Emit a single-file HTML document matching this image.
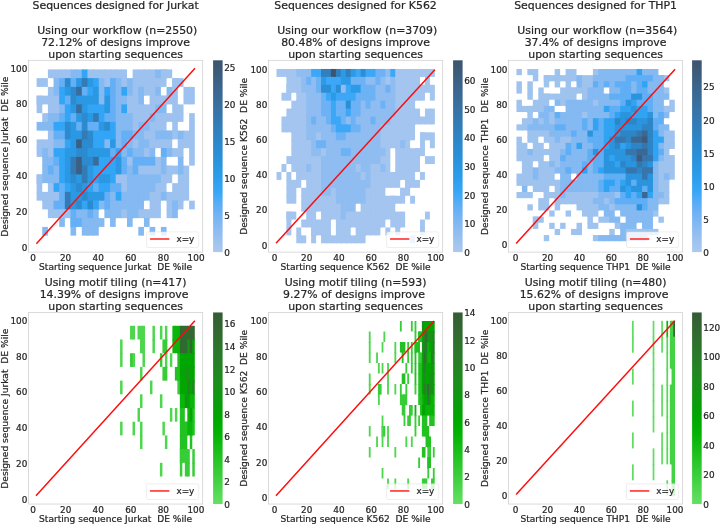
<!DOCTYPE html>
<html><head><meta charset="utf-8"><title>Designed vs starting sequence DE %ile</title>
<style>html,body{margin:0;padding:0;background:#fff}svg{display:block}text{font-family:"DejaVu Sans","Liberation Sans",sans-serif;fill:#262626;stroke:#262626;stroke-width:0.22px}.t{font-size:10.9px;text-anchor:middle}.l{font-size:9.1px;text-anchor:middle;white-space:pre}.k{font-size:8.9px}</style></head><body>
<svg width="720" height="524" viewBox="0 0 720 524">
<rect width="720" height="524" fill="#fff"/>
<defs><linearGradient id="gb" x1="0" y1="0" x2="0" y2="1"><stop offset="0.000" stop-color="#3d546e"/><stop offset="0.062" stop-color="#3d5b7b"/><stop offset="0.125" stop-color="#3c6389"/><stop offset="0.188" stop-color="#3a6a96"/><stop offset="0.250" stop-color="#3872a4"/><stop offset="0.312" stop-color="#3479b2"/><stop offset="0.375" stop-color="#3081bf"/><stop offset="0.438" stop-color="#2c89cc"/><stop offset="0.500" stop-color="#2a90d8"/><stop offset="0.562" stop-color="#2a98e3"/><stop offset="0.625" stop-color="#2e9fee"/><stop offset="0.688" stop-color="#39a7f7"/><stop offset="0.750" stop-color="#5badf6"/><stop offset="0.812" stop-color="#74b4f4"/><stop offset="0.875" stop-color="#89bbf2"/><stop offset="0.938" stop-color="#9cc2f0"/><stop offset="1.000" stop-color="#acc9ee"/></linearGradient><linearGradient id="gg" x1="0" y1="0" x2="0" y2="1"><stop offset="0.000" stop-color="#355b35"/><stop offset="0.062" stop-color="#336433"/><stop offset="0.125" stop-color="#306c30"/><stop offset="0.188" stop-color="#2c752c"/><stop offset="0.250" stop-color="#277e27"/><stop offset="0.312" stop-color="#218721"/><stop offset="0.375" stop-color="#199019"/><stop offset="0.438" stop-color="#109810"/><stop offset="0.500" stop-color="#06a006"/><stop offset="0.562" stop-color="#00a900"/><stop offset="0.625" stop-color="#03b103"/><stop offset="0.688" stop-color="#11ba11"/><stop offset="0.750" stop-color="#21c221"/><stop offset="0.812" stop-color="#31ca31"/><stop offset="0.875" stop-color="#41d141"/><stop offset="0.938" stop-color="#53d953"/><stop offset="1.000" stop-color="#65df65"/></linearGradient></defs>
<g>
<rect x="47.9" y="69.4" width="6.55" height="8.75" fill="#9dc2f0"/><rect x="53.55" y="69.4" width="6.55" height="9.65" fill="#9dc2f0"/><rect x="59.2" y="69.4" width="6.55" height="9.65" fill="#9dc2f0"/><rect x="64.85" y="69.4" width="6.55" height="9.65" fill="#9dc2f0"/><rect x="70.5" y="69.4" width="6.55" height="9.65" fill="#84b9f2"/><rect x="76.15" y="69.4" width="6.55" height="9.65" fill="#84b9f2"/><rect x="81.8" y="69.4" width="6.55" height="9.65" fill="#33a5f6"/><rect x="87.45" y="69.4" width="6.55" height="9.65" fill="#9dc2f0"/><rect x="93.1" y="69.4" width="6.55" height="9.65" fill="#9dc2f0"/><rect x="98.75" y="69.4" width="6.55" height="9.65" fill="#9dc2f0"/><rect x="104.4" y="69.4" width="6.55" height="9.65" fill="#9dc2f0"/><rect x="110.05" y="69.4" width="6.55" height="9.65" fill="#9dc2f0"/><rect x="115.7" y="69.4" width="6.55" height="9.65" fill="#9dc2f0"/><rect x="121.35" y="69.4" width="5.65" height="9.65" fill="#9dc2f0"/><rect x="132.65" y="69.4" width="6.55" height="9.65" fill="#9dc2f0"/><rect x="138.3" y="69.4" width="6.55" height="9.65" fill="#9dc2f0"/><rect x="143.95" y="69.4" width="6.55" height="9.65" fill="#9dc2f0"/><rect x="149.6" y="69.4" width="6.55" height="9.65" fill="#9dc2f0"/><rect x="155.25" y="69.4" width="6.55" height="9.65" fill="#84b9f2"/><rect x="160.9" y="69.4" width="6.55" height="8.75" fill="#9dc2f0"/><rect x="160.9" y="69.4" width="5.65" height="9.65" fill="#9dc2f0"/><rect x="166.55" y="69.4" width="5.65" height="8.75" fill="#9dc2f0"/><rect x="36.6" y="78.15" width="6.55" height="8.75" fill="#9dc2f0"/><rect x="42.25" y="78.15" width="5.65" height="8.75" fill="#9dc2f0"/><rect x="53.55" y="78.15" width="6.55" height="9.65" fill="#84b9f2"/><rect x="59.2" y="78.15" width="6.55" height="9.65" fill="#64aff5"/><rect x="64.85" y="78.15" width="6.55" height="9.65" fill="#2c8ace"/><rect x="70.5" y="78.15" width="6.55" height="9.65" fill="#64aff5"/><rect x="76.15" y="78.15" width="6.55" height="9.65" fill="#2a98e3"/><rect x="81.8" y="78.15" width="6.55" height="9.65" fill="#337bb5"/><rect x="87.45" y="78.15" width="6.55" height="9.65" fill="#2a98e3"/><rect x="93.1" y="78.15" width="6.55" height="9.65" fill="#33a5f6"/><rect x="98.75" y="78.15" width="6.55" height="9.65" fill="#84b9f2"/><rect x="104.4" y="78.15" width="6.55" height="9.65" fill="#9dc2f0"/><rect x="110.05" y="78.15" width="6.55" height="9.65" fill="#64aff5"/><rect x="115.7" y="78.15" width="6.55" height="9.65" fill="#84b9f2"/><rect x="121.35" y="78.15" width="6.55" height="9.65" fill="#9dc2f0"/><rect x="127" y="78.15" width="6.55" height="9.65" fill="#84b9f2"/><rect x="132.65" y="78.15" width="6.55" height="9.65" fill="#9dc2f0"/><rect x="138.3" y="78.15" width="6.55" height="9.65" fill="#9dc2f0"/><rect x="143.95" y="78.15" width="6.55" height="9.65" fill="#9dc2f0"/><rect x="149.6" y="78.15" width="6.55" height="9.65" fill="#9dc2f0"/><rect x="155.25" y="78.15" width="6.55" height="8.75" fill="#9dc2f0"/><rect x="155.25" y="78.15" width="5.65" height="9.65" fill="#9dc2f0"/><rect x="160.9" y="78.15" width="5.65" height="8.75" fill="#9dc2f0"/><rect x="172.2" y="78.15" width="6.55" height="8.75" fill="#9dc2f0"/><rect x="172.2" y="78.15" width="5.65" height="9.65" fill="#9dc2f0"/><rect x="177.85" y="78.15" width="5.65" height="8.75" fill="#9dc2f0"/><rect x="47.9" y="86.9" width="6.55" height="9.65" fill="#9dc2f0"/><rect x="53.55" y="86.9" width="6.55" height="9.65" fill="#84b9f2"/><rect x="59.2" y="86.9" width="6.55" height="9.65" fill="#33a5f6"/><rect x="64.85" y="86.9" width="6.55" height="9.65" fill="#2a98e3"/><rect x="70.5" y="86.9" width="6.55" height="9.65" fill="#2c8ace"/><rect x="76.15" y="86.9" width="6.55" height="9.65" fill="#3a6d9c"/><rect x="81.8" y="86.9" width="6.55" height="9.65" fill="#64aff5"/><rect x="87.45" y="86.9" width="6.55" height="9.65" fill="#33a5f6"/><rect x="93.1" y="86.9" width="6.55" height="9.65" fill="#2a98e3"/><rect x="98.75" y="86.9" width="6.55" height="9.65" fill="#84b9f2"/><rect x="104.4" y="86.9" width="6.55" height="9.65" fill="#33a5f6"/><rect x="110.05" y="86.9" width="6.55" height="9.65" fill="#64aff5"/><rect x="115.7" y="86.9" width="6.55" height="9.65" fill="#84b9f2"/><rect x="121.35" y="86.9" width="6.55" height="9.65" fill="#33a5f6"/><rect x="127" y="86.9" width="6.55" height="9.65" fill="#84b9f2"/><rect x="132.65" y="86.9" width="6.55" height="9.65" fill="#9dc2f0"/><rect x="138.3" y="86.9" width="6.55" height="8.75" fill="#84b9f2"/><rect x="138.3" y="86.9" width="5.65" height="9.65" fill="#84b9f2"/><rect x="143.95" y="86.9" width="6.55" height="8.75" fill="#9dc2f0"/><rect x="149.6" y="86.9" width="6.55" height="9.65" fill="#9dc2f0"/><rect x="155.25" y="86.9" width="5.65" height="9.65" fill="#84b9f2"/><rect x="166.55" y="86.9" width="6.55" height="9.65" fill="#84b9f2"/><rect x="172.2" y="86.9" width="5.65" height="9.65" fill="#9dc2f0"/><rect x="183.5" y="86.9" width="6.55" height="9.65" fill="#9dc2f0"/><rect x="189.15" y="86.9" width="5.65" height="9.65" fill="#9dc2f0"/><rect x="36.6" y="95.65" width="6.55" height="8.75" fill="#9dc2f0"/><rect x="36.6" y="95.65" width="5.65" height="9.65" fill="#9dc2f0"/><rect x="42.25" y="95.65" width="6.55" height="8.75" fill="#9dc2f0"/><rect x="47.9" y="95.65" width="6.55" height="9.65" fill="#9dc2f0"/><rect x="53.55" y="95.65" width="6.55" height="9.65" fill="#9dc2f0"/><rect x="59.2" y="95.65" width="6.55" height="9.65" fill="#33a5f6"/><rect x="64.85" y="95.65" width="6.55" height="9.65" fill="#64aff5"/><rect x="70.5" y="95.65" width="6.55" height="9.65" fill="#2c8ace"/><rect x="76.15" y="95.65" width="6.55" height="9.65" fill="#2a98e3"/><rect x="81.8" y="95.65" width="6.55" height="9.65" fill="#2a98e3"/><rect x="87.45" y="95.65" width="6.55" height="9.65" fill="#2a98e3"/><rect x="93.1" y="95.65" width="6.55" height="9.65" fill="#2a98e3"/><rect x="98.75" y="95.65" width="6.55" height="9.65" fill="#84b9f2"/><rect x="104.4" y="95.65" width="6.55" height="9.65" fill="#2a98e3"/><rect x="110.05" y="95.65" width="6.55" height="9.65" fill="#64aff5"/><rect x="115.7" y="95.65" width="6.55" height="9.65" fill="#84b9f2"/><rect x="121.35" y="95.65" width="6.55" height="9.65" fill="#84b9f2"/><rect x="127" y="95.65" width="6.55" height="9.65" fill="#9dc2f0"/><rect x="132.65" y="95.65" width="6.55" height="9.65" fill="#9dc2f0"/><rect x="138.3" y="95.65" width="5.65" height="9.65" fill="#84b9f2"/><rect x="149.6" y="95.65" width="6.55" height="9.65" fill="#9dc2f0"/><rect x="155.25" y="95.65" width="6.55" height="9.65" fill="#9dc2f0"/><rect x="160.9" y="95.65" width="6.55" height="8.75" fill="#9dc2f0"/><rect x="160.9" y="95.65" width="5.65" height="9.65" fill="#9dc2f0"/><rect x="166.55" y="95.65" width="6.55" height="8.75" fill="#9dc2f0"/><rect x="172.2" y="95.65" width="5.65" height="9.65" fill="#9dc2f0"/><rect x="183.5" y="95.65" width="6.55" height="8.75" fill="#9dc2f0"/><rect x="189.15" y="95.65" width="5.65" height="8.75" fill="#9dc2f0"/><rect x="36.6" y="104.4" width="5.65" height="8.75" fill="#9dc2f0"/><rect x="47.9" y="104.4" width="6.55" height="9.65" fill="#9dc2f0"/><rect x="53.55" y="104.4" width="6.55" height="9.65" fill="#9dc2f0"/><rect x="59.2" y="104.4" width="6.55" height="9.65" fill="#84b9f2"/><rect x="64.85" y="104.4" width="6.55" height="9.65" fill="#33a5f6"/><rect x="70.5" y="104.4" width="6.55" height="9.65" fill="#2a98e3"/><rect x="76.15" y="104.4" width="6.55" height="9.65" fill="#3a6d9c"/><rect x="81.8" y="104.4" width="6.55" height="9.65" fill="#2a98e3"/><rect x="87.45" y="104.4" width="6.55" height="9.65" fill="#33a5f6"/><rect x="93.1" y="104.4" width="6.55" height="9.65" fill="#33a5f6"/><rect x="98.75" y="104.4" width="6.55" height="9.65" fill="#33a5f6"/><rect x="104.4" y="104.4" width="6.55" height="9.65" fill="#2a98e3"/><rect x="110.05" y="104.4" width="6.55" height="9.65" fill="#64aff5"/><rect x="115.7" y="104.4" width="6.55" height="9.65" fill="#84b9f2"/><rect x="121.35" y="104.4" width="6.55" height="9.65" fill="#33a5f6"/><rect x="127" y="104.4" width="6.55" height="9.65" fill="#9dc2f0"/><rect x="132.65" y="104.4" width="6.55" height="9.65" fill="#9dc2f0"/><rect x="138.3" y="104.4" width="6.55" height="9.65" fill="#9dc2f0"/><rect x="143.95" y="104.4" width="6.55" height="9.65" fill="#9dc2f0"/><rect x="149.6" y="104.4" width="6.55" height="9.65" fill="#9dc2f0"/><rect x="155.25" y="104.4" width="6.55" height="9.65" fill="#84b9f2"/><rect x="160.9" y="104.4" width="5.65" height="9.65" fill="#84b9f2"/><rect x="172.2" y="104.4" width="6.55" height="9.65" fill="#9dc2f0"/><rect x="177.85" y="104.4" width="5.65" height="9.65" fill="#9dc2f0"/><rect x="42.25" y="113.15" width="6.55" height="9.65" fill="#9dc2f0"/><rect x="47.9" y="113.15" width="6.55" height="9.65" fill="#84b9f2"/><rect x="53.55" y="113.15" width="6.55" height="9.65" fill="#84b9f2"/><rect x="59.2" y="113.15" width="6.55" height="9.65" fill="#64aff5"/><rect x="64.85" y="113.15" width="6.55" height="9.65" fill="#33a5f6"/><rect x="70.5" y="113.15" width="6.55" height="9.65" fill="#64aff5"/><rect x="76.15" y="113.15" width="6.55" height="9.65" fill="#2a98e3"/><rect x="81.8" y="113.15" width="6.55" height="9.65" fill="#2c8ace"/><rect x="87.45" y="113.15" width="6.55" height="9.65" fill="#2a98e3"/><rect x="93.1" y="113.15" width="6.55" height="9.65" fill="#337bb5"/><rect x="98.75" y="113.15" width="6.55" height="9.65" fill="#33a5f6"/><rect x="104.4" y="113.15" width="6.55" height="9.65" fill="#64aff5"/><rect x="110.05" y="113.15" width="6.55" height="9.65" fill="#64aff5"/><rect x="115.7" y="113.15" width="6.55" height="9.65" fill="#84b9f2"/><rect x="121.35" y="113.15" width="6.55" height="9.65" fill="#84b9f2"/><rect x="127" y="113.15" width="6.55" height="9.65" fill="#84b9f2"/><rect x="132.65" y="113.15" width="6.55" height="9.65" fill="#9dc2f0"/><rect x="138.3" y="113.15" width="6.55" height="9.65" fill="#9dc2f0"/><rect x="143.95" y="113.15" width="6.55" height="9.65" fill="#9dc2f0"/><rect x="149.6" y="113.15" width="6.55" height="9.65" fill="#84b9f2"/><rect x="155.25" y="113.15" width="6.55" height="9.65" fill="#9dc2f0"/><rect x="160.9" y="113.15" width="6.55" height="8.75" fill="#9dc2f0"/><rect x="160.9" y="113.15" width="5.65" height="9.65" fill="#9dc2f0"/><rect x="166.55" y="113.15" width="6.55" height="8.75" fill="#9dc2f0"/><rect x="172.2" y="113.15" width="6.55" height="8.75" fill="#9dc2f0"/><rect x="172.2" y="113.15" width="5.65" height="9.65" fill="#9dc2f0"/><rect x="177.85" y="113.15" width="5.65" height="8.75" fill="#9dc2f0"/><rect x="189.15" y="113.15" width="5.65" height="9.65" fill="#9dc2f0"/><rect x="36.6" y="121.9" width="6.55" height="8.75" fill="#84b9f2"/><rect x="42.25" y="121.9" width="6.55" height="8.75" fill="#84b9f2"/><rect x="47.9" y="121.9" width="6.55" height="9.65" fill="#84b9f2"/><rect x="53.55" y="121.9" width="6.55" height="9.65" fill="#33a5f6"/><rect x="59.2" y="121.9" width="6.55" height="9.65" fill="#33a5f6"/><rect x="64.85" y="121.9" width="6.55" height="9.65" fill="#2c8ace"/><rect x="70.5" y="121.9" width="6.55" height="9.65" fill="#2a98e3"/><rect x="76.15" y="121.9" width="6.55" height="9.65" fill="#64aff5"/><rect x="81.8" y="121.9" width="6.55" height="9.65" fill="#2c8ace"/><rect x="87.45" y="121.9" width="6.55" height="9.65" fill="#64aff5"/><rect x="93.1" y="121.9" width="6.55" height="9.65" fill="#64aff5"/><rect x="98.75" y="121.9" width="6.55" height="9.65" fill="#2a98e3"/><rect x="104.4" y="121.9" width="6.55" height="9.65" fill="#2c8ace"/><rect x="110.05" y="121.9" width="6.55" height="9.65" fill="#33a5f6"/><rect x="115.7" y="121.9" width="6.55" height="9.65" fill="#84b9f2"/><rect x="121.35" y="121.9" width="6.55" height="9.65" fill="#84b9f2"/><rect x="127" y="121.9" width="6.55" height="9.65" fill="#84b9f2"/><rect x="132.65" y="121.9" width="6.55" height="9.65" fill="#9dc2f0"/><rect x="138.3" y="121.9" width="6.55" height="9.65" fill="#84b9f2"/><rect x="143.95" y="121.9" width="6.55" height="9.65" fill="#84b9f2"/><rect x="149.6" y="121.9" width="6.55" height="9.65" fill="#9dc2f0"/><rect x="155.25" y="121.9" width="6.55" height="9.65" fill="#9dc2f0"/><rect x="160.9" y="121.9" width="5.65" height="9.65" fill="#9dc2f0"/><rect x="172.2" y="121.9" width="5.65" height="9.65" fill="#9dc2f0"/><rect x="189.15" y="121.9" width="5.65" height="9.65" fill="#9dc2f0"/><rect x="47.9" y="130.65" width="6.55" height="9.65" fill="#9dc2f0"/><rect x="53.55" y="130.65" width="6.55" height="9.65" fill="#64aff5"/><rect x="59.2" y="130.65" width="6.55" height="9.65" fill="#64aff5"/><rect x="64.85" y="130.65" width="6.55" height="9.65" fill="#2c8ace"/><rect x="70.5" y="130.65" width="6.55" height="9.65" fill="#2a98e3"/><rect x="76.15" y="130.65" width="6.55" height="9.65" fill="#2a98e3"/><rect x="81.8" y="130.65" width="6.55" height="9.65" fill="#337bb5"/><rect x="87.45" y="130.65" width="6.55" height="9.65" fill="#2c8ace"/><rect x="93.1" y="130.65" width="6.55" height="9.65" fill="#33a5f6"/><rect x="98.75" y="130.65" width="6.55" height="9.65" fill="#33a5f6"/><rect x="104.4" y="130.65" width="6.55" height="9.65" fill="#33a5f6"/><rect x="110.05" y="130.65" width="6.55" height="9.65" fill="#33a5f6"/><rect x="115.7" y="130.65" width="6.55" height="9.65" fill="#84b9f2"/><rect x="121.35" y="130.65" width="6.55" height="9.65" fill="#64aff5"/><rect x="127" y="130.65" width="6.55" height="9.65" fill="#64aff5"/><rect x="132.65" y="130.65" width="6.55" height="9.65" fill="#84b9f2"/><rect x="138.3" y="130.65" width="6.55" height="9.65" fill="#84b9f2"/><rect x="143.95" y="130.65" width="6.55" height="9.65" fill="#9dc2f0"/><rect x="149.6" y="130.65" width="6.55" height="9.65" fill="#9dc2f0"/><rect x="155.25" y="130.65" width="6.55" height="9.65" fill="#84b9f2"/><rect x="160.9" y="130.65" width="6.55" height="9.65" fill="#84b9f2"/><rect x="166.55" y="130.65" width="6.55" height="8.75" fill="#84b9f2"/><rect x="166.55" y="130.65" width="5.65" height="9.65" fill="#84b9f2"/><rect x="172.2" y="130.65" width="6.55" height="8.75" fill="#9dc2f0"/><rect x="177.85" y="130.65" width="6.55" height="9.65" fill="#84b9f2"/><rect x="183.5" y="130.65" width="6.55" height="9.65" fill="#9dc2f0"/><rect x="189.15" y="130.65" width="5.65" height="9.65" fill="#9dc2f0"/><rect x="36.6" y="139.4" width="6.55" height="9.65" fill="#9dc2f0"/><rect x="42.25" y="139.4" width="6.55" height="9.65" fill="#9dc2f0"/><rect x="47.9" y="139.4" width="6.55" height="9.65" fill="#9dc2f0"/><rect x="53.55" y="139.4" width="6.55" height="9.65" fill="#84b9f2"/><rect x="59.2" y="139.4" width="6.55" height="9.65" fill="#84b9f2"/><rect x="64.85" y="139.4" width="6.55" height="9.65" fill="#33a5f6"/><rect x="70.5" y="139.4" width="6.55" height="9.65" fill="#2a98e3"/><rect x="76.15" y="139.4" width="6.55" height="9.65" fill="#3d5f81"/><rect x="81.8" y="139.4" width="6.55" height="9.65" fill="#2c8ace"/><rect x="87.45" y="139.4" width="6.55" height="9.65" fill="#2c8ace"/><rect x="93.1" y="139.4" width="6.55" height="9.65" fill="#33a5f6"/><rect x="98.75" y="139.4" width="6.55" height="9.65" fill="#33a5f6"/><rect x="104.4" y="139.4" width="6.55" height="9.65" fill="#84b9f2"/><rect x="110.05" y="139.4" width="6.55" height="9.65" fill="#2a98e3"/><rect x="115.7" y="139.4" width="6.55" height="9.65" fill="#84b9f2"/><rect x="121.35" y="139.4" width="6.55" height="9.65" fill="#64aff5"/><rect x="127" y="139.4" width="6.55" height="9.65" fill="#84b9f2"/><rect x="132.65" y="139.4" width="6.55" height="9.65" fill="#9dc2f0"/><rect x="138.3" y="139.4" width="6.55" height="9.65" fill="#84b9f2"/><rect x="143.95" y="139.4" width="6.55" height="9.65" fill="#84b9f2"/><rect x="149.6" y="139.4" width="6.55" height="8.75" fill="#9dc2f0"/><rect x="149.6" y="139.4" width="5.65" height="9.65" fill="#9dc2f0"/><rect x="155.25" y="139.4" width="6.55" height="8.75" fill="#9dc2f0"/><rect x="160.9" y="139.4" width="6.55" height="9.65" fill="#9dc2f0"/><rect x="166.55" y="139.4" width="5.65" height="9.65" fill="#9dc2f0"/><rect x="177.85" y="139.4" width="6.55" height="8.75" fill="#9dc2f0"/><rect x="177.85" y="139.4" width="5.65" height="9.65" fill="#9dc2f0"/><rect x="183.5" y="139.4" width="6.55" height="8.75" fill="#9dc2f0"/><rect x="189.15" y="139.4" width="5.65" height="9.65" fill="#9dc2f0"/><rect x="36.6" y="148.15" width="6.55" height="8.75" fill="#9dc2f0"/><rect x="42.25" y="148.15" width="6.55" height="9.65" fill="#84b9f2"/><rect x="47.9" y="148.15" width="6.55" height="9.65" fill="#9dc2f0"/><rect x="53.55" y="148.15" width="6.55" height="9.65" fill="#33a5f6"/><rect x="59.2" y="148.15" width="6.55" height="9.65" fill="#33a5f6"/><rect x="64.85" y="148.15" width="6.55" height="9.65" fill="#2a98e3"/><rect x="70.5" y="148.15" width="6.55" height="9.65" fill="#2a98e3"/><rect x="76.15" y="148.15" width="6.55" height="9.65" fill="#2c8ace"/><rect x="81.8" y="148.15" width="6.55" height="9.65" fill="#2c8ace"/><rect x="87.45" y="148.15" width="6.55" height="9.65" fill="#2a98e3"/><rect x="93.1" y="148.15" width="6.55" height="9.65" fill="#2a98e3"/><rect x="98.75" y="148.15" width="6.55" height="9.65" fill="#2a98e3"/><rect x="104.4" y="148.15" width="6.55" height="9.65" fill="#2a98e3"/><rect x="110.05" y="148.15" width="6.55" height="9.65" fill="#64aff5"/><rect x="115.7" y="148.15" width="6.55" height="9.65" fill="#33a5f6"/><rect x="121.35" y="148.15" width="6.55" height="9.65" fill="#84b9f2"/><rect x="127" y="148.15" width="6.55" height="9.65" fill="#64aff5"/><rect x="132.65" y="148.15" width="6.55" height="9.65" fill="#84b9f2"/><rect x="138.3" y="148.15" width="6.55" height="9.65" fill="#84b9f2"/><rect x="143.95" y="148.15" width="6.55" height="9.65" fill="#9dc2f0"/><rect x="149.6" y="148.15" width="5.65" height="9.65" fill="#84b9f2"/><rect x="160.9" y="148.15" width="6.55" height="8.75" fill="#64aff5"/><rect x="160.9" y="148.15" width="5.65" height="9.65" fill="#64aff5"/><rect x="166.55" y="148.15" width="6.55" height="8.75" fill="#84b9f2"/><rect x="172.2" y="148.15" width="6.55" height="8.75" fill="#9dc2f0"/><rect x="177.85" y="148.15" width="5.65" height="9.65" fill="#9dc2f0"/><rect x="189.15" y="148.15" width="5.65" height="9.65" fill="#9dc2f0"/><rect x="42.25" y="156.9" width="6.55" height="9.65" fill="#84b9f2"/><rect x="47.9" y="156.9" width="6.55" height="9.65" fill="#84b9f2"/><rect x="53.55" y="156.9" width="6.55" height="9.65" fill="#64aff5"/><rect x="59.2" y="156.9" width="6.55" height="9.65" fill="#33a5f6"/><rect x="64.85" y="156.9" width="6.55" height="9.65" fill="#2a98e3"/><rect x="70.5" y="156.9" width="6.55" height="9.65" fill="#337bb5"/><rect x="76.15" y="156.9" width="6.55" height="9.65" fill="#3d5f81"/><rect x="81.8" y="156.9" width="6.55" height="9.65" fill="#2c8ace"/><rect x="87.45" y="156.9" width="6.55" height="9.65" fill="#2c8ace"/><rect x="93.1" y="156.9" width="6.55" height="9.65" fill="#3a6d9c"/><rect x="98.75" y="156.9" width="6.55" height="9.65" fill="#33a5f6"/><rect x="104.4" y="156.9" width="6.55" height="9.65" fill="#33a5f6"/><rect x="110.05" y="156.9" width="6.55" height="9.65" fill="#33a5f6"/><rect x="115.7" y="156.9" width="6.55" height="9.65" fill="#2a98e3"/><rect x="121.35" y="156.9" width="6.55" height="9.65" fill="#64aff5"/><rect x="127" y="156.9" width="6.55" height="9.65" fill="#9dc2f0"/><rect x="132.65" y="156.9" width="6.55" height="9.65" fill="#64aff5"/><rect x="138.3" y="156.9" width="6.55" height="9.65" fill="#64aff5"/><rect x="143.95" y="156.9" width="6.55" height="9.65" fill="#64aff5"/><rect x="149.6" y="156.9" width="6.55" height="9.65" fill="#64aff5"/><rect x="155.25" y="156.9" width="6.55" height="9.65" fill="#9dc2f0"/><rect x="160.9" y="156.9" width="5.65" height="9.65" fill="#84b9f2"/><rect x="177.85" y="156.9" width="5.65" height="9.65" fill="#84b9f2"/><rect x="189.15" y="156.9" width="5.65" height="8.75" fill="#9dc2f0"/><rect x="42.25" y="165.65" width="6.55" height="9.65" fill="#84b9f2"/><rect x="47.9" y="165.65" width="6.55" height="9.65" fill="#64aff5"/><rect x="53.55" y="165.65" width="6.55" height="9.65" fill="#84b9f2"/><rect x="59.2" y="165.65" width="6.55" height="9.65" fill="#33a5f6"/><rect x="64.85" y="165.65" width="6.55" height="9.65" fill="#2a98e3"/><rect x="70.5" y="165.65" width="6.55" height="9.65" fill="#337bb5"/><rect x="76.15" y="165.65" width="6.55" height="9.65" fill="#3d5f81"/><rect x="81.8" y="165.65" width="6.55" height="9.65" fill="#337bb5"/><rect x="87.45" y="165.65" width="6.55" height="9.65" fill="#2a98e3"/><rect x="93.1" y="165.65" width="6.55" height="9.65" fill="#33a5f6"/><rect x="98.75" y="165.65" width="6.55" height="9.65" fill="#33a5f6"/><rect x="104.4" y="165.65" width="6.55" height="9.65" fill="#33a5f6"/><rect x="110.05" y="165.65" width="6.55" height="9.65" fill="#33a5f6"/><rect x="115.7" y="165.65" width="6.55" height="9.65" fill="#2a98e3"/><rect x="121.35" y="165.65" width="6.55" height="9.65" fill="#64aff5"/><rect x="127" y="165.65" width="6.55" height="9.65" fill="#84b9f2"/><rect x="132.65" y="165.65" width="6.55" height="9.65" fill="#64aff5"/><rect x="138.3" y="165.65" width="6.55" height="9.65" fill="#9dc2f0"/><rect x="143.95" y="165.65" width="6.55" height="9.65" fill="#9dc2f0"/><rect x="149.6" y="165.65" width="6.55" height="9.65" fill="#9dc2f0"/><rect x="155.25" y="165.65" width="6.55" height="9.65" fill="#9dc2f0"/><rect x="160.9" y="165.65" width="6.55" height="9.65" fill="#84b9f2"/><rect x="166.55" y="165.65" width="6.55" height="8.75" fill="#9dc2f0"/><rect x="166.55" y="165.65" width="5.65" height="9.65" fill="#9dc2f0"/><rect x="172.2" y="165.65" width="6.55" height="8.75" fill="#9dc2f0"/><rect x="177.85" y="165.65" width="6.55" height="9.65" fill="#84b9f2"/><rect x="183.5" y="165.65" width="5.65" height="9.65" fill="#9dc2f0"/><rect x="36.6" y="174.4" width="6.55" height="8.75" fill="#9dc2f0"/><rect x="36.6" y="174.4" width="5.65" height="9.65" fill="#9dc2f0"/><rect x="42.25" y="174.4" width="6.55" height="8.75" fill="#84b9f2"/><rect x="47.9" y="174.4" width="6.55" height="9.65" fill="#84b9f2"/><rect x="53.55" y="174.4" width="6.55" height="9.65" fill="#84b9f2"/><rect x="59.2" y="174.4" width="6.55" height="9.65" fill="#33a5f6"/><rect x="64.85" y="174.4" width="6.55" height="9.65" fill="#2a98e3"/><rect x="70.5" y="174.4" width="6.55" height="9.65" fill="#2c8ace"/><rect x="76.15" y="174.4" width="6.55" height="9.65" fill="#2a98e3"/><rect x="81.8" y="174.4" width="6.55" height="9.65" fill="#337bb5"/><rect x="87.45" y="174.4" width="6.55" height="9.65" fill="#2a98e3"/><rect x="93.1" y="174.4" width="6.55" height="9.65" fill="#33a5f6"/><rect x="98.75" y="174.4" width="6.55" height="9.65" fill="#2a98e3"/><rect x="104.4" y="174.4" width="6.55" height="9.65" fill="#2a98e3"/><rect x="110.05" y="174.4" width="6.55" height="9.65" fill="#33a5f6"/><rect x="115.7" y="174.4" width="6.55" height="9.65" fill="#9dc2f0"/><rect x="121.35" y="174.4" width="6.55" height="9.65" fill="#9dc2f0"/><rect x="127" y="174.4" width="6.55" height="9.65" fill="#84b9f2"/><rect x="132.65" y="174.4" width="6.55" height="9.65" fill="#84b9f2"/><rect x="138.3" y="174.4" width="6.55" height="9.65" fill="#84b9f2"/><rect x="143.95" y="174.4" width="6.55" height="9.65" fill="#84b9f2"/><rect x="149.6" y="174.4" width="6.55" height="9.65" fill="#84b9f2"/><rect x="155.25" y="174.4" width="6.55" height="9.65" fill="#84b9f2"/><rect x="160.9" y="174.4" width="6.55" height="8.75" fill="#9dc2f0"/><rect x="160.9" y="174.4" width="5.65" height="9.65" fill="#9dc2f0"/><rect x="166.55" y="174.4" width="5.65" height="8.75" fill="#9dc2f0"/><rect x="177.85" y="174.4" width="6.55" height="9.65" fill="#9dc2f0"/><rect x="183.5" y="174.4" width="5.65" height="9.65" fill="#9dc2f0"/><rect x="36.6" y="183.15" width="5.65" height="9.65" fill="#9dc2f0"/><rect x="47.9" y="183.15" width="6.55" height="9.65" fill="#9dc2f0"/><rect x="53.55" y="183.15" width="6.55" height="9.65" fill="#33a5f6"/><rect x="59.2" y="183.15" width="6.55" height="9.65" fill="#64aff5"/><rect x="64.85" y="183.15" width="6.55" height="9.65" fill="#33a5f6"/><rect x="70.5" y="183.15" width="6.55" height="9.65" fill="#2a98e3"/><rect x="76.15" y="183.15" width="6.55" height="9.65" fill="#2c8ace"/><rect x="81.8" y="183.15" width="6.55" height="9.65" fill="#2a98e3"/><rect x="87.45" y="183.15" width="6.55" height="9.65" fill="#33a5f6"/><rect x="93.1" y="183.15" width="6.55" height="9.65" fill="#64aff5"/><rect x="98.75" y="183.15" width="6.55" height="9.65" fill="#33a5f6"/><rect x="104.4" y="183.15" width="6.55" height="9.65" fill="#33a5f6"/><rect x="110.05" y="183.15" width="6.55" height="9.65" fill="#64aff5"/><rect x="115.7" y="183.15" width="6.55" height="9.65" fill="#64aff5"/><rect x="121.35" y="183.15" width="6.55" height="9.65" fill="#9dc2f0"/><rect x="127" y="183.15" width="6.55" height="9.65" fill="#84b9f2"/><rect x="132.65" y="183.15" width="6.55" height="9.65" fill="#84b9f2"/><rect x="138.3" y="183.15" width="6.55" height="9.65" fill="#84b9f2"/><rect x="143.95" y="183.15" width="6.55" height="9.65" fill="#84b9f2"/><rect x="149.6" y="183.15" width="6.55" height="9.65" fill="#84b9f2"/><rect x="155.25" y="183.15" width="6.55" height="9.65" fill="#9dc2f0"/><rect x="160.9" y="183.15" width="5.65" height="9.65" fill="#9dc2f0"/><rect x="172.2" y="183.15" width="6.55" height="9.65" fill="#9dc2f0"/><rect x="177.85" y="183.15" width="6.55" height="9.65" fill="#9dc2f0"/><rect x="183.5" y="183.15" width="5.65" height="9.65" fill="#9dc2f0"/><rect x="36.6" y="191.9" width="6.55" height="8.75" fill="#9dc2f0"/><rect x="42.25" y="191.9" width="6.55" height="9.65" fill="#9dc2f0"/><rect x="47.9" y="191.9" width="6.55" height="9.65" fill="#9dc2f0"/><rect x="53.55" y="191.9" width="6.55" height="9.65" fill="#9dc2f0"/><rect x="59.2" y="191.9" width="6.55" height="9.65" fill="#64aff5"/><rect x="64.85" y="191.9" width="6.55" height="9.65" fill="#337bb5"/><rect x="70.5" y="191.9" width="6.55" height="9.65" fill="#2a98e3"/><rect x="76.15" y="191.9" width="6.55" height="9.65" fill="#2a98e3"/><rect x="81.8" y="191.9" width="6.55" height="9.65" fill="#2c8ace"/><rect x="87.45" y="191.9" width="6.55" height="9.65" fill="#2a98e3"/><rect x="93.1" y="191.9" width="6.55" height="9.65" fill="#2a98e3"/><rect x="98.75" y="191.9" width="6.55" height="9.65" fill="#2a98e3"/><rect x="104.4" y="191.9" width="6.55" height="9.65" fill="#64aff5"/><rect x="110.05" y="191.9" width="6.55" height="9.65" fill="#84b9f2"/><rect x="115.7" y="191.9" width="6.55" height="9.65" fill="#33a5f6"/><rect x="121.35" y="191.9" width="6.55" height="9.65" fill="#84b9f2"/><rect x="127" y="191.9" width="6.55" height="9.65" fill="#84b9f2"/><rect x="132.65" y="191.9" width="6.55" height="9.65" fill="#84b9f2"/><rect x="138.3" y="191.9" width="6.55" height="8.75" fill="#84b9f2"/><rect x="138.3" y="191.9" width="5.65" height="9.65" fill="#84b9f2"/><rect x="143.95" y="191.9" width="6.55" height="8.75" fill="#84b9f2"/><rect x="149.6" y="191.9" width="6.55" height="9.65" fill="#9dc2f0"/><rect x="155.25" y="191.9" width="6.55" height="8.75" fill="#9dc2f0"/><rect x="155.25" y="191.9" width="5.65" height="9.65" fill="#9dc2f0"/><rect x="160.9" y="191.9" width="6.55" height="8.75" fill="#84b9f2"/><rect x="166.55" y="191.9" width="6.55" height="9.65" fill="#9dc2f0"/><rect x="172.2" y="191.9" width="6.55" height="9.65" fill="#9dc2f0"/><rect x="177.85" y="191.9" width="6.55" height="8.75" fill="#9dc2f0"/><rect x="177.85" y="191.9" width="5.65" height="9.65" fill="#9dc2f0"/><rect x="183.5" y="191.9" width="5.65" height="8.75" fill="#9dc2f0"/><rect x="42.25" y="200.65" width="6.55" height="8.75" fill="#9dc2f0"/><rect x="47.9" y="200.65" width="6.55" height="9.65" fill="#9dc2f0"/><rect x="53.55" y="200.65" width="6.55" height="9.65" fill="#64aff5"/><rect x="59.2" y="200.65" width="6.55" height="9.65" fill="#64aff5"/><rect x="64.85" y="200.65" width="6.55" height="9.65" fill="#337bb5"/><rect x="70.5" y="200.65" width="6.55" height="9.65" fill="#2a98e3"/><rect x="76.15" y="200.65" width="6.55" height="9.65" fill="#2c8ace"/><rect x="81.8" y="200.65" width="6.55" height="9.65" fill="#33a5f6"/><rect x="87.45" y="200.65" width="6.55" height="9.65" fill="#2c8ace"/><rect x="93.1" y="200.65" width="6.55" height="8.75" fill="#33a5f6"/><rect x="93.1" y="200.65" width="5.65" height="9.65" fill="#33a5f6"/><rect x="98.75" y="200.65" width="6.55" height="8.75" fill="#84b9f2"/><rect x="104.4" y="200.65" width="6.55" height="9.65" fill="#64aff5"/><rect x="110.05" y="200.65" width="6.55" height="9.65" fill="#84b9f2"/><rect x="115.7" y="200.65" width="6.55" height="9.65" fill="#84b9f2"/><rect x="121.35" y="200.65" width="6.55" height="9.65" fill="#84b9f2"/><rect x="127" y="200.65" width="6.55" height="9.65" fill="#84b9f2"/><rect x="132.65" y="200.65" width="6.55" height="9.65" fill="#84b9f2"/><rect x="138.3" y="200.65" width="5.65" height="9.65" fill="#84b9f2"/><rect x="149.6" y="200.65" width="6.55" height="9.65" fill="#9dc2f0"/><rect x="155.25" y="200.65" width="5.65" height="9.65" fill="#9dc2f0"/><rect x="166.55" y="200.65" width="6.55" height="9.65" fill="#9dc2f0"/><rect x="172.2" y="200.65" width="6.55" height="8.75" fill="#84b9f2"/><rect x="172.2" y="200.65" width="5.65" height="9.65" fill="#84b9f2"/><rect x="177.85" y="200.65" width="5.65" height="8.75" fill="#9dc2f0"/><rect x="189.15" y="200.65" width="5.65" height="8.75" fill="#9dc2f0"/><rect x="47.9" y="209.4" width="6.55" height="8.75" fill="#9dc2f0"/><rect x="53.55" y="209.4" width="6.55" height="8.75" fill="#9dc2f0"/><rect x="59.2" y="209.4" width="6.55" height="8.75" fill="#9dc2f0"/><rect x="59.2" y="209.4" width="5.65" height="9.65" fill="#9dc2f0"/><rect x="64.85" y="209.4" width="6.55" height="8.75" fill="#9dc2f0"/><rect x="70.5" y="209.4" width="6.55" height="9.65" fill="#64aff5"/><rect x="76.15" y="209.4" width="6.55" height="9.65" fill="#84b9f2"/><rect x="81.8" y="209.4" width="6.55" height="9.65" fill="#84b9f2"/><rect x="87.45" y="209.4" width="6.55" height="9.65" fill="#64aff5"/><rect x="93.1" y="209.4" width="5.65" height="9.65" fill="#84b9f2"/><rect x="104.4" y="209.4" width="6.55" height="8.75" fill="#84b9f2"/><rect x="110.05" y="209.4" width="6.55" height="8.75" fill="#84b9f2"/><rect x="110.05" y="209.4" width="5.65" height="9.65" fill="#84b9f2"/><rect x="115.7" y="209.4" width="6.55" height="8.75" fill="#84b9f2"/><rect x="121.35" y="209.4" width="6.55" height="8.75" fill="#9dc2f0"/><rect x="127" y="209.4" width="6.55" height="8.75" fill="#84b9f2"/><rect x="127" y="209.4" width="5.65" height="9.65" fill="#84b9f2"/><rect x="132.65" y="209.4" width="6.55" height="8.75" fill="#84b9f2"/><rect x="138.3" y="209.4" width="6.55" height="8.75" fill="#9dc2f0"/><rect x="143.95" y="209.4" width="6.55" height="8.75" fill="#9dc2f0"/><rect x="143.95" y="209.4" width="5.65" height="9.65" fill="#9dc2f0"/><rect x="149.6" y="209.4" width="6.55" height="8.75" fill="#9dc2f0"/><rect x="155.25" y="209.4" width="5.65" height="8.75" fill="#9dc2f0"/><rect x="166.55" y="209.4" width="6.55" height="8.75" fill="#9dc2f0"/><rect x="172.2" y="209.4" width="5.65" height="8.75" fill="#84b9f2"/><rect x="59.2" y="218.15" width="5.65" height="8.75" fill="#84b9f2"/><rect x="70.5" y="218.15" width="6.55" height="8.75" fill="#64aff5"/><rect x="70.5" y="218.15" width="5.65" height="9.65" fill="#64aff5"/><rect x="76.15" y="218.15" width="6.55" height="8.75" fill="#64aff5"/><rect x="81.8" y="218.15" width="6.55" height="9.65" fill="#84b9f2"/><rect x="87.45" y="218.15" width="6.55" height="9.65" fill="#84b9f2"/><rect x="93.1" y="218.15" width="6.55" height="8.75" fill="#84b9f2"/><rect x="93.1" y="218.15" width="5.65" height="9.65" fill="#84b9f2"/><rect x="98.75" y="218.15" width="5.65" height="8.75" fill="#84b9f2"/><rect x="110.05" y="218.15" width="5.65" height="8.75" fill="#84b9f2"/><rect x="127" y="218.15" width="5.65" height="8.75" fill="#84b9f2"/><rect x="143.95" y="218.15" width="5.65" height="8.75" fill="#84b9f2"/><rect x="42.25" y="226.9" width="5.65" height="8.75" fill="#84b9f2"/><rect x="70.5" y="226.9" width="5.65" height="8.75" fill="#84b9f2"/><rect x="81.8" y="226.9" width="6.55" height="8.75" fill="#84b9f2"/><rect x="87.45" y="226.9" width="6.55" height="8.75" fill="#84b9f2"/><rect x="93.1" y="226.9" width="5.65" height="8.75" fill="#84b9f2"/><rect x="138.3" y="226.9" width="5.65" height="8.75" fill="#84b9f2"/><rect x="149.6" y="226.9" width="5.65" height="8.75" fill="#84b9f2"/><rect x="160.9" y="226.9" width="5.65" height="8.75" fill="#84b9f2"/>
<line x1="36.4" y1="243.75" x2="195" y2="68.3" stroke="#ff0a0a" stroke-width="1.45" stroke-linecap="butt"/>
<rect x="28.5" y="60.3" width="174.2" height="191.8" fill="none" stroke="#d2d2d2" stroke-width="0.8"/>
<rect x="146.6" y="231.9" width="52.1" height="15.6" rx="1.5" fill="#fff" fill-opacity="0.8" stroke="#dcdcdc" stroke-opacity="0.8" stroke-width="0.6"/>
<line x1="150.05" y1="239" x2="169.4" y2="239" stroke="#ff1a1a" stroke-width="1.45"/>
<text class="k" x="176.4" y="242">x=y</text>
<text class="k" text-anchor="middle" x="33" y="260.7">0</text>
<text class="k" text-anchor="end" x="27.4" y="250.85">0</text>
<text class="k" text-anchor="middle" x="65.62" y="260.7">20</text>
<text class="k" text-anchor="end" x="27.4" y="215.01">20</text>
<text class="k" text-anchor="middle" x="98.24" y="260.7">40</text>
<text class="k" text-anchor="end" x="27.4" y="179.17">40</text>
<text class="k" text-anchor="middle" x="130.86" y="260.7">60</text>
<text class="k" text-anchor="end" x="27.4" y="143.33">60</text>
<text class="k" text-anchor="middle" x="163.48" y="260.7">80</text>
<text class="k" text-anchor="end" x="27.4" y="107.49">80</text>
<text class="k" text-anchor="middle" x="196.1" y="260.7">100</text>
<text class="k" text-anchor="end" x="27.4" y="71.65">100</text>
<text class="l" x="115.6" y="269.6" xml:space="preserve">Starting sequence Jurkat  DE %ile</text>
<text class="l" style="font-size:9.15px" transform="translate(7.5 156.65) rotate(-90)" xml:space="preserve">Designed sequence Jurkat  DE %ile</text>
<text class="t" x="115.6" y="8.9">Sequences designed for Jurkat</text>
<text class="t" x="117.3" y="33.7">Using our workflow (n=2550)</text>
<text class="t" x="115.6" y="45.7">72.12% of designs improve</text>
<text class="t" x="115.6" y="57.7">upon starting sequences</text>
<rect x="213.1" y="60.3" width="9.5" height="191.8" fill="url(#gb)"/>
<text class="k" x="224.2" y="255.8">0</text>
<text class="k" x="224.2" y="218.92">5</text>
<text class="k" x="224.2" y="182.03">10</text>
<text class="k" x="224.2" y="145.15">15</text>
<text class="k" x="224.2" y="108.26">20</text>
<text class="k" x="224.2" y="71.38">25</text>
</g>
<g>
<rect x="276.5" y="68.96" width="5.85" height="7.92" fill="#a3c5ef"/><rect x="281.45" y="68.96" width="5.85" height="7.92" fill="#a3c5ef"/><rect x="286.4" y="68.96" width="5.85" height="8.82" fill="#a3c5ef"/><rect x="291.34" y="68.96" width="5.85" height="8.82" fill="#a3c5ef"/><rect x="296.29" y="68.96" width="5.85" height="8.82" fill="#8fbdf1"/><rect x="301.24" y="68.96" width="5.85" height="8.82" fill="#8fbdf1"/><rect x="306.19" y="68.96" width="5.85" height="8.82" fill="#8fbdf1"/><rect x="311.14" y="68.96" width="5.85" height="8.82" fill="#3ca7f7"/><rect x="316.08" y="68.96" width="5.85" height="8.82" fill="#3ca7f7"/><rect x="321.03" y="68.96" width="5.85" height="8.82" fill="#3180bd"/><rect x="325.98" y="68.96" width="5.85" height="8.82" fill="#3180bd"/><rect x="330.93" y="68.96" width="5.85" height="8.82" fill="#3d546e"/><rect x="335.88" y="68.96" width="5.85" height="8.82" fill="#3180bd"/><rect x="340.82" y="68.96" width="5.85" height="8.82" fill="#2b9be8"/><rect x="345.77" y="68.96" width="5.85" height="8.82" fill="#3180bd"/><rect x="350.72" y="68.96" width="5.85" height="8.82" fill="#2b9be8"/><rect x="355.67" y="68.96" width="5.85" height="8.82" fill="#3ca7f7"/><rect x="360.62" y="68.96" width="5.85" height="8.82" fill="#2a8fd6"/><rect x="365.56" y="68.96" width="5.85" height="8.82" fill="#3ca7f7"/><rect x="370.51" y="68.96" width="5.85" height="8.82" fill="#3ca7f7"/><rect x="375.46" y="68.96" width="5.85" height="8.82" fill="#6cb2f5"/><rect x="380.41" y="68.96" width="5.85" height="8.82" fill="#6cb2f5"/><rect x="385.36" y="68.96" width="5.85" height="8.82" fill="#8fbdf1"/><rect x="390.3" y="68.96" width="5.85" height="8.82" fill="#3ca7f7"/><rect x="395.25" y="68.96" width="5.85" height="8.82" fill="#a3c5ef"/><rect x="400.2" y="68.96" width="5.85" height="8.82" fill="#a3c5ef"/><rect x="405.15" y="68.96" width="5.85" height="8.82" fill="#a3c5ef"/><rect x="410.1" y="68.96" width="5.85" height="8.82" fill="#a3c5ef"/><rect x="415.04" y="68.96" width="5.85" height="7.92" fill="#a3c5ef"/><rect x="415.04" y="68.96" width="4.95" height="8.82" fill="#a3c5ef"/><rect x="419.99" y="68.96" width="5.85" height="7.92" fill="#a3c5ef"/><rect x="424.94" y="68.96" width="5.85" height="7.92" fill="#a3c5ef"/><rect x="424.94" y="68.96" width="4.95" height="8.82" fill="#a3c5ef"/><rect x="429.89" y="68.96" width="4.95" height="7.92" fill="#a3c5ef"/><rect x="286.4" y="76.88" width="5.85" height="8.82" fill="#a3c5ef"/><rect x="291.34" y="76.88" width="5.85" height="8.82" fill="#a3c5ef"/><rect x="296.29" y="76.88" width="5.85" height="8.82" fill="#a3c5ef"/><rect x="301.24" y="76.88" width="5.85" height="8.82" fill="#8fbdf1"/><rect x="306.19" y="76.88" width="5.85" height="8.82" fill="#6cb2f5"/><rect x="311.14" y="76.88" width="5.85" height="8.82" fill="#8fbdf1"/><rect x="316.08" y="76.88" width="5.85" height="8.82" fill="#6cb2f5"/><rect x="321.03" y="76.88" width="5.85" height="8.82" fill="#2b9be8"/><rect x="325.98" y="76.88" width="5.85" height="8.82" fill="#3ca7f7"/><rect x="330.93" y="76.88" width="5.85" height="8.82" fill="#3ca7f7"/><rect x="335.88" y="76.88" width="5.85" height="8.82" fill="#3ca7f7"/><rect x="340.82" y="76.88" width="5.85" height="8.82" fill="#2b9be8"/><rect x="345.77" y="76.88" width="5.85" height="8.82" fill="#2b9be8"/><rect x="350.72" y="76.88" width="5.85" height="8.82" fill="#6cb2f5"/><rect x="355.67" y="76.88" width="5.85" height="8.82" fill="#6cb2f5"/><rect x="360.62" y="76.88" width="5.85" height="8.82" fill="#6cb2f5"/><rect x="365.56" y="76.88" width="5.85" height="8.82" fill="#8fbdf1"/><rect x="370.51" y="76.88" width="5.85" height="8.82" fill="#8fbdf1"/><rect x="375.46" y="76.88" width="5.85" height="8.82" fill="#6cb2f5"/><rect x="380.41" y="76.88" width="5.85" height="8.82" fill="#8fbdf1"/><rect x="385.36" y="76.88" width="5.85" height="8.82" fill="#a3c5ef"/><rect x="390.3" y="76.88" width="5.85" height="8.82" fill="#8fbdf1"/><rect x="395.25" y="76.88" width="5.85" height="8.82" fill="#a3c5ef"/><rect x="400.2" y="76.88" width="5.85" height="8.82" fill="#a3c5ef"/><rect x="405.15" y="76.88" width="5.85" height="8.82" fill="#a3c5ef"/><rect x="410.1" y="76.88" width="5.85" height="8.82" fill="#a3c5ef"/><rect x="415.04" y="76.88" width="4.95" height="8.82" fill="#a3c5ef"/><rect x="424.94" y="76.88" width="4.95" height="8.82" fill="#a3c5ef"/><rect x="286.4" y="84.81" width="5.85" height="7.92" fill="#a3c5ef"/><rect x="286.4" y="84.81" width="4.95" height="8.82" fill="#a3c5ef"/><rect x="291.34" y="84.81" width="5.85" height="7.92" fill="#a3c5ef"/><rect x="296.29" y="84.81" width="5.85" height="8.82" fill="#a3c5ef"/><rect x="301.24" y="84.81" width="5.85" height="8.82" fill="#8fbdf1"/><rect x="306.19" y="84.81" width="5.85" height="8.82" fill="#8fbdf1"/><rect x="311.14" y="84.81" width="5.85" height="8.82" fill="#8fbdf1"/><rect x="316.08" y="84.81" width="5.85" height="8.82" fill="#6cb2f5"/><rect x="321.03" y="84.81" width="5.85" height="8.82" fill="#2a8fd6"/><rect x="325.98" y="84.81" width="5.85" height="8.82" fill="#2a8fd6"/><rect x="330.93" y="84.81" width="5.85" height="8.82" fill="#3ca7f7"/><rect x="335.88" y="84.81" width="5.85" height="8.82" fill="#2a8fd6"/><rect x="340.82" y="84.81" width="5.85" height="8.82" fill="#8fbdf1"/><rect x="345.77" y="84.81" width="5.85" height="8.82" fill="#3ca7f7"/><rect x="350.72" y="84.81" width="5.85" height="8.82" fill="#2b9be8"/><rect x="355.67" y="84.81" width="5.85" height="8.82" fill="#2b9be8"/><rect x="360.62" y="84.81" width="5.85" height="8.82" fill="#6cb2f5"/><rect x="365.56" y="84.81" width="5.85" height="8.82" fill="#6cb2f5"/><rect x="370.51" y="84.81" width="5.85" height="8.82" fill="#6cb2f5"/><rect x="375.46" y="84.81" width="5.85" height="8.82" fill="#8fbdf1"/><rect x="380.41" y="84.81" width="5.85" height="8.82" fill="#8fbdf1"/><rect x="385.36" y="84.81" width="5.85" height="8.82" fill="#6cb2f5"/><rect x="390.3" y="84.81" width="5.85" height="8.82" fill="#8fbdf1"/><rect x="395.25" y="84.81" width="5.85" height="8.82" fill="#a3c5ef"/><rect x="400.2" y="84.81" width="5.85" height="8.82" fill="#a3c5ef"/><rect x="405.15" y="84.81" width="5.85" height="8.82" fill="#a3c5ef"/><rect x="410.1" y="84.81" width="5.85" height="8.82" fill="#a3c5ef"/><rect x="415.04" y="84.81" width="5.85" height="8.82" fill="#a3c5ef"/><rect x="419.99" y="84.81" width="5.85" height="7.92" fill="#a3c5ef"/><rect x="419.99" y="84.81" width="4.95" height="8.82" fill="#a3c5ef"/><rect x="424.94" y="84.81" width="5.85" height="7.92" fill="#a3c5ef"/><rect x="429.89" y="84.81" width="4.95" height="8.82" fill="#a3c5ef"/><rect x="281.45" y="92.73" width="5.85" height="7.92" fill="#a3c5ef"/><rect x="286.4" y="92.73" width="4.95" height="7.92" fill="#a3c5ef"/><rect x="296.29" y="92.73" width="5.85" height="8.82" fill="#a3c5ef"/><rect x="301.24" y="92.73" width="5.85" height="8.82" fill="#a3c5ef"/><rect x="306.19" y="92.73" width="5.85" height="8.82" fill="#8fbdf1"/><rect x="311.14" y="92.73" width="5.85" height="8.82" fill="#8fbdf1"/><rect x="316.08" y="92.73" width="5.85" height="8.82" fill="#8fbdf1"/><rect x="321.03" y="92.73" width="5.85" height="8.82" fill="#6cb2f5"/><rect x="325.98" y="92.73" width="5.85" height="8.82" fill="#3ca7f7"/><rect x="330.93" y="92.73" width="5.85" height="8.82" fill="#2b9be8"/><rect x="335.88" y="92.73" width="5.85" height="8.82" fill="#3ca7f7"/><rect x="340.82" y="92.73" width="5.85" height="8.82" fill="#3ca7f7"/><rect x="345.77" y="92.73" width="5.85" height="8.82" fill="#3ca7f7"/><rect x="350.72" y="92.73" width="5.85" height="8.82" fill="#3ca7f7"/><rect x="355.67" y="92.73" width="5.85" height="8.82" fill="#6cb2f5"/><rect x="360.62" y="92.73" width="5.85" height="8.82" fill="#6cb2f5"/><rect x="365.56" y="92.73" width="5.85" height="8.82" fill="#6cb2f5"/><rect x="370.51" y="92.73" width="5.85" height="8.82" fill="#6cb2f5"/><rect x="375.46" y="92.73" width="5.85" height="8.82" fill="#8fbdf1"/><rect x="380.41" y="92.73" width="5.85" height="8.82" fill="#8fbdf1"/><rect x="385.36" y="92.73" width="5.85" height="8.82" fill="#8fbdf1"/><rect x="390.3" y="92.73" width="5.85" height="8.82" fill="#8fbdf1"/><rect x="395.25" y="92.73" width="5.85" height="8.82" fill="#a3c5ef"/><rect x="400.2" y="92.73" width="5.85" height="8.82" fill="#a3c5ef"/><rect x="405.15" y="92.73" width="5.85" height="8.82" fill="#a3c5ef"/><rect x="410.1" y="92.73" width="5.85" height="7.92" fill="#a3c5ef"/><rect x="410.1" y="92.73" width="4.95" height="8.82" fill="#a3c5ef"/><rect x="415.04" y="92.73" width="5.85" height="7.92" fill="#a3c5ef"/><rect x="419.99" y="92.73" width="4.95" height="7.92" fill="#a3c5ef"/><rect x="429.89" y="92.73" width="4.95" height="7.92" fill="#a3c5ef"/><rect x="291.34" y="100.66" width="5.85" height="8.82" fill="#a3c5ef"/><rect x="296.29" y="100.66" width="5.85" height="8.82" fill="#a3c5ef"/><rect x="301.24" y="100.66" width="5.85" height="8.82" fill="#a3c5ef"/><rect x="306.19" y="100.66" width="5.85" height="8.82" fill="#8fbdf1"/><rect x="311.14" y="100.66" width="5.85" height="8.82" fill="#8fbdf1"/><rect x="316.08" y="100.66" width="5.85" height="8.82" fill="#8fbdf1"/><rect x="321.03" y="100.66" width="5.85" height="8.82" fill="#6cb2f5"/><rect x="325.98" y="100.66" width="5.85" height="8.82" fill="#6cb2f5"/><rect x="330.93" y="100.66" width="5.85" height="8.82" fill="#3ca7f7"/><rect x="335.88" y="100.66" width="5.85" height="8.82" fill="#6cb2f5"/><rect x="340.82" y="100.66" width="5.85" height="8.82" fill="#6cb2f5"/><rect x="345.77" y="100.66" width="5.85" height="8.82" fill="#2a8fd6"/><rect x="350.72" y="100.66" width="5.85" height="8.82" fill="#6cb2f5"/><rect x="355.67" y="100.66" width="5.85" height="8.82" fill="#6cb2f5"/><rect x="360.62" y="100.66" width="5.85" height="8.82" fill="#8fbdf1"/><rect x="365.56" y="100.66" width="5.85" height="8.82" fill="#6cb2f5"/><rect x="370.51" y="100.66" width="5.85" height="8.82" fill="#8fbdf1"/><rect x="375.46" y="100.66" width="5.85" height="8.82" fill="#8fbdf1"/><rect x="380.41" y="100.66" width="5.85" height="8.82" fill="#6cb2f5"/><rect x="385.36" y="100.66" width="5.85" height="8.82" fill="#8fbdf1"/><rect x="390.3" y="100.66" width="5.85" height="8.82" fill="#8fbdf1"/><rect x="395.25" y="100.66" width="5.85" height="8.82" fill="#a3c5ef"/><rect x="400.2" y="100.66" width="5.85" height="8.82" fill="#a3c5ef"/><rect x="405.15" y="100.66" width="5.85" height="8.82" fill="#a3c5ef"/><rect x="410.1" y="100.66" width="4.95" height="8.82" fill="#a3c5ef"/><rect x="286.4" y="108.58" width="5.85" height="8.82" fill="#a3c5ef"/><rect x="291.34" y="108.58" width="5.85" height="8.82" fill="#a3c5ef"/><rect x="296.29" y="108.58" width="5.85" height="8.82" fill="#a3c5ef"/><rect x="301.24" y="108.58" width="5.85" height="8.82" fill="#a3c5ef"/><rect x="306.19" y="108.58" width="5.85" height="8.82" fill="#8fbdf1"/><rect x="311.14" y="108.58" width="5.85" height="8.82" fill="#8fbdf1"/><rect x="316.08" y="108.58" width="5.85" height="8.82" fill="#8fbdf1"/><rect x="321.03" y="108.58" width="5.85" height="8.82" fill="#6cb2f5"/><rect x="325.98" y="108.58" width="5.85" height="8.82" fill="#6cb2f5"/><rect x="330.93" y="108.58" width="5.85" height="8.82" fill="#3ca7f7"/><rect x="335.88" y="108.58" width="5.85" height="8.82" fill="#6cb2f5"/><rect x="340.82" y="108.58" width="5.85" height="8.82" fill="#6cb2f5"/><rect x="345.77" y="108.58" width="5.85" height="8.82" fill="#3ca7f7"/><rect x="350.72" y="108.58" width="5.85" height="8.82" fill="#6cb2f5"/><rect x="355.67" y="108.58" width="5.85" height="8.82" fill="#6cb2f5"/><rect x="360.62" y="108.58" width="5.85" height="8.82" fill="#8fbdf1"/><rect x="365.56" y="108.58" width="5.85" height="8.82" fill="#8fbdf1"/><rect x="370.51" y="108.58" width="5.85" height="8.82" fill="#8fbdf1"/><rect x="375.46" y="108.58" width="5.85" height="8.82" fill="#8fbdf1"/><rect x="380.41" y="108.58" width="5.85" height="8.82" fill="#8fbdf1"/><rect x="385.36" y="108.58" width="5.85" height="8.82" fill="#8fbdf1"/><rect x="390.3" y="108.58" width="5.85" height="8.82" fill="#8fbdf1"/><rect x="395.25" y="108.58" width="5.85" height="8.82" fill="#a3c5ef"/><rect x="400.2" y="108.58" width="5.85" height="8.82" fill="#a3c5ef"/><rect x="405.15" y="108.58" width="5.85" height="8.82" fill="#a3c5ef"/><rect x="410.1" y="108.58" width="5.85" height="8.82" fill="#a3c5ef"/><rect x="415.04" y="108.58" width="4.95" height="8.82" fill="#a3c5ef"/><rect x="424.94" y="108.58" width="5.85" height="8.82" fill="#a3c5ef"/><rect x="429.89" y="108.58" width="4.95" height="8.82" fill="#a3c5ef"/><rect x="281.45" y="116.51" width="5.85" height="8.82" fill="#a3c5ef"/><rect x="286.4" y="116.51" width="5.85" height="8.82" fill="#a3c5ef"/><rect x="291.34" y="116.51" width="5.85" height="8.82" fill="#a3c5ef"/><rect x="296.29" y="116.51" width="5.85" height="8.82" fill="#a3c5ef"/><rect x="301.24" y="116.51" width="5.85" height="8.82" fill="#a3c5ef"/><rect x="306.19" y="116.51" width="5.85" height="8.82" fill="#8fbdf1"/><rect x="311.14" y="116.51" width="5.85" height="8.82" fill="#6cb2f5"/><rect x="316.08" y="116.51" width="5.85" height="8.82" fill="#8fbdf1"/><rect x="321.03" y="116.51" width="5.85" height="8.82" fill="#8fbdf1"/><rect x="325.98" y="116.51" width="5.85" height="8.82" fill="#6cb2f5"/><rect x="330.93" y="116.51" width="5.85" height="8.82" fill="#3ca7f7"/><rect x="335.88" y="116.51" width="5.85" height="8.82" fill="#3ca7f7"/><rect x="340.82" y="116.51" width="5.85" height="8.82" fill="#6cb2f5"/><rect x="345.77" y="116.51" width="5.85" height="8.82" fill="#8fbdf1"/><rect x="350.72" y="116.51" width="5.85" height="8.82" fill="#6cb2f5"/><rect x="355.67" y="116.51" width="5.85" height="8.82" fill="#8fbdf1"/><rect x="360.62" y="116.51" width="5.85" height="8.82" fill="#8fbdf1"/><rect x="365.56" y="116.51" width="5.85" height="8.82" fill="#8fbdf1"/><rect x="370.51" y="116.51" width="5.85" height="8.82" fill="#6cb2f5"/><rect x="375.46" y="116.51" width="5.85" height="8.82" fill="#8fbdf1"/><rect x="380.41" y="116.51" width="5.85" height="8.82" fill="#8fbdf1"/><rect x="385.36" y="116.51" width="5.85" height="8.82" fill="#8fbdf1"/><rect x="390.3" y="116.51" width="5.85" height="8.82" fill="#a3c5ef"/><rect x="395.25" y="116.51" width="5.85" height="8.82" fill="#a3c5ef"/><rect x="400.2" y="116.51" width="5.85" height="8.82" fill="#a3c5ef"/><rect x="405.15" y="116.51" width="5.85" height="8.82" fill="#a3c5ef"/><rect x="410.1" y="116.51" width="5.85" height="7.92" fill="#a3c5ef"/><rect x="410.1" y="116.51" width="4.95" height="8.82" fill="#a3c5ef"/><rect x="415.04" y="116.51" width="5.85" height="7.92" fill="#a3c5ef"/><rect x="419.99" y="116.51" width="5.85" height="7.92" fill="#a3c5ef"/><rect x="424.94" y="116.51" width="5.85" height="7.92" fill="#a3c5ef"/><rect x="429.89" y="116.51" width="4.95" height="7.92" fill="#a3c5ef"/><rect x="281.45" y="124.44" width="5.85" height="7.92" fill="#a3c5ef"/><rect x="286.4" y="124.44" width="5.85" height="7.92" fill="#a3c5ef"/><rect x="291.34" y="124.44" width="5.85" height="8.82" fill="#a3c5ef"/><rect x="296.29" y="124.44" width="5.85" height="8.82" fill="#a3c5ef"/><rect x="301.24" y="124.44" width="5.85" height="8.82" fill="#a3c5ef"/><rect x="306.19" y="124.44" width="5.85" height="8.82" fill="#8fbdf1"/><rect x="311.14" y="124.44" width="5.85" height="8.82" fill="#8fbdf1"/><rect x="316.08" y="124.44" width="5.85" height="8.82" fill="#8fbdf1"/><rect x="321.03" y="124.44" width="5.85" height="8.82" fill="#8fbdf1"/><rect x="325.98" y="124.44" width="5.85" height="8.82" fill="#8fbdf1"/><rect x="330.93" y="124.44" width="5.85" height="8.82" fill="#6cb2f5"/><rect x="335.88" y="124.44" width="5.85" height="8.82" fill="#3ca7f7"/><rect x="340.82" y="124.44" width="5.85" height="8.82" fill="#3ca7f7"/><rect x="345.77" y="124.44" width="5.85" height="8.82" fill="#3ca7f7"/><rect x="350.72" y="124.44" width="5.85" height="8.82" fill="#6cb2f5"/><rect x="355.67" y="124.44" width="5.85" height="8.82" fill="#6cb2f5"/><rect x="360.62" y="124.44" width="5.85" height="8.82" fill="#8fbdf1"/><rect x="365.56" y="124.44" width="5.85" height="8.82" fill="#8fbdf1"/><rect x="370.51" y="124.44" width="5.85" height="8.82" fill="#8fbdf1"/><rect x="375.46" y="124.44" width="5.85" height="8.82" fill="#8fbdf1"/><rect x="380.41" y="124.44" width="5.85" height="8.82" fill="#a3c5ef"/><rect x="385.36" y="124.44" width="5.85" height="8.82" fill="#a3c5ef"/><rect x="390.3" y="124.44" width="5.85" height="8.82" fill="#a3c5ef"/><rect x="395.25" y="124.44" width="5.85" height="8.82" fill="#a3c5ef"/><rect x="400.2" y="124.44" width="5.85" height="8.82" fill="#a3c5ef"/><rect x="405.15" y="124.44" width="5.85" height="8.82" fill="#a3c5ef"/><rect x="410.1" y="124.44" width="4.95" height="8.82" fill="#a3c5ef"/><rect x="291.34" y="132.36" width="5.85" height="8.82" fill="#a3c5ef"/><rect x="296.29" y="132.36" width="5.85" height="8.82" fill="#a3c5ef"/><rect x="301.24" y="132.36" width="5.85" height="8.82" fill="#a3c5ef"/><rect x="306.19" y="132.36" width="5.85" height="8.82" fill="#8fbdf1"/><rect x="311.14" y="132.36" width="5.85" height="8.82" fill="#8fbdf1"/><rect x="316.08" y="132.36" width="5.85" height="8.82" fill="#a3c5ef"/><rect x="321.03" y="132.36" width="5.85" height="8.82" fill="#8fbdf1"/><rect x="325.98" y="132.36" width="5.85" height="8.82" fill="#8fbdf1"/><rect x="330.93" y="132.36" width="5.85" height="8.82" fill="#8fbdf1"/><rect x="335.88" y="132.36" width="5.85" height="8.82" fill="#6cb2f5"/><rect x="340.82" y="132.36" width="5.85" height="8.82" fill="#6cb2f5"/><rect x="345.77" y="132.36" width="5.85" height="8.82" fill="#8fbdf1"/><rect x="350.72" y="132.36" width="5.85" height="8.82" fill="#8fbdf1"/><rect x="355.67" y="132.36" width="5.85" height="8.82" fill="#8fbdf1"/><rect x="360.62" y="132.36" width="5.85" height="8.82" fill="#8fbdf1"/><rect x="365.56" y="132.36" width="5.85" height="8.82" fill="#8fbdf1"/><rect x="370.51" y="132.36" width="5.85" height="8.82" fill="#8fbdf1"/><rect x="375.46" y="132.36" width="5.85" height="8.82" fill="#8fbdf1"/><rect x="380.41" y="132.36" width="5.85" height="8.82" fill="#a3c5ef"/><rect x="385.36" y="132.36" width="5.85" height="8.82" fill="#a3c5ef"/><rect x="390.3" y="132.36" width="5.85" height="8.82" fill="#a3c5ef"/><rect x="395.25" y="132.36" width="5.85" height="8.82" fill="#a3c5ef"/><rect x="400.2" y="132.36" width="5.85" height="8.82" fill="#a3c5ef"/><rect x="405.15" y="132.36" width="5.85" height="7.92" fill="#a3c5ef"/><rect x="405.15" y="132.36" width="4.95" height="8.82" fill="#a3c5ef"/><rect x="410.1" y="132.36" width="4.95" height="7.92" fill="#a3c5ef"/><rect x="419.99" y="132.36" width="5.85" height="7.92" fill="#a3c5ef"/><rect x="419.99" y="132.36" width="4.95" height="8.82" fill="#a3c5ef"/><rect x="424.94" y="132.36" width="5.85" height="7.92" fill="#a3c5ef"/><rect x="429.89" y="132.36" width="4.95" height="8.82" fill="#a3c5ef"/><rect x="291.34" y="140.28" width="5.85" height="8.82" fill="#a3c5ef"/><rect x="296.29" y="140.28" width="5.85" height="8.82" fill="#a3c5ef"/><rect x="301.24" y="140.28" width="5.85" height="8.82" fill="#a3c5ef"/><rect x="306.19" y="140.28" width="5.85" height="8.82" fill="#a3c5ef"/><rect x="311.14" y="140.28" width="5.85" height="8.82" fill="#8fbdf1"/><rect x="316.08" y="140.28" width="5.85" height="8.82" fill="#6cb2f5"/><rect x="321.03" y="140.28" width="5.85" height="8.82" fill="#6cb2f5"/><rect x="325.98" y="140.28" width="5.85" height="8.82" fill="#8fbdf1"/><rect x="330.93" y="140.28" width="5.85" height="8.82" fill="#8fbdf1"/><rect x="335.88" y="140.28" width="5.85" height="8.82" fill="#8fbdf1"/><rect x="340.82" y="140.28" width="5.85" height="8.82" fill="#8fbdf1"/><rect x="345.77" y="140.28" width="5.85" height="8.82" fill="#8fbdf1"/><rect x="350.72" y="140.28" width="5.85" height="8.82" fill="#8fbdf1"/><rect x="355.67" y="140.28" width="5.85" height="8.82" fill="#8fbdf1"/><rect x="360.62" y="140.28" width="5.85" height="8.82" fill="#8fbdf1"/><rect x="365.56" y="140.28" width="5.85" height="8.82" fill="#8fbdf1"/><rect x="370.51" y="140.28" width="5.85" height="8.82" fill="#8fbdf1"/><rect x="375.46" y="140.28" width="5.85" height="8.82" fill="#8fbdf1"/><rect x="380.41" y="140.28" width="5.85" height="8.82" fill="#a3c5ef"/><rect x="385.36" y="140.28" width="5.85" height="7.92" fill="#a3c5ef"/><rect x="385.36" y="140.28" width="4.95" height="8.82" fill="#a3c5ef"/><rect x="390.3" y="140.28" width="5.85" height="7.92" fill="#a3c5ef"/><rect x="395.25" y="140.28" width="5.85" height="8.82" fill="#a3c5ef"/><rect x="400.2" y="140.28" width="5.85" height="8.82" fill="#8fbdf1"/><rect x="405.15" y="140.28" width="4.95" height="8.82" fill="#a3c5ef"/><rect x="419.99" y="140.28" width="4.95" height="8.82" fill="#a3c5ef"/><rect x="429.89" y="140.28" width="4.95" height="7.92" fill="#a3c5ef"/><rect x="291.34" y="148.21" width="5.85" height="8.82" fill="#a3c5ef"/><rect x="296.29" y="148.21" width="5.85" height="8.82" fill="#a3c5ef"/><rect x="301.24" y="148.21" width="5.85" height="8.82" fill="#a3c5ef"/><rect x="306.19" y="148.21" width="5.85" height="8.82" fill="#a3c5ef"/><rect x="311.14" y="148.21" width="5.85" height="8.82" fill="#8fbdf1"/><rect x="316.08" y="148.21" width="5.85" height="8.82" fill="#8fbdf1"/><rect x="321.03" y="148.21" width="5.85" height="8.82" fill="#a3c5ef"/><rect x="325.98" y="148.21" width="5.85" height="8.82" fill="#8fbdf1"/><rect x="330.93" y="148.21" width="5.85" height="8.82" fill="#8fbdf1"/><rect x="335.88" y="148.21" width="5.85" height="8.82" fill="#8fbdf1"/><rect x="340.82" y="148.21" width="5.85" height="8.82" fill="#6cb2f5"/><rect x="345.77" y="148.21" width="5.85" height="8.82" fill="#6cb2f5"/><rect x="350.72" y="148.21" width="5.85" height="8.82" fill="#8fbdf1"/><rect x="355.67" y="148.21" width="5.85" height="8.82" fill="#8fbdf1"/><rect x="360.62" y="148.21" width="5.85" height="8.82" fill="#8fbdf1"/><rect x="365.56" y="148.21" width="5.85" height="8.82" fill="#8fbdf1"/><rect x="370.51" y="148.21" width="5.85" height="8.82" fill="#8fbdf1"/><rect x="375.46" y="148.21" width="5.85" height="8.82" fill="#8fbdf1"/><rect x="380.41" y="148.21" width="5.85" height="8.82" fill="#8fbdf1"/><rect x="385.36" y="148.21" width="4.95" height="8.82" fill="#a3c5ef"/><rect x="395.25" y="148.21" width="5.85" height="8.82" fill="#a3c5ef"/><rect x="400.2" y="148.21" width="5.85" height="8.82" fill="#a3c5ef"/><rect x="405.15" y="148.21" width="5.85" height="8.82" fill="#a3c5ef"/><rect x="410.1" y="148.21" width="5.85" height="8.82" fill="#a3c5ef"/><rect x="415.04" y="148.21" width="5.85" height="7.92" fill="#a3c5ef"/><rect x="415.04" y="148.21" width="4.95" height="8.82" fill="#a3c5ef"/><rect x="419.99" y="148.21" width="4.95" height="7.92" fill="#a3c5ef"/><rect x="286.4" y="156.13" width="5.85" height="7.92" fill="#a3c5ef"/><rect x="291.34" y="156.13" width="5.85" height="8.82" fill="#a3c5ef"/><rect x="296.29" y="156.13" width="5.85" height="8.82" fill="#a3c5ef"/><rect x="301.24" y="156.13" width="5.85" height="8.82" fill="#a3c5ef"/><rect x="306.19" y="156.13" width="5.85" height="8.82" fill="#a3c5ef"/><rect x="311.14" y="156.13" width="5.85" height="8.82" fill="#a3c5ef"/><rect x="316.08" y="156.13" width="5.85" height="8.82" fill="#a3c5ef"/><rect x="321.03" y="156.13" width="5.85" height="8.82" fill="#8fbdf1"/><rect x="325.98" y="156.13" width="5.85" height="8.82" fill="#8fbdf1"/><rect x="330.93" y="156.13" width="5.85" height="8.82" fill="#8fbdf1"/><rect x="335.88" y="156.13" width="5.85" height="8.82" fill="#8fbdf1"/><rect x="340.82" y="156.13" width="5.85" height="8.82" fill="#8fbdf1"/><rect x="345.77" y="156.13" width="5.85" height="8.82" fill="#8fbdf1"/><rect x="350.72" y="156.13" width="5.85" height="8.82" fill="#8fbdf1"/><rect x="355.67" y="156.13" width="5.85" height="8.82" fill="#8fbdf1"/><rect x="360.62" y="156.13" width="5.85" height="8.82" fill="#8fbdf1"/><rect x="365.56" y="156.13" width="5.85" height="8.82" fill="#8fbdf1"/><rect x="370.51" y="156.13" width="5.85" height="8.82" fill="#8fbdf1"/><rect x="375.46" y="156.13" width="5.85" height="8.82" fill="#8fbdf1"/><rect x="380.41" y="156.13" width="5.85" height="8.82" fill="#a3c5ef"/><rect x="385.36" y="156.13" width="4.95" height="8.82" fill="#a3c5ef"/><rect x="395.25" y="156.13" width="5.85" height="8.82" fill="#a3c5ef"/><rect x="400.2" y="156.13" width="5.85" height="8.82" fill="#a3c5ef"/><rect x="405.15" y="156.13" width="5.85" height="8.82" fill="#a3c5ef"/><rect x="410.1" y="156.13" width="5.85" height="8.82" fill="#a3c5ef"/><rect x="415.04" y="156.13" width="4.95" height="8.82" fill="#a3c5ef"/><rect x="424.94" y="156.13" width="5.85" height="7.92" fill="#a3c5ef"/><rect x="429.89" y="156.13" width="4.95" height="7.92" fill="#a3c5ef"/><rect x="281.45" y="164.06" width="4.95" height="7.92" fill="#a3c5ef"/><rect x="291.34" y="164.06" width="5.85" height="7.92" fill="#a3c5ef"/><rect x="296.29" y="164.06" width="5.85" height="8.82" fill="#a3c5ef"/><rect x="301.24" y="164.06" width="5.85" height="8.82" fill="#a3c5ef"/><rect x="306.19" y="164.06" width="5.85" height="8.82" fill="#8fbdf1"/><rect x="311.14" y="164.06" width="5.85" height="8.82" fill="#a3c5ef"/><rect x="316.08" y="164.06" width="5.85" height="8.82" fill="#a3c5ef"/><rect x="321.03" y="164.06" width="5.85" height="8.82" fill="#8fbdf1"/><rect x="325.98" y="164.06" width="5.85" height="8.82" fill="#8fbdf1"/><rect x="330.93" y="164.06" width="5.85" height="8.82" fill="#8fbdf1"/><rect x="335.88" y="164.06" width="5.85" height="8.82" fill="#8fbdf1"/><rect x="340.82" y="164.06" width="5.85" height="8.82" fill="#8fbdf1"/><rect x="345.77" y="164.06" width="5.85" height="8.82" fill="#8fbdf1"/><rect x="350.72" y="164.06" width="5.85" height="8.82" fill="#8fbdf1"/><rect x="355.67" y="164.06" width="5.85" height="8.82" fill="#a3c5ef"/><rect x="360.62" y="164.06" width="5.85" height="8.82" fill="#8fbdf1"/><rect x="365.56" y="164.06" width="5.85" height="8.82" fill="#8fbdf1"/><rect x="370.51" y="164.06" width="5.85" height="8.82" fill="#a3c5ef"/><rect x="375.46" y="164.06" width="5.85" height="8.82" fill="#a3c5ef"/><rect x="380.41" y="164.06" width="5.85" height="8.82" fill="#8fbdf1"/><rect x="385.36" y="164.06" width="4.95" height="8.82" fill="#a3c5ef"/><rect x="395.25" y="164.06" width="5.85" height="8.82" fill="#a3c5ef"/><rect x="400.2" y="164.06" width="5.85" height="8.82" fill="#a3c5ef"/><rect x="405.15" y="164.06" width="5.85" height="8.82" fill="#a3c5ef"/><rect x="410.1" y="164.06" width="5.85" height="7.92" fill="#a3c5ef"/><rect x="410.1" y="164.06" width="4.95" height="8.82" fill="#a3c5ef"/><rect x="415.04" y="164.06" width="4.95" height="7.92" fill="#a3c5ef"/><rect x="276.5" y="171.98" width="4.95" height="7.92" fill="#a3c5ef"/><rect x="286.4" y="171.98" width="4.95" height="8.82" fill="#a3c5ef"/><rect x="296.29" y="171.98" width="5.85" height="7.92" fill="#a3c5ef"/><rect x="296.29" y="171.98" width="4.95" height="8.82" fill="#a3c5ef"/><rect x="301.24" y="171.98" width="5.85" height="7.92" fill="#a3c5ef"/><rect x="306.19" y="171.98" width="5.85" height="8.82" fill="#a3c5ef"/><rect x="311.14" y="171.98" width="5.85" height="8.82" fill="#a3c5ef"/><rect x="316.08" y="171.98" width="5.85" height="8.82" fill="#a3c5ef"/><rect x="321.03" y="171.98" width="5.85" height="8.82" fill="#8fbdf1"/><rect x="325.98" y="171.98" width="5.85" height="8.82" fill="#8fbdf1"/><rect x="330.93" y="171.98" width="5.85" height="8.82" fill="#8fbdf1"/><rect x="335.88" y="171.98" width="5.85" height="8.82" fill="#8fbdf1"/><rect x="340.82" y="171.98" width="5.85" height="8.82" fill="#8fbdf1"/><rect x="345.77" y="171.98" width="5.85" height="8.82" fill="#8fbdf1"/><rect x="350.72" y="171.98" width="5.85" height="8.82" fill="#8fbdf1"/><rect x="355.67" y="171.98" width="5.85" height="8.82" fill="#8fbdf1"/><rect x="360.62" y="171.98" width="5.85" height="8.82" fill="#a3c5ef"/><rect x="365.56" y="171.98" width="5.85" height="8.82" fill="#8fbdf1"/><rect x="370.51" y="171.98" width="5.85" height="8.82" fill="#a3c5ef"/><rect x="375.46" y="171.98" width="5.85" height="8.82" fill="#a3c5ef"/><rect x="380.41" y="171.98" width="5.85" height="8.82" fill="#a3c5ef"/><rect x="385.36" y="171.98" width="5.85" height="8.82" fill="#a3c5ef"/><rect x="390.3" y="171.98" width="5.85" height="8.82" fill="#a3c5ef"/><rect x="395.25" y="171.98" width="5.85" height="7.92" fill="#a3c5ef"/><rect x="395.25" y="171.98" width="4.95" height="8.82" fill="#a3c5ef"/><rect x="400.2" y="171.98" width="5.85" height="7.92" fill="#a3c5ef"/><rect x="405.15" y="171.98" width="5.85" height="8.82" fill="#a3c5ef"/><rect x="410.1" y="171.98" width="4.95" height="8.82" fill="#a3c5ef"/><rect x="419.99" y="171.98" width="4.95" height="7.92" fill="#a3c5ef"/><rect x="286.4" y="179.91" width="5.85" height="8.82" fill="#a3c5ef"/><rect x="291.34" y="179.91" width="5.85" height="7.92" fill="#a3c5ef"/><rect x="291.34" y="179.91" width="4.95" height="8.82" fill="#a3c5ef"/><rect x="296.29" y="179.91" width="4.95" height="7.92" fill="#a3c5ef"/><rect x="306.19" y="179.91" width="5.85" height="8.82" fill="#a3c5ef"/><rect x="311.14" y="179.91" width="5.85" height="8.82" fill="#a3c5ef"/><rect x="316.08" y="179.91" width="5.85" height="8.82" fill="#a3c5ef"/><rect x="321.03" y="179.91" width="5.85" height="8.82" fill="#8fbdf1"/><rect x="325.98" y="179.91" width="5.85" height="8.82" fill="#8fbdf1"/><rect x="330.93" y="179.91" width="5.85" height="8.82" fill="#8fbdf1"/><rect x="335.88" y="179.91" width="5.85" height="8.82" fill="#8fbdf1"/><rect x="340.82" y="179.91" width="5.85" height="8.82" fill="#8fbdf1"/><rect x="345.77" y="179.91" width="5.85" height="8.82" fill="#8fbdf1"/><rect x="350.72" y="179.91" width="5.85" height="8.82" fill="#8fbdf1"/><rect x="355.67" y="179.91" width="5.85" height="8.82" fill="#8fbdf1"/><rect x="360.62" y="179.91" width="5.85" height="8.82" fill="#8fbdf1"/><rect x="365.56" y="179.91" width="5.85" height="8.82" fill="#8fbdf1"/><rect x="370.51" y="179.91" width="5.85" height="8.82" fill="#a3c5ef"/><rect x="375.46" y="179.91" width="5.85" height="8.82" fill="#a3c5ef"/><rect x="380.41" y="179.91" width="5.85" height="7.92" fill="#a3c5ef"/><rect x="380.41" y="179.91" width="4.95" height="8.82" fill="#a3c5ef"/><rect x="385.36" y="179.91" width="5.85" height="7.92" fill="#a3c5ef"/><rect x="390.3" y="179.91" width="5.85" height="7.92" fill="#a3c5ef"/><rect x="395.25" y="179.91" width="4.95" height="7.92" fill="#a3c5ef"/><rect x="405.15" y="179.91" width="5.85" height="7.92" fill="#a3c5ef"/><rect x="405.15" y="179.91" width="4.95" height="8.82" fill="#a3c5ef"/><rect x="410.1" y="179.91" width="5.85" height="7.92" fill="#a3c5ef"/><rect x="415.04" y="179.91" width="4.95" height="7.92" fill="#a3c5ef"/><rect x="286.4" y="187.83" width="5.85" height="8.82" fill="#a3c5ef"/><rect x="291.34" y="187.83" width="4.95" height="8.82" fill="#a3c5ef"/><rect x="301.24" y="187.83" width="5.85" height="8.82" fill="#a3c5ef"/><rect x="306.19" y="187.83" width="5.85" height="8.82" fill="#a3c5ef"/><rect x="311.14" y="187.83" width="5.85" height="8.82" fill="#a3c5ef"/><rect x="316.08" y="187.83" width="5.85" height="8.82" fill="#a3c5ef"/><rect x="321.03" y="187.83" width="5.85" height="8.82" fill="#8fbdf1"/><rect x="325.98" y="187.83" width="5.85" height="8.82" fill="#8fbdf1"/><rect x="330.93" y="187.83" width="5.85" height="8.82" fill="#a3c5ef"/><rect x="335.88" y="187.83" width="5.85" height="8.82" fill="#8fbdf1"/><rect x="340.82" y="187.83" width="5.85" height="8.82" fill="#8fbdf1"/><rect x="345.77" y="187.83" width="5.85" height="8.82" fill="#8fbdf1"/><rect x="350.72" y="187.83" width="5.85" height="8.82" fill="#8fbdf1"/><rect x="355.67" y="187.83" width="5.85" height="8.82" fill="#8fbdf1"/><rect x="360.62" y="187.83" width="5.85" height="8.82" fill="#8fbdf1"/><rect x="365.56" y="187.83" width="5.85" height="8.82" fill="#a3c5ef"/><rect x="370.51" y="187.83" width="5.85" height="8.82" fill="#a3c5ef"/><rect x="375.46" y="187.83" width="5.85" height="8.82" fill="#a3c5ef"/><rect x="380.41" y="187.83" width="4.95" height="8.82" fill="#a3c5ef"/><rect x="400.2" y="187.83" width="5.85" height="7.92" fill="#a3c5ef"/><rect x="400.2" y="187.83" width="4.95" height="8.82" fill="#a3c5ef"/><rect x="405.15" y="187.83" width="4.95" height="7.92" fill="#a3c5ef"/><rect x="286.4" y="195.76" width="5.85" height="7.92" fill="#a3c5ef"/><rect x="291.34" y="195.76" width="4.95" height="7.92" fill="#a3c5ef"/><rect x="301.24" y="195.76" width="5.85" height="8.82" fill="#a3c5ef"/><rect x="306.19" y="195.76" width="5.85" height="8.82" fill="#a3c5ef"/><rect x="311.14" y="195.76" width="5.85" height="8.82" fill="#a3c5ef"/><rect x="316.08" y="195.76" width="5.85" height="8.82" fill="#a3c5ef"/><rect x="321.03" y="195.76" width="5.85" height="8.82" fill="#a3c5ef"/><rect x="325.98" y="195.76" width="5.85" height="8.82" fill="#a3c5ef"/><rect x="330.93" y="195.76" width="5.85" height="8.82" fill="#a3c5ef"/><rect x="335.88" y="195.76" width="5.85" height="8.82" fill="#8fbdf1"/><rect x="340.82" y="195.76" width="5.85" height="8.82" fill="#8fbdf1"/><rect x="345.77" y="195.76" width="5.85" height="8.82" fill="#8fbdf1"/><rect x="350.72" y="195.76" width="5.85" height="7.92" fill="#8fbdf1"/><rect x="350.72" y="195.76" width="4.95" height="8.82" fill="#8fbdf1"/><rect x="355.67" y="195.76" width="5.85" height="7.92" fill="#8fbdf1"/><rect x="360.62" y="195.76" width="5.85" height="8.82" fill="#8fbdf1"/><rect x="365.56" y="195.76" width="5.85" height="8.82" fill="#a3c5ef"/><rect x="370.51" y="195.76" width="5.85" height="8.82" fill="#a3c5ef"/><rect x="375.46" y="195.76" width="5.85" height="8.82" fill="#a3c5ef"/><rect x="380.41" y="195.76" width="5.85" height="8.82" fill="#a3c5ef"/><rect x="385.36" y="195.76" width="5.85" height="8.82" fill="#a3c5ef"/><rect x="390.3" y="195.76" width="5.85" height="7.92" fill="#a3c5ef"/><rect x="390.3" y="195.76" width="4.95" height="8.82" fill="#a3c5ef"/><rect x="395.25" y="195.76" width="5.85" height="7.92" fill="#a3c5ef"/><rect x="400.2" y="195.76" width="4.95" height="7.92" fill="#a3c5ef"/><rect x="410.1" y="195.76" width="4.95" height="7.92" fill="#a3c5ef"/><rect x="301.24" y="203.69" width="5.85" height="7.92" fill="#a3c5ef"/><rect x="306.19" y="203.69" width="5.85" height="8.82" fill="#a3c5ef"/><rect x="311.14" y="203.69" width="5.85" height="7.92" fill="#a3c5ef"/><rect x="311.14" y="203.69" width="4.95" height="8.82" fill="#a3c5ef"/><rect x="316.08" y="203.69" width="5.85" height="7.92" fill="#a3c5ef"/><rect x="321.03" y="203.69" width="5.85" height="8.82" fill="#a3c5ef"/><rect x="325.98" y="203.69" width="5.85" height="8.82" fill="#a3c5ef"/><rect x="330.93" y="203.69" width="5.85" height="8.82" fill="#a3c5ef"/><rect x="335.88" y="203.69" width="5.85" height="8.82" fill="#a3c5ef"/><rect x="340.82" y="203.69" width="5.85" height="8.82" fill="#8fbdf1"/><rect x="345.77" y="203.69" width="5.85" height="8.82" fill="#8fbdf1"/><rect x="350.72" y="203.69" width="4.95" height="8.82" fill="#8fbdf1"/><rect x="360.62" y="203.69" width="5.85" height="8.82" fill="#a3c5ef"/><rect x="365.56" y="203.69" width="5.85" height="8.82" fill="#a3c5ef"/><rect x="370.51" y="203.69" width="5.85" height="8.82" fill="#a3c5ef"/><rect x="375.46" y="203.69" width="5.85" height="8.82" fill="#a3c5ef"/><rect x="380.41" y="203.69" width="5.85" height="8.82" fill="#a3c5ef"/><rect x="385.36" y="203.69" width="5.85" height="8.82" fill="#a3c5ef"/><rect x="390.3" y="203.69" width="4.95" height="8.82" fill="#a3c5ef"/><rect x="286.4" y="211.61" width="5.85" height="7.92" fill="#a3c5ef"/><rect x="286.4" y="211.61" width="4.95" height="8.82" fill="#a3c5ef"/><rect x="291.34" y="211.61" width="4.95" height="7.92" fill="#a3c5ef"/><rect x="306.19" y="211.61" width="5.85" height="8.82" fill="#a3c5ef"/><rect x="311.14" y="211.61" width="4.95" height="8.82" fill="#a3c5ef"/><rect x="321.03" y="211.61" width="5.85" height="8.82" fill="#a3c5ef"/><rect x="325.98" y="211.61" width="5.85" height="7.92" fill="#a3c5ef"/><rect x="325.98" y="211.61" width="4.95" height="8.82" fill="#a3c5ef"/><rect x="330.93" y="211.61" width="5.85" height="7.92" fill="#a3c5ef"/><rect x="335.88" y="211.61" width="5.85" height="8.82" fill="#a3c5ef"/><rect x="340.82" y="211.61" width="5.85" height="8.82" fill="#8fbdf1"/><rect x="345.77" y="211.61" width="5.85" height="8.82" fill="#a3c5ef"/><rect x="350.72" y="211.61" width="5.85" height="8.82" fill="#a3c5ef"/><rect x="355.67" y="211.61" width="5.85" height="8.82" fill="#a3c5ef"/><rect x="360.62" y="211.61" width="5.85" height="8.82" fill="#a3c5ef"/><rect x="365.56" y="211.61" width="5.85" height="8.82" fill="#a3c5ef"/><rect x="370.51" y="211.61" width="5.85" height="8.82" fill="#a3c5ef"/><rect x="375.46" y="211.61" width="5.85" height="8.82" fill="#a3c5ef"/><rect x="380.41" y="211.61" width="5.85" height="7.92" fill="#a3c5ef"/><rect x="380.41" y="211.61" width="4.95" height="8.82" fill="#a3c5ef"/><rect x="385.36" y="211.61" width="5.85" height="7.92" fill="#a3c5ef"/><rect x="390.3" y="211.61" width="5.85" height="8.82" fill="#a3c5ef"/><rect x="395.25" y="211.61" width="5.85" height="8.82" fill="#a3c5ef"/><rect x="400.2" y="211.61" width="4.95" height="8.82" fill="#a3c5ef"/><rect x="424.94" y="211.61" width="4.95" height="7.92" fill="#a3c5ef"/><rect x="286.4" y="219.53" width="4.95" height="8.82" fill="#a3c5ef"/><rect x="301.24" y="219.53" width="5.85" height="7.92" fill="#a3c5ef"/><rect x="306.19" y="219.53" width="5.85" height="7.92" fill="#a3c5ef"/><rect x="311.14" y="219.53" width="5.85" height="8.82" fill="#a3c5ef"/><rect x="316.08" y="219.53" width="5.85" height="8.82" fill="#a3c5ef"/><rect x="321.03" y="219.53" width="5.85" height="8.82" fill="#a3c5ef"/><rect x="325.98" y="219.53" width="4.95" height="8.82" fill="#a3c5ef"/><rect x="335.88" y="219.53" width="5.85" height="8.82" fill="#a3c5ef"/><rect x="340.82" y="219.53" width="5.85" height="8.82" fill="#a3c5ef"/><rect x="345.77" y="219.53" width="5.85" height="7.92" fill="#a3c5ef"/><rect x="345.77" y="219.53" width="4.95" height="8.82" fill="#a3c5ef"/><rect x="350.72" y="219.53" width="5.85" height="7.92" fill="#a3c5ef"/><rect x="355.67" y="219.53" width="5.85" height="8.82" fill="#a3c5ef"/><rect x="360.62" y="219.53" width="5.85" height="8.82" fill="#a3c5ef"/><rect x="365.56" y="219.53" width="5.85" height="8.82" fill="#a3c5ef"/><rect x="370.51" y="219.53" width="5.85" height="8.82" fill="#a3c5ef"/><rect x="375.46" y="219.53" width="5.85" height="7.92" fill="#a3c5ef"/><rect x="375.46" y="219.53" width="4.95" height="8.82" fill="#a3c5ef"/><rect x="380.41" y="219.53" width="4.95" height="7.92" fill="#a3c5ef"/><rect x="390.3" y="219.53" width="5.85" height="7.92" fill="#a3c5ef"/><rect x="395.25" y="219.53" width="5.85" height="7.92" fill="#a3c5ef"/><rect x="395.25" y="219.53" width="4.95" height="8.82" fill="#a3c5ef"/><rect x="400.2" y="219.53" width="4.95" height="7.92" fill="#a3c5ef"/><rect x="419.99" y="219.53" width="4.95" height="8.82" fill="#a3c5ef"/><rect x="286.4" y="227.46" width="4.95" height="7.92" fill="#a3c5ef"/><rect x="296.29" y="227.46" width="4.95" height="8.82" fill="#a3c5ef"/><rect x="311.14" y="227.46" width="5.85" height="7.92" fill="#a3c5ef"/><rect x="311.14" y="227.46" width="4.95" height="8.82" fill="#a3c5ef"/><rect x="316.08" y="227.46" width="5.85" height="7.92" fill="#a3c5ef"/><rect x="321.03" y="227.46" width="5.85" height="8.82" fill="#a3c5ef"/><rect x="325.98" y="227.46" width="4.95" height="8.82" fill="#a3c5ef"/><rect x="335.88" y="227.46" width="5.85" height="8.82" fill="#a3c5ef"/><rect x="340.82" y="227.46" width="5.85" height="8.82" fill="#a3c5ef"/><rect x="345.77" y="227.46" width="4.95" height="8.82" fill="#a3c5ef"/><rect x="355.67" y="227.46" width="5.85" height="8.82" fill="#a3c5ef"/><rect x="360.62" y="227.46" width="5.85" height="7.92" fill="#a3c5ef"/><rect x="360.62" y="227.46" width="4.95" height="8.82" fill="#a3c5ef"/><rect x="365.56" y="227.46" width="5.85" height="7.92" fill="#a3c5ef"/><rect x="370.51" y="227.46" width="5.85" height="7.92" fill="#a3c5ef"/><rect x="375.46" y="227.46" width="4.95" height="7.92" fill="#a3c5ef"/><rect x="385.36" y="227.46" width="4.95" height="7.92" fill="#a3c5ef"/><rect x="395.25" y="227.46" width="4.95" height="7.92" fill="#a3c5ef"/><rect x="419.99" y="227.46" width="4.95" height="7.92" fill="#a3c5ef"/><rect x="296.29" y="235.38" width="5.85" height="7.92" fill="#a3c5ef"/><rect x="301.24" y="235.38" width="4.95" height="7.92" fill="#a3c5ef"/><rect x="311.14" y="235.38" width="4.95" height="7.92" fill="#a3c5ef"/><rect x="321.03" y="235.38" width="5.85" height="7.92" fill="#a3c5ef"/><rect x="325.98" y="235.38" width="5.85" height="7.92" fill="#a3c5ef"/><rect x="330.93" y="235.38" width="5.85" height="7.92" fill="#a3c5ef"/><rect x="335.88" y="235.38" width="5.85" height="7.92" fill="#a3c5ef"/><rect x="340.82" y="235.38" width="5.85" height="7.92" fill="#a3c5ef"/><rect x="345.77" y="235.38" width="5.85" height="7.92" fill="#a3c5ef"/><rect x="350.72" y="235.38" width="5.85" height="7.92" fill="#a3c5ef"/><rect x="355.67" y="235.38" width="5.85" height="7.92" fill="#a3c5ef"/><rect x="360.62" y="235.38" width="4.95" height="7.92" fill="#a3c5ef"/><rect x="410.1" y="235.38" width="4.95" height="7.92" fill="#a3c5ef"/>
<line x1="276" y1="243.3" x2="434.85" y2="69.8" stroke="#ff0a0a" stroke-width="1.45" stroke-linecap="butt"/>
<rect x="268.45" y="60.3" width="174.25" height="191.8" fill="none" stroke="#d2d2d2" stroke-width="0.8"/>
<rect x="386.6" y="231.9" width="52.1" height="15.6" rx="1.5" fill="#fff" fill-opacity="0.8" stroke="#dcdcdc" stroke-opacity="0.8" stroke-width="0.6"/>
<line x1="390.05" y1="239" x2="409.4" y2="239" stroke="#ff1a1a" stroke-width="1.45"/>
<text class="k" x="416.4" y="242">x=y</text>
<text class="k" text-anchor="middle" x="274.5" y="260.7">0</text>
<text class="k" text-anchor="end" x="267.35" y="248.7">0</text>
<text class="k" text-anchor="middle" x="306.75" y="260.7">20</text>
<text class="k" text-anchor="end" x="267.35" y="213.48">20</text>
<text class="k" text-anchor="middle" x="339" y="260.7">40</text>
<text class="k" text-anchor="end" x="267.35" y="178.26">40</text>
<text class="k" text-anchor="middle" x="371.25" y="260.7">60</text>
<text class="k" text-anchor="end" x="267.35" y="143.04">60</text>
<text class="k" text-anchor="middle" x="403.5" y="260.7">80</text>
<text class="k" text-anchor="end" x="267.35" y="107.82">80</text>
<text class="k" text-anchor="middle" x="435.75" y="260.7">100</text>
<text class="k" text-anchor="end" x="267.35" y="72.6">100</text>
<text class="l" x="355.57" y="269.6" xml:space="preserve">Starting sequence K562  DE %ile</text>
<text class="l" style="font-size:9.15px" transform="translate(247.45 156.3) rotate(-90)" xml:space="preserve">Designed sequence K562  DE %ile</text>
<text class="t" x="355.57" y="8.9">Sequences designed for K562</text>
<text class="t" x="357.27" y="33.7">Using our workflow (n=3709)</text>
<text class="t" x="355.57" y="45.7">80.48% of designs improve</text>
<text class="t" x="355.57" y="57.7">upon starting sequences</text>
<rect x="453.1" y="60.3" width="9.5" height="191.8" fill="url(#gb)"/>
<text class="k" x="464.2" y="255.8">0</text>
<text class="k" x="464.2" y="227.17">10</text>
<text class="k" x="464.2" y="198.55">20</text>
<text class="k" x="464.2" y="169.92">30</text>
<text class="k" x="464.2" y="141.29">40</text>
<text class="k" x="464.2" y="112.67">50</text>
<text class="k" x="464.2" y="84.04">60</text>
</g>
<g>
<rect x="516.45" y="69" width="5.46" height="6.15" fill="#9fc3ef"/><rect x="527.37" y="69" width="6.36" height="6.15" fill="#9fc3ef"/><rect x="532.83" y="69" width="5.46" height="7.05" fill="#9fc3ef"/><rect x="554.67" y="69" width="5.46" height="7.05" fill="#9fc3ef"/><rect x="565.59" y="69" width="6.36" height="7.05" fill="#9fc3ef"/><rect x="571.05" y="69" width="5.46" height="7.05" fill="#9fc3ef"/><rect x="592.89" y="69" width="6.36" height="7.05" fill="#9fc3ef"/><rect x="598.35" y="69" width="6.36" height="7.05" fill="#84b9f2"/><rect x="603.81" y="69" width="6.36" height="7.05" fill="#84b9f2"/><rect x="609.27" y="69" width="6.36" height="7.05" fill="#84b9f2"/><rect x="614.73" y="69" width="6.36" height="7.05" fill="#84b9f2"/><rect x="620.19" y="69" width="6.36" height="7.05" fill="#84b9f2"/><rect x="625.65" y="69" width="6.36" height="7.05" fill="#84b9f2"/><rect x="631.11" y="69" width="6.36" height="7.05" fill="#84b9f2"/><rect x="636.57" y="69" width="6.36" height="7.05" fill="#31a3f3"/><rect x="642.03" y="69" width="6.36" height="7.05" fill="#84b9f2"/><rect x="647.49" y="69" width="6.36" height="7.05" fill="#84b9f2"/><rect x="652.95" y="69" width="5.46" height="7.05" fill="#84b9f2"/><rect x="532.83" y="75.15" width="5.46" height="6.15" fill="#9fc3ef"/><rect x="543.75" y="75.15" width="6.36" height="6.15" fill="#9fc3ef"/><rect x="543.75" y="75.15" width="5.46" height="7.05" fill="#9fc3ef"/><rect x="549.21" y="75.15" width="6.36" height="6.15" fill="#9fc3ef"/><rect x="554.67" y="75.15" width="6.36" height="6.15" fill="#9fc3ef"/><rect x="554.67" y="75.15" width="5.46" height="7.05" fill="#9fc3ef"/><rect x="560.13" y="75.15" width="6.36" height="6.15" fill="#9fc3ef"/><rect x="565.59" y="75.15" width="6.36" height="6.15" fill="#9fc3ef"/><rect x="565.59" y="75.15" width="5.46" height="7.05" fill="#9fc3ef"/><rect x="571.05" y="75.15" width="6.36" height="6.15" fill="#9fc3ef"/><rect x="576.51" y="75.15" width="6.36" height="7.05" fill="#84b9f2"/><rect x="581.97" y="75.15" width="6.36" height="7.05" fill="#9fc3ef"/><rect x="587.43" y="75.15" width="6.36" height="7.05" fill="#9fc3ef"/><rect x="592.89" y="75.15" width="6.36" height="7.05" fill="#84b9f2"/><rect x="598.35" y="75.15" width="6.36" height="7.05" fill="#84b9f2"/><rect x="603.81" y="75.15" width="6.36" height="7.05" fill="#84b9f2"/><rect x="609.27" y="75.15" width="6.36" height="7.05" fill="#84b9f2"/><rect x="614.73" y="75.15" width="6.36" height="7.05" fill="#84b9f2"/><rect x="620.19" y="75.15" width="6.36" height="7.05" fill="#84b9f2"/><rect x="625.65" y="75.15" width="6.36" height="7.05" fill="#5faef6"/><rect x="631.11" y="75.15" width="6.36" height="7.05" fill="#5faef6"/><rect x="636.57" y="75.15" width="6.36" height="7.05" fill="#5faef6"/><rect x="642.03" y="75.15" width="6.36" height="7.05" fill="#5faef6"/><rect x="647.49" y="75.15" width="6.36" height="7.05" fill="#5faef6"/><rect x="652.95" y="75.15" width="6.36" height="7.05" fill="#84b9f2"/><rect x="658.41" y="75.15" width="6.36" height="6.15" fill="#84b9f2"/><rect x="658.41" y="75.15" width="5.46" height="7.05" fill="#84b9f2"/><rect x="663.87" y="75.15" width="5.46" height="6.15" fill="#9fc3ef"/><rect x="516.45" y="81.3" width="5.46" height="7.05" fill="#9fc3ef"/><rect x="527.37" y="81.3" width="5.46" height="7.05" fill="#9fc3ef"/><rect x="543.75" y="81.3" width="5.46" height="6.15" fill="#9fc3ef"/><rect x="554.67" y="81.3" width="5.46" height="6.15" fill="#9fc3ef"/><rect x="565.59" y="81.3" width="5.46" height="7.05" fill="#9fc3ef"/><rect x="576.51" y="81.3" width="6.36" height="7.05" fill="#84b9f2"/><rect x="581.97" y="81.3" width="6.36" height="7.05" fill="#9fc3ef"/><rect x="587.43" y="81.3" width="6.36" height="7.05" fill="#9fc3ef"/><rect x="592.89" y="81.3" width="6.36" height="7.05" fill="#5faef6"/><rect x="598.35" y="81.3" width="6.36" height="6.15" fill="#84b9f2"/><rect x="598.35" y="81.3" width="5.46" height="7.05" fill="#84b9f2"/><rect x="603.81" y="81.3" width="6.36" height="6.15" fill="#5faef6"/><rect x="609.27" y="81.3" width="6.36" height="7.05" fill="#84b9f2"/><rect x="614.73" y="81.3" width="6.36" height="7.05" fill="#5faef6"/><rect x="620.19" y="81.3" width="6.36" height="7.05" fill="#5faef6"/><rect x="625.65" y="81.3" width="6.36" height="7.05" fill="#5faef6"/><rect x="631.11" y="81.3" width="6.36" height="7.05" fill="#84b9f2"/><rect x="636.57" y="81.3" width="6.36" height="7.05" fill="#5faef6"/><rect x="642.03" y="81.3" width="6.36" height="7.05" fill="#31a3f3"/><rect x="647.49" y="81.3" width="6.36" height="7.05" fill="#84b9f2"/><rect x="652.95" y="81.3" width="6.36" height="7.05" fill="#84b9f2"/><rect x="658.41" y="81.3" width="5.46" height="7.05" fill="#84b9f2"/><rect x="516.45" y="87.45" width="5.46" height="6.15" fill="#9fc3ef"/><rect x="527.37" y="87.45" width="5.46" height="7.05" fill="#9fc3ef"/><rect x="538.29" y="87.45" width="5.46" height="7.05" fill="#9fc3ef"/><rect x="560.13" y="87.45" width="6.36" height="7.05" fill="#9fc3ef"/><rect x="565.59" y="87.45" width="6.36" height="7.05" fill="#9fc3ef"/><rect x="571.05" y="87.45" width="6.36" height="6.15" fill="#9fc3ef"/><rect x="571.05" y="87.45" width="5.46" height="7.05" fill="#9fc3ef"/><rect x="576.51" y="87.45" width="6.36" height="6.15" fill="#9fc3ef"/><rect x="581.97" y="87.45" width="6.36" height="7.05" fill="#9fc3ef"/><rect x="587.43" y="87.45" width="6.36" height="7.05" fill="#84b9f2"/><rect x="592.89" y="87.45" width="6.36" height="7.05" fill="#84b9f2"/><rect x="598.35" y="87.45" width="5.46" height="7.05" fill="#84b9f2"/><rect x="609.27" y="87.45" width="6.36" height="7.05" fill="#84b9f2"/><rect x="614.73" y="87.45" width="6.36" height="7.05" fill="#84b9f2"/><rect x="620.19" y="87.45" width="6.36" height="7.05" fill="#5faef6"/><rect x="625.65" y="87.45" width="6.36" height="7.05" fill="#5faef6"/><rect x="631.11" y="87.45" width="6.36" height="7.05" fill="#84b9f2"/><rect x="636.57" y="87.45" width="6.36" height="7.05" fill="#5faef6"/><rect x="642.03" y="87.45" width="6.36" height="7.05" fill="#5faef6"/><rect x="647.49" y="87.45" width="6.36" height="7.05" fill="#84b9f2"/><rect x="652.95" y="87.45" width="6.36" height="7.05" fill="#84b9f2"/><rect x="658.41" y="87.45" width="6.36" height="7.05" fill="#84b9f2"/><rect x="663.87" y="87.45" width="5.46" height="7.05" fill="#9fc3ef"/><rect x="527.37" y="93.6" width="5.46" height="6.15" fill="#9fc3ef"/><rect x="538.29" y="93.6" width="6.36" height="7.05" fill="#9fc3ef"/><rect x="543.75" y="93.6" width="6.36" height="6.15" fill="#9fc3ef"/><rect x="543.75" y="93.6" width="5.46" height="7.05" fill="#9fc3ef"/><rect x="549.21" y="93.6" width="6.36" height="6.15" fill="#9fc3ef"/><rect x="554.67" y="93.6" width="6.36" height="7.05" fill="#9fc3ef"/><rect x="560.13" y="93.6" width="6.36" height="7.05" fill="#9fc3ef"/><rect x="565.59" y="93.6" width="6.36" height="7.05" fill="#9fc3ef"/><rect x="571.05" y="93.6" width="5.46" height="7.05" fill="#9fc3ef"/><rect x="581.97" y="93.6" width="6.36" height="7.05" fill="#9fc3ef"/><rect x="587.43" y="93.6" width="6.36" height="7.05" fill="#84b9f2"/><rect x="592.89" y="93.6" width="6.36" height="7.05" fill="#84b9f2"/><rect x="598.35" y="93.6" width="6.36" height="7.05" fill="#84b9f2"/><rect x="603.81" y="93.6" width="6.36" height="7.05" fill="#84b9f2"/><rect x="609.27" y="93.6" width="6.36" height="7.05" fill="#5faef6"/><rect x="614.73" y="93.6" width="6.36" height="7.05" fill="#5faef6"/><rect x="620.19" y="93.6" width="6.36" height="7.05" fill="#5faef6"/><rect x="625.65" y="93.6" width="6.36" height="7.05" fill="#5faef6"/><rect x="631.11" y="93.6" width="6.36" height="7.05" fill="#2a94de"/><rect x="636.57" y="93.6" width="6.36" height="7.05" fill="#2a94de"/><rect x="642.03" y="93.6" width="6.36" height="7.05" fill="#5faef6"/><rect x="647.49" y="93.6" width="6.36" height="7.05" fill="#5faef6"/><rect x="652.95" y="93.6" width="6.36" height="7.05" fill="#84b9f2"/><rect x="658.41" y="93.6" width="6.36" height="6.15" fill="#84b9f2"/><rect x="658.41" y="93.6" width="5.46" height="7.05" fill="#84b9f2"/><rect x="663.87" y="93.6" width="5.46" height="6.15" fill="#84b9f2"/><rect x="516.45" y="99.75" width="5.46" height="7.05" fill="#9fc3ef"/><rect x="532.83" y="99.75" width="6.36" height="7.05" fill="#9fc3ef"/><rect x="538.29" y="99.75" width="6.36" height="7.05" fill="#9fc3ef"/><rect x="543.75" y="99.75" width="5.46" height="7.05" fill="#9fc3ef"/><rect x="554.67" y="99.75" width="6.36" height="6.15" fill="#84b9f2"/><rect x="560.13" y="99.75" width="6.36" height="6.15" fill="#9fc3ef"/><rect x="565.59" y="99.75" width="6.36" height="7.05" fill="#84b9f2"/><rect x="571.05" y="99.75" width="6.36" height="7.05" fill="#84b9f2"/><rect x="576.51" y="99.75" width="6.36" height="7.05" fill="#84b9f2"/><rect x="581.97" y="99.75" width="6.36" height="7.05" fill="#84b9f2"/><rect x="587.43" y="99.75" width="6.36" height="7.05" fill="#84b9f2"/><rect x="592.89" y="99.75" width="6.36" height="7.05" fill="#9fc3ef"/><rect x="598.35" y="99.75" width="6.36" height="7.05" fill="#84b9f2"/><rect x="603.81" y="99.75" width="6.36" height="7.05" fill="#84b9f2"/><rect x="609.27" y="99.75" width="6.36" height="7.05" fill="#84b9f2"/><rect x="614.73" y="99.75" width="6.36" height="7.05" fill="#84b9f2"/><rect x="620.19" y="99.75" width="6.36" height="7.05" fill="#5faef6"/><rect x="625.65" y="99.75" width="6.36" height="7.05" fill="#2a94de"/><rect x="631.11" y="99.75" width="6.36" height="7.05" fill="#31a3f3"/><rect x="636.57" y="99.75" width="6.36" height="7.05" fill="#5faef6"/><rect x="642.03" y="99.75" width="6.36" height="7.05" fill="#5faef6"/><rect x="647.49" y="99.75" width="6.36" height="7.05" fill="#5faef6"/><rect x="652.95" y="99.75" width="6.36" height="7.05" fill="#84b9f2"/><rect x="658.41" y="99.75" width="5.46" height="7.05" fill="#84b9f2"/><rect x="669.33" y="99.75" width="5.46" height="7.05" fill="#9fc3ef"/><rect x="516.45" y="105.9" width="6.36" height="6.15" fill="#9fc3ef"/><rect x="521.91" y="105.9" width="6.36" height="6.15" fill="#9fc3ef"/><rect x="527.37" y="105.9" width="6.36" height="6.15" fill="#9fc3ef"/><rect x="527.37" y="105.9" width="5.46" height="7.05" fill="#9fc3ef"/><rect x="532.83" y="105.9" width="6.36" height="6.15" fill="#9fc3ef"/><rect x="538.29" y="105.9" width="6.36" height="7.05" fill="#9fc3ef"/><rect x="543.75" y="105.9" width="6.36" height="7.05" fill="#84b9f2"/><rect x="549.21" y="105.9" width="5.46" height="7.05" fill="#84b9f2"/><rect x="565.59" y="105.9" width="6.36" height="7.05" fill="#84b9f2"/><rect x="571.05" y="105.9" width="6.36" height="7.05" fill="#84b9f2"/><rect x="576.51" y="105.9" width="6.36" height="7.05" fill="#84b9f2"/><rect x="581.97" y="105.9" width="6.36" height="7.05" fill="#84b9f2"/><rect x="587.43" y="105.9" width="6.36" height="7.05" fill="#84b9f2"/><rect x="592.89" y="105.9" width="6.36" height="7.05" fill="#84b9f2"/><rect x="598.35" y="105.9" width="6.36" height="7.05" fill="#84b9f2"/><rect x="603.81" y="105.9" width="6.36" height="7.05" fill="#31a3f3"/><rect x="609.27" y="105.9" width="6.36" height="7.05" fill="#5faef6"/><rect x="614.73" y="105.9" width="6.36" height="7.05" fill="#5faef6"/><rect x="620.19" y="105.9" width="6.36" height="7.05" fill="#31a3f3"/><rect x="625.65" y="105.9" width="6.36" height="7.05" fill="#31a3f3"/><rect x="631.11" y="105.9" width="6.36" height="7.05" fill="#2a94de"/><rect x="636.57" y="105.9" width="6.36" height="7.05" fill="#31a3f3"/><rect x="642.03" y="105.9" width="6.36" height="7.05" fill="#31a3f3"/><rect x="647.49" y="105.9" width="6.36" height="7.05" fill="#5faef6"/><rect x="652.95" y="105.9" width="6.36" height="7.05" fill="#84b9f2"/><rect x="658.41" y="105.9" width="6.36" height="7.05" fill="#84b9f2"/><rect x="663.87" y="105.9" width="6.36" height="6.15" fill="#9fc3ef"/><rect x="663.87" y="105.9" width="5.46" height="7.05" fill="#9fc3ef"/><rect x="669.33" y="105.9" width="5.46" height="6.15" fill="#9fc3ef"/><rect x="527.37" y="112.05" width="5.46" height="7.05" fill="#9fc3ef"/><rect x="538.29" y="112.05" width="6.36" height="7.05" fill="#84b9f2"/><rect x="543.75" y="112.05" width="6.36" height="7.05" fill="#84b9f2"/><rect x="549.21" y="112.05" width="6.36" height="7.05" fill="#9fc3ef"/><rect x="554.67" y="112.05" width="6.36" height="7.05" fill="#5faef6"/><rect x="560.13" y="112.05" width="6.36" height="7.05" fill="#84b9f2"/><rect x="565.59" y="112.05" width="6.36" height="7.05" fill="#84b9f2"/><rect x="571.05" y="112.05" width="6.36" height="7.05" fill="#84b9f2"/><rect x="576.51" y="112.05" width="6.36" height="7.05" fill="#84b9f2"/><rect x="581.97" y="112.05" width="6.36" height="7.05" fill="#9fc3ef"/><rect x="587.43" y="112.05" width="6.36" height="7.05" fill="#84b9f2"/><rect x="592.89" y="112.05" width="6.36" height="7.05" fill="#84b9f2"/><rect x="598.35" y="112.05" width="6.36" height="7.05" fill="#84b9f2"/><rect x="603.81" y="112.05" width="6.36" height="7.05" fill="#84b9f2"/><rect x="609.27" y="112.05" width="6.36" height="7.05" fill="#5faef6"/><rect x="614.73" y="112.05" width="6.36" height="7.05" fill="#31a3f3"/><rect x="620.19" y="112.05" width="6.36" height="7.05" fill="#2a94de"/><rect x="625.65" y="112.05" width="6.36" height="7.05" fill="#2a94de"/><rect x="631.11" y="112.05" width="6.36" height="7.05" fill="#31a3f3"/><rect x="636.57" y="112.05" width="6.36" height="7.05" fill="#31a3f3"/><rect x="642.03" y="112.05" width="6.36" height="7.05" fill="#31a3f3"/><rect x="647.49" y="112.05" width="6.36" height="7.05" fill="#2a94de"/><rect x="652.95" y="112.05" width="6.36" height="7.05" fill="#84b9f2"/><rect x="658.41" y="112.05" width="6.36" height="6.15" fill="#5faef6"/><rect x="658.41" y="112.05" width="5.46" height="7.05" fill="#5faef6"/><rect x="663.87" y="112.05" width="5.46" height="6.15" fill="#84b9f2"/><rect x="521.91" y="118.2" width="6.36" height="7.05" fill="#9fc3ef"/><rect x="527.37" y="118.2" width="6.36" height="7.05" fill="#9fc3ef"/><rect x="532.83" y="118.2" width="6.36" height="7.05" fill="#84b9f2"/><rect x="538.29" y="118.2" width="6.36" height="7.05" fill="#9fc3ef"/><rect x="543.75" y="118.2" width="6.36" height="7.05" fill="#84b9f2"/><rect x="549.21" y="118.2" width="6.36" height="7.05" fill="#9fc3ef"/><rect x="554.67" y="118.2" width="6.36" height="7.05" fill="#84b9f2"/><rect x="560.13" y="118.2" width="6.36" height="7.05" fill="#84b9f2"/><rect x="565.59" y="118.2" width="6.36" height="7.05" fill="#84b9f2"/><rect x="571.05" y="118.2" width="6.36" height="7.05" fill="#84b9f2"/><rect x="576.51" y="118.2" width="6.36" height="7.05" fill="#84b9f2"/><rect x="581.97" y="118.2" width="6.36" height="7.05" fill="#5faef6"/><rect x="587.43" y="118.2" width="6.36" height="7.05" fill="#84b9f2"/><rect x="592.89" y="118.2" width="6.36" height="7.05" fill="#31a3f3"/><rect x="598.35" y="118.2" width="6.36" height="7.05" fill="#5faef6"/><rect x="603.81" y="118.2" width="6.36" height="7.05" fill="#31a3f3"/><rect x="609.27" y="118.2" width="6.36" height="7.05" fill="#31a3f3"/><rect x="614.73" y="118.2" width="6.36" height="7.05" fill="#2e85c6"/><rect x="620.19" y="118.2" width="6.36" height="7.05" fill="#2a94de"/><rect x="625.65" y="118.2" width="6.36" height="7.05" fill="#2e85c6"/><rect x="631.11" y="118.2" width="6.36" height="7.05" fill="#2e85c6"/><rect x="636.57" y="118.2" width="6.36" height="7.05" fill="#2a94de"/><rect x="642.03" y="118.2" width="6.36" height="7.05" fill="#2a94de"/><rect x="647.49" y="118.2" width="6.36" height="7.05" fill="#2e85c6"/><rect x="652.95" y="118.2" width="6.36" height="7.05" fill="#5faef6"/><rect x="658.41" y="118.2" width="5.46" height="7.05" fill="#5faef6"/><rect x="516.45" y="124.35" width="6.36" height="6.15" fill="#9fc3ef"/><rect x="521.91" y="124.35" width="6.36" height="6.15" fill="#9fc3ef"/><rect x="527.37" y="124.35" width="6.36" height="7.05" fill="#84b9f2"/><rect x="532.83" y="124.35" width="6.36" height="7.05" fill="#84b9f2"/><rect x="538.29" y="124.35" width="6.36" height="7.05" fill="#84b9f2"/><rect x="543.75" y="124.35" width="6.36" height="7.05" fill="#84b9f2"/><rect x="549.21" y="124.35" width="6.36" height="7.05" fill="#84b9f2"/><rect x="554.67" y="124.35" width="6.36" height="7.05" fill="#5faef6"/><rect x="560.13" y="124.35" width="6.36" height="7.05" fill="#5faef6"/><rect x="565.59" y="124.35" width="6.36" height="7.05" fill="#84b9f2"/><rect x="571.05" y="124.35" width="6.36" height="7.05" fill="#84b9f2"/><rect x="576.51" y="124.35" width="6.36" height="7.05" fill="#84b9f2"/><rect x="581.97" y="124.35" width="6.36" height="7.05" fill="#5faef6"/><rect x="587.43" y="124.35" width="6.36" height="7.05" fill="#84b9f2"/><rect x="592.89" y="124.35" width="6.36" height="7.05" fill="#31a3f3"/><rect x="598.35" y="124.35" width="6.36" height="7.05" fill="#5faef6"/><rect x="603.81" y="124.35" width="6.36" height="7.05" fill="#31a3f3"/><rect x="609.27" y="124.35" width="6.36" height="7.05" fill="#31a3f3"/><rect x="614.73" y="124.35" width="6.36" height="7.05" fill="#2a94de"/><rect x="620.19" y="124.35" width="6.36" height="7.05" fill="#2a94de"/><rect x="625.65" y="124.35" width="6.36" height="7.05" fill="#2a94de"/><rect x="631.11" y="124.35" width="6.36" height="7.05" fill="#2a94de"/><rect x="636.57" y="124.35" width="6.36" height="7.05" fill="#2a94de"/><rect x="642.03" y="124.35" width="6.36" height="7.05" fill="#2e85c6"/><rect x="647.49" y="124.35" width="6.36" height="7.05" fill="#2e85c6"/><rect x="652.95" y="124.35" width="6.36" height="7.05" fill="#5faef6"/><rect x="658.41" y="124.35" width="6.36" height="7.05" fill="#84b9f2"/><rect x="663.87" y="124.35" width="5.46" height="7.05" fill="#84b9f2"/><rect x="527.37" y="130.5" width="6.36" height="7.05" fill="#9fc3ef"/><rect x="532.83" y="130.5" width="6.36" height="6.15" fill="#9fc3ef"/><rect x="532.83" y="130.5" width="5.46" height="7.05" fill="#9fc3ef"/><rect x="538.29" y="130.5" width="6.36" height="6.15" fill="#9fc3ef"/><rect x="543.75" y="130.5" width="6.36" height="7.05" fill="#9fc3ef"/><rect x="549.21" y="130.5" width="6.36" height="7.05" fill="#84b9f2"/><rect x="554.67" y="130.5" width="6.36" height="7.05" fill="#84b9f2"/><rect x="560.13" y="130.5" width="6.36" height="7.05" fill="#84b9f2"/><rect x="565.59" y="130.5" width="6.36" height="7.05" fill="#84b9f2"/><rect x="571.05" y="130.5" width="6.36" height="7.05" fill="#5faef6"/><rect x="576.51" y="130.5" width="6.36" height="7.05" fill="#84b9f2"/><rect x="581.97" y="130.5" width="6.36" height="7.05" fill="#84b9f2"/><rect x="587.43" y="130.5" width="6.36" height="7.05" fill="#2a94de"/><rect x="592.89" y="130.5" width="6.36" height="7.05" fill="#5faef6"/><rect x="598.35" y="130.5" width="6.36" height="7.05" fill="#5faef6"/><rect x="603.81" y="130.5" width="6.36" height="7.05" fill="#31a3f3"/><rect x="609.27" y="130.5" width="6.36" height="7.05" fill="#31a3f3"/><rect x="614.73" y="130.5" width="6.36" height="7.05" fill="#2a94de"/><rect x="620.19" y="130.5" width="6.36" height="7.05" fill="#2e85c6"/><rect x="625.65" y="130.5" width="6.36" height="7.05" fill="#2e85c6"/><rect x="631.11" y="130.5" width="6.36" height="7.05" fill="#2e85c6"/><rect x="636.57" y="130.5" width="6.36" height="7.05" fill="#3676ad"/><rect x="642.03" y="130.5" width="6.36" height="7.05" fill="#3b6892"/><rect x="647.49" y="130.5" width="6.36" height="7.05" fill="#2e85c6"/><rect x="652.95" y="130.5" width="6.36" height="7.05" fill="#31a3f3"/><rect x="658.41" y="130.5" width="6.36" height="7.05" fill="#84b9f2"/><rect x="663.87" y="130.5" width="6.36" height="7.05" fill="#9fc3ef"/><rect x="669.33" y="130.5" width="5.46" height="7.05" fill="#9fc3ef"/><rect x="516.45" y="136.65" width="5.46" height="7.05" fill="#9fc3ef"/><rect x="527.37" y="136.65" width="6.36" height="6.15" fill="#9fc3ef"/><rect x="532.83" y="136.65" width="5.46" height="7.05" fill="#9fc3ef"/><rect x="543.75" y="136.65" width="6.36" height="6.15" fill="#9fc3ef"/><rect x="549.21" y="136.65" width="6.36" height="7.05" fill="#9fc3ef"/><rect x="554.67" y="136.65" width="6.36" height="7.05" fill="#84b9f2"/><rect x="560.13" y="136.65" width="6.36" height="7.05" fill="#9fc3ef"/><rect x="565.59" y="136.65" width="6.36" height="7.05" fill="#9fc3ef"/><rect x="571.05" y="136.65" width="6.36" height="7.05" fill="#84b9f2"/><rect x="576.51" y="136.65" width="6.36" height="7.05" fill="#84b9f2"/><rect x="581.97" y="136.65" width="6.36" height="7.05" fill="#84b9f2"/><rect x="587.43" y="136.65" width="6.36" height="7.05" fill="#5faef6"/><rect x="592.89" y="136.65" width="6.36" height="7.05" fill="#5faef6"/><rect x="598.35" y="136.65" width="6.36" height="7.05" fill="#5faef6"/><rect x="603.81" y="136.65" width="6.36" height="7.05" fill="#31a3f3"/><rect x="609.27" y="136.65" width="6.36" height="7.05" fill="#2a94de"/><rect x="614.73" y="136.65" width="6.36" height="7.05" fill="#3676ad"/><rect x="620.19" y="136.65" width="6.36" height="7.05" fill="#3676ad"/><rect x="625.65" y="136.65" width="6.36" height="7.05" fill="#2e85c6"/><rect x="631.11" y="136.65" width="6.36" height="7.05" fill="#3b6892"/><rect x="636.57" y="136.65" width="6.36" height="7.05" fill="#3b6892"/><rect x="642.03" y="136.65" width="6.36" height="7.05" fill="#3d5c7d"/><rect x="647.49" y="136.65" width="6.36" height="7.05" fill="#2e85c6"/><rect x="652.95" y="136.65" width="6.36" height="7.05" fill="#31a3f3"/><rect x="658.41" y="136.65" width="6.36" height="7.05" fill="#31a3f3"/><rect x="663.87" y="136.65" width="6.36" height="7.05" fill="#9fc3ef"/><rect x="669.33" y="136.65" width="5.46" height="7.05" fill="#9fc3ef"/><rect x="516.45" y="142.8" width="6.36" height="7.05" fill="#9fc3ef"/><rect x="521.91" y="142.8" width="5.46" height="7.05" fill="#9fc3ef"/><rect x="532.83" y="142.8" width="6.36" height="7.05" fill="#9fc3ef"/><rect x="538.29" y="142.8" width="5.46" height="7.05" fill="#9fc3ef"/><rect x="549.21" y="142.8" width="6.36" height="7.05" fill="#9fc3ef"/><rect x="554.67" y="142.8" width="6.36" height="7.05" fill="#9fc3ef"/><rect x="560.13" y="142.8" width="6.36" height="7.05" fill="#9fc3ef"/><rect x="565.59" y="142.8" width="6.36" height="7.05" fill="#5faef6"/><rect x="571.05" y="142.8" width="6.36" height="7.05" fill="#84b9f2"/><rect x="576.51" y="142.8" width="6.36" height="7.05" fill="#31a3f3"/><rect x="581.97" y="142.8" width="6.36" height="7.05" fill="#84b9f2"/><rect x="587.43" y="142.8" width="6.36" height="7.05" fill="#84b9f2"/><rect x="592.89" y="142.8" width="6.36" height="7.05" fill="#5faef6"/><rect x="598.35" y="142.8" width="6.36" height="7.05" fill="#5faef6"/><rect x="603.81" y="142.8" width="6.36" height="7.05" fill="#31a3f3"/><rect x="609.27" y="142.8" width="6.36" height="7.05" fill="#2a94de"/><rect x="614.73" y="142.8" width="6.36" height="7.05" fill="#2e85c6"/><rect x="620.19" y="142.8" width="6.36" height="7.05" fill="#31a3f3"/><rect x="625.65" y="142.8" width="6.36" height="7.05" fill="#2a94de"/><rect x="631.11" y="142.8" width="6.36" height="7.05" fill="#2e85c6"/><rect x="636.57" y="142.8" width="6.36" height="7.05" fill="#2e85c6"/><rect x="642.03" y="142.8" width="6.36" height="7.05" fill="#3676ad"/><rect x="647.49" y="142.8" width="6.36" height="7.05" fill="#2e85c6"/><rect x="652.95" y="142.8" width="6.36" height="7.05" fill="#31a3f3"/><rect x="658.41" y="142.8" width="6.36" height="7.05" fill="#84b9f2"/><rect x="663.87" y="142.8" width="6.36" height="6.15" fill="#9fc3ef"/><rect x="663.87" y="142.8" width="5.46" height="7.05" fill="#9fc3ef"/><rect x="669.33" y="142.8" width="5.46" height="6.15" fill="#9fc3ef"/><rect x="516.45" y="148.95" width="6.36" height="7.05" fill="#9fc3ef"/><rect x="521.91" y="148.95" width="6.36" height="7.05" fill="#9fc3ef"/><rect x="527.37" y="148.95" width="6.36" height="7.05" fill="#84b9f2"/><rect x="532.83" y="148.95" width="6.36" height="7.05" fill="#9fc3ef"/><rect x="538.29" y="148.95" width="6.36" height="6.15" fill="#9fc3ef"/><rect x="538.29" y="148.95" width="5.46" height="7.05" fill="#9fc3ef"/><rect x="543.75" y="148.95" width="6.36" height="6.15" fill="#9fc3ef"/><rect x="549.21" y="148.95" width="6.36" height="7.05" fill="#9fc3ef"/><rect x="554.67" y="148.95" width="6.36" height="7.05" fill="#9fc3ef"/><rect x="560.13" y="148.95" width="6.36" height="7.05" fill="#84b9f2"/><rect x="565.59" y="148.95" width="6.36" height="7.05" fill="#5faef6"/><rect x="571.05" y="148.95" width="6.36" height="7.05" fill="#84b9f2"/><rect x="576.51" y="148.95" width="6.36" height="7.05" fill="#84b9f2"/><rect x="581.97" y="148.95" width="6.36" height="7.05" fill="#84b9f2"/><rect x="587.43" y="148.95" width="6.36" height="7.05" fill="#5faef6"/><rect x="592.89" y="148.95" width="6.36" height="7.05" fill="#2a94de"/><rect x="598.35" y="148.95" width="6.36" height="7.05" fill="#5faef6"/><rect x="603.81" y="148.95" width="6.36" height="7.05" fill="#2a94de"/><rect x="609.27" y="148.95" width="6.36" height="7.05" fill="#2a94de"/><rect x="614.73" y="148.95" width="6.36" height="7.05" fill="#2a94de"/><rect x="620.19" y="148.95" width="6.36" height="7.05" fill="#2a94de"/><rect x="625.65" y="148.95" width="6.36" height="7.05" fill="#3676ad"/><rect x="631.11" y="148.95" width="6.36" height="7.05" fill="#3676ad"/><rect x="636.57" y="148.95" width="6.36" height="7.05" fill="#3b6892"/><rect x="642.03" y="148.95" width="6.36" height="7.05" fill="#3b6892"/><rect x="647.49" y="148.95" width="6.36" height="7.05" fill="#2e85c6"/><rect x="652.95" y="148.95" width="6.36" height="7.05" fill="#31a3f3"/><rect x="658.41" y="148.95" width="6.36" height="7.05" fill="#5faef6"/><rect x="663.87" y="148.95" width="5.46" height="7.05" fill="#9fc3ef"/><rect x="516.45" y="155.1" width="6.36" height="6.15" fill="#9fc3ef"/><rect x="521.91" y="155.1" width="6.36" height="7.05" fill="#9fc3ef"/><rect x="527.37" y="155.1" width="6.36" height="6.15" fill="#9fc3ef"/><rect x="527.37" y="155.1" width="5.46" height="7.05" fill="#9fc3ef"/><rect x="532.83" y="155.1" width="6.36" height="6.15" fill="#9fc3ef"/><rect x="538.29" y="155.1" width="5.46" height="7.05" fill="#9fc3ef"/><rect x="549.21" y="155.1" width="6.36" height="7.05" fill="#9fc3ef"/><rect x="554.67" y="155.1" width="6.36" height="7.05" fill="#9fc3ef"/><rect x="560.13" y="155.1" width="6.36" height="7.05" fill="#5faef6"/><rect x="565.59" y="155.1" width="6.36" height="7.05" fill="#84b9f2"/><rect x="571.05" y="155.1" width="6.36" height="7.05" fill="#84b9f2"/><rect x="576.51" y="155.1" width="6.36" height="7.05" fill="#84b9f2"/><rect x="581.97" y="155.1" width="6.36" height="7.05" fill="#84b9f2"/><rect x="587.43" y="155.1" width="6.36" height="7.05" fill="#5faef6"/><rect x="592.89" y="155.1" width="6.36" height="7.05" fill="#5faef6"/><rect x="598.35" y="155.1" width="6.36" height="7.05" fill="#5faef6"/><rect x="603.81" y="155.1" width="6.36" height="7.05" fill="#2a94de"/><rect x="609.27" y="155.1" width="6.36" height="7.05" fill="#31a3f3"/><rect x="614.73" y="155.1" width="6.36" height="7.05" fill="#2a94de"/><rect x="620.19" y="155.1" width="6.36" height="7.05" fill="#2a94de"/><rect x="625.65" y="155.1" width="6.36" height="7.05" fill="#2a94de"/><rect x="631.11" y="155.1" width="6.36" height="7.05" fill="#2e85c6"/><rect x="636.57" y="155.1" width="6.36" height="7.05" fill="#3d5c7d"/><rect x="642.03" y="155.1" width="6.36" height="7.05" fill="#3676ad"/><rect x="647.49" y="155.1" width="6.36" height="7.05" fill="#3676ad"/><rect x="652.95" y="155.1" width="6.36" height="7.05" fill="#31a3f3"/><rect x="658.41" y="155.1" width="6.36" height="7.05" fill="#84b9f2"/><rect x="663.87" y="155.1" width="6.36" height="7.05" fill="#9fc3ef"/><rect x="669.33" y="155.1" width="5.46" height="7.05" fill="#9fc3ef"/><rect x="521.91" y="161.25" width="6.36" height="7.05" fill="#9fc3ef"/><rect x="527.37" y="161.25" width="5.46" height="7.05" fill="#9fc3ef"/><rect x="538.29" y="161.25" width="6.36" height="7.05" fill="#9fc3ef"/><rect x="543.75" y="161.25" width="6.36" height="7.05" fill="#9fc3ef"/><rect x="549.21" y="161.25" width="6.36" height="7.05" fill="#84b9f2"/><rect x="554.67" y="161.25" width="6.36" height="7.05" fill="#9fc3ef"/><rect x="560.13" y="161.25" width="6.36" height="7.05" fill="#84b9f2"/><rect x="565.59" y="161.25" width="6.36" height="7.05" fill="#84b9f2"/><rect x="571.05" y="161.25" width="6.36" height="7.05" fill="#84b9f2"/><rect x="576.51" y="161.25" width="6.36" height="7.05" fill="#84b9f2"/><rect x="581.97" y="161.25" width="6.36" height="7.05" fill="#5faef6"/><rect x="587.43" y="161.25" width="6.36" height="7.05" fill="#84b9f2"/><rect x="592.89" y="161.25" width="6.36" height="7.05" fill="#5faef6"/><rect x="598.35" y="161.25" width="6.36" height="7.05" fill="#5faef6"/><rect x="603.81" y="161.25" width="6.36" height="7.05" fill="#2a94de"/><rect x="609.27" y="161.25" width="6.36" height="7.05" fill="#2a94de"/><rect x="614.73" y="161.25" width="6.36" height="7.05" fill="#31a3f3"/><rect x="620.19" y="161.25" width="6.36" height="7.05" fill="#2e85c6"/><rect x="625.65" y="161.25" width="6.36" height="7.05" fill="#2a94de"/><rect x="631.11" y="161.25" width="6.36" height="7.05" fill="#2a94de"/><rect x="636.57" y="161.25" width="6.36" height="7.05" fill="#3676ad"/><rect x="642.03" y="161.25" width="6.36" height="7.05" fill="#2e85c6"/><rect x="647.49" y="161.25" width="6.36" height="7.05" fill="#2a94de"/><rect x="652.95" y="161.25" width="6.36" height="7.05" fill="#84b9f2"/><rect x="658.41" y="161.25" width="6.36" height="7.05" fill="#9fc3ef"/><rect x="663.87" y="161.25" width="6.36" height="7.05" fill="#9fc3ef"/><rect x="669.33" y="161.25" width="5.46" height="7.05" fill="#9fc3ef"/><rect x="521.91" y="167.4" width="6.36" height="7.05" fill="#9fc3ef"/><rect x="527.37" y="167.4" width="6.36" height="7.05" fill="#9fc3ef"/><rect x="532.83" y="167.4" width="6.36" height="7.05" fill="#84b9f2"/><rect x="538.29" y="167.4" width="6.36" height="7.05" fill="#9fc3ef"/><rect x="543.75" y="167.4" width="6.36" height="7.05" fill="#9fc3ef"/><rect x="549.21" y="167.4" width="6.36" height="6.15" fill="#9fc3ef"/><rect x="549.21" y="167.4" width="5.46" height="7.05" fill="#9fc3ef"/><rect x="554.67" y="167.4" width="6.36" height="6.15" fill="#84b9f2"/><rect x="560.13" y="167.4" width="6.36" height="7.05" fill="#84b9f2"/><rect x="565.59" y="167.4" width="6.36" height="6.15" fill="#5faef6"/><rect x="565.59" y="167.4" width="5.46" height="7.05" fill="#5faef6"/><rect x="571.05" y="167.4" width="6.36" height="6.15" fill="#84b9f2"/><rect x="576.51" y="167.4" width="6.36" height="7.05" fill="#84b9f2"/><rect x="581.97" y="167.4" width="6.36" height="7.05" fill="#31a3f3"/><rect x="587.43" y="167.4" width="6.36" height="7.05" fill="#84b9f2"/><rect x="592.89" y="167.4" width="6.36" height="7.05" fill="#5faef6"/><rect x="598.35" y="167.4" width="6.36" height="7.05" fill="#31a3f3"/><rect x="603.81" y="167.4" width="6.36" height="7.05" fill="#2a94de"/><rect x="609.27" y="167.4" width="6.36" height="7.05" fill="#2a94de"/><rect x="614.73" y="167.4" width="6.36" height="7.05" fill="#2a94de"/><rect x="620.19" y="167.4" width="6.36" height="7.05" fill="#2a94de"/><rect x="625.65" y="167.4" width="6.36" height="7.05" fill="#3676ad"/><rect x="631.11" y="167.4" width="6.36" height="7.05" fill="#3676ad"/><rect x="636.57" y="167.4" width="6.36" height="7.05" fill="#2e85c6"/><rect x="642.03" y="167.4" width="6.36" height="7.05" fill="#3676ad"/><rect x="647.49" y="167.4" width="6.36" height="7.05" fill="#3676ad"/><rect x="652.95" y="167.4" width="6.36" height="7.05" fill="#84b9f2"/><rect x="658.41" y="167.4" width="6.36" height="7.05" fill="#9fc3ef"/><rect x="663.87" y="167.4" width="6.36" height="7.05" fill="#9fc3ef"/><rect x="669.33" y="167.4" width="5.46" height="7.05" fill="#9fc3ef"/><rect x="516.45" y="173.55" width="6.36" height="7.05" fill="#9fc3ef"/><rect x="521.91" y="173.55" width="6.36" height="7.05" fill="#9fc3ef"/><rect x="527.37" y="173.55" width="6.36" height="7.05" fill="#9fc3ef"/><rect x="532.83" y="173.55" width="6.36" height="7.05" fill="#84b9f2"/><rect x="538.29" y="173.55" width="6.36" height="7.05" fill="#9fc3ef"/><rect x="543.75" y="173.55" width="6.36" height="7.05" fill="#9fc3ef"/><rect x="549.21" y="173.55" width="5.46" height="7.05" fill="#9fc3ef"/><rect x="560.13" y="173.55" width="6.36" height="7.05" fill="#84b9f2"/><rect x="565.59" y="173.55" width="5.46" height="7.05" fill="#84b9f2"/><rect x="576.51" y="173.55" width="6.36" height="7.05" fill="#84b9f2"/><rect x="581.97" y="173.55" width="6.36" height="7.05" fill="#84b9f2"/><rect x="587.43" y="173.55" width="6.36" height="7.05" fill="#84b9f2"/><rect x="592.89" y="173.55" width="6.36" height="7.05" fill="#84b9f2"/><rect x="598.35" y="173.55" width="6.36" height="7.05" fill="#84b9f2"/><rect x="603.81" y="173.55" width="6.36" height="7.05" fill="#5faef6"/><rect x="609.27" y="173.55" width="6.36" height="7.05" fill="#5faef6"/><rect x="614.73" y="173.55" width="6.36" height="7.05" fill="#5faef6"/><rect x="620.19" y="173.55" width="6.36" height="7.05" fill="#5faef6"/><rect x="625.65" y="173.55" width="6.36" height="7.05" fill="#2a94de"/><rect x="631.11" y="173.55" width="6.36" height="7.05" fill="#2a94de"/><rect x="636.57" y="173.55" width="6.36" height="7.05" fill="#2a94de"/><rect x="642.03" y="173.55" width="6.36" height="7.05" fill="#3676ad"/><rect x="647.49" y="173.55" width="6.36" height="7.05" fill="#2a94de"/><rect x="652.95" y="173.55" width="6.36" height="7.05" fill="#84b9f2"/><rect x="658.41" y="173.55" width="6.36" height="7.05" fill="#9fc3ef"/><rect x="663.87" y="173.55" width="6.36" height="6.15" fill="#84b9f2"/><rect x="663.87" y="173.55" width="5.46" height="7.05" fill="#84b9f2"/><rect x="669.33" y="173.55" width="5.46" height="6.15" fill="#9fc3ef"/><rect x="516.45" y="179.7" width="6.36" height="6.15" fill="#9fc3ef"/><rect x="521.91" y="179.7" width="6.36" height="6.15" fill="#9fc3ef"/><rect x="521.91" y="179.7" width="5.46" height="7.05" fill="#9fc3ef"/><rect x="527.37" y="179.7" width="6.36" height="6.15" fill="#9fc3ef"/><rect x="532.83" y="179.7" width="6.36" height="7.05" fill="#9fc3ef"/><rect x="538.29" y="179.7" width="6.36" height="7.05" fill="#9fc3ef"/><rect x="543.75" y="179.7" width="6.36" height="6.15" fill="#9fc3ef"/><rect x="543.75" y="179.7" width="5.46" height="7.05" fill="#9fc3ef"/><rect x="549.21" y="179.7" width="6.36" height="6.15" fill="#9fc3ef"/><rect x="554.67" y="179.7" width="6.36" height="7.05" fill="#9fc3ef"/><rect x="560.13" y="179.7" width="6.36" height="7.05" fill="#84b9f2"/><rect x="565.59" y="179.7" width="6.36" height="7.05" fill="#84b9f2"/><rect x="571.05" y="179.7" width="6.36" height="7.05" fill="#84b9f2"/><rect x="576.51" y="179.7" width="6.36" height="7.05" fill="#84b9f2"/><rect x="581.97" y="179.7" width="6.36" height="7.05" fill="#84b9f2"/><rect x="587.43" y="179.7" width="6.36" height="7.05" fill="#84b9f2"/><rect x="592.89" y="179.7" width="6.36" height="7.05" fill="#84b9f2"/><rect x="598.35" y="179.7" width="6.36" height="7.05" fill="#5faef6"/><rect x="603.81" y="179.7" width="6.36" height="7.05" fill="#31a3f3"/><rect x="609.27" y="179.7" width="6.36" height="7.05" fill="#31a3f3"/><rect x="614.73" y="179.7" width="6.36" height="7.05" fill="#5faef6"/><rect x="620.19" y="179.7" width="6.36" height="7.05" fill="#31a3f3"/><rect x="625.65" y="179.7" width="6.36" height="7.05" fill="#2a94de"/><rect x="631.11" y="179.7" width="6.36" height="7.05" fill="#5faef6"/><rect x="636.57" y="179.7" width="6.36" height="7.05" fill="#2a94de"/><rect x="642.03" y="179.7" width="6.36" height="7.05" fill="#2a94de"/><rect x="647.49" y="179.7" width="6.36" height="7.05" fill="#2a94de"/><rect x="652.95" y="179.7" width="6.36" height="7.05" fill="#84b9f2"/><rect x="658.41" y="179.7" width="6.36" height="7.05" fill="#9fc3ef"/><rect x="663.87" y="179.7" width="5.46" height="7.05" fill="#9fc3ef"/><rect x="521.91" y="185.85" width="5.46" height="7.05" fill="#84b9f2"/><rect x="532.83" y="185.85" width="6.36" height="6.15" fill="#9fc3ef"/><rect x="538.29" y="185.85" width="6.36" height="6.15" fill="#9fc3ef"/><rect x="543.75" y="185.85" width="5.46" height="7.05" fill="#9fc3ef"/><rect x="554.67" y="185.85" width="6.36" height="7.05" fill="#9fc3ef"/><rect x="560.13" y="185.85" width="6.36" height="7.05" fill="#84b9f2"/><rect x="565.59" y="185.85" width="6.36" height="7.05" fill="#84b9f2"/><rect x="571.05" y="185.85" width="6.36" height="7.05" fill="#84b9f2"/><rect x="576.51" y="185.85" width="6.36" height="7.05" fill="#84b9f2"/><rect x="581.97" y="185.85" width="6.36" height="7.05" fill="#84b9f2"/><rect x="587.43" y="185.85" width="6.36" height="7.05" fill="#84b9f2"/><rect x="592.89" y="185.85" width="6.36" height="7.05" fill="#84b9f2"/><rect x="598.35" y="185.85" width="6.36" height="7.05" fill="#5faef6"/><rect x="603.81" y="185.85" width="6.36" height="7.05" fill="#31a3f3"/><rect x="609.27" y="185.85" width="6.36" height="7.05" fill="#5faef6"/><rect x="614.73" y="185.85" width="6.36" height="7.05" fill="#5faef6"/><rect x="620.19" y="185.85" width="6.36" height="7.05" fill="#2a94de"/><rect x="625.65" y="185.85" width="6.36" height="7.05" fill="#31a3f3"/><rect x="631.11" y="185.85" width="6.36" height="7.05" fill="#2a94de"/><rect x="636.57" y="185.85" width="6.36" height="7.05" fill="#2a94de"/><rect x="642.03" y="185.85" width="6.36" height="7.05" fill="#5faef6"/><rect x="647.49" y="185.85" width="6.36" height="7.05" fill="#2a94de"/><rect x="652.95" y="185.85" width="6.36" height="7.05" fill="#84b9f2"/><rect x="658.41" y="185.85" width="6.36" height="7.05" fill="#9fc3ef"/><rect x="663.87" y="185.85" width="5.46" height="7.05" fill="#9fc3ef"/><rect x="516.45" y="192" width="6.36" height="6.15" fill="#9fc3ef"/><rect x="521.91" y="192" width="6.36" height="6.15" fill="#9fc3ef"/><rect x="527.37" y="192" width="5.46" height="6.15" fill="#9fc3ef"/><rect x="543.75" y="192" width="6.36" height="6.15" fill="#9fc3ef"/><rect x="543.75" y="192" width="5.46" height="7.05" fill="#9fc3ef"/><rect x="549.21" y="192" width="6.36" height="6.15" fill="#9fc3ef"/><rect x="554.67" y="192" width="6.36" height="7.05" fill="#9fc3ef"/><rect x="560.13" y="192" width="6.36" height="7.05" fill="#84b9f2"/><rect x="565.59" y="192" width="6.36" height="7.05" fill="#9fc3ef"/><rect x="571.05" y="192" width="6.36" height="7.05" fill="#9fc3ef"/><rect x="576.51" y="192" width="6.36" height="7.05" fill="#9fc3ef"/><rect x="581.97" y="192" width="6.36" height="7.05" fill="#9fc3ef"/><rect x="587.43" y="192" width="6.36" height="7.05" fill="#9fc3ef"/><rect x="592.89" y="192" width="6.36" height="7.05" fill="#9fc3ef"/><rect x="598.35" y="192" width="6.36" height="7.05" fill="#84b9f2"/><rect x="603.81" y="192" width="6.36" height="7.05" fill="#84b9f2"/><rect x="609.27" y="192" width="6.36" height="7.05" fill="#84b9f2"/><rect x="614.73" y="192" width="6.36" height="7.05" fill="#9fc3ef"/><rect x="620.19" y="192" width="6.36" height="7.05" fill="#5faef6"/><rect x="625.65" y="192" width="6.36" height="7.05" fill="#31a3f3"/><rect x="631.11" y="192" width="6.36" height="7.05" fill="#5faef6"/><rect x="636.57" y="192" width="6.36" height="7.05" fill="#31a3f3"/><rect x="642.03" y="192" width="6.36" height="7.05" fill="#3b6892"/><rect x="647.49" y="192" width="6.36" height="7.05" fill="#31a3f3"/><rect x="652.95" y="192" width="6.36" height="7.05" fill="#84b9f2"/><rect x="658.41" y="192" width="6.36" height="7.05" fill="#84b9f2"/><rect x="663.87" y="192" width="5.46" height="7.05" fill="#9fc3ef"/><rect x="538.29" y="198.15" width="6.36" height="7.05" fill="#9fc3ef"/><rect x="543.75" y="198.15" width="5.46" height="7.05" fill="#9fc3ef"/><rect x="554.67" y="198.15" width="6.36" height="6.15" fill="#9fc3ef"/><rect x="554.67" y="198.15" width="5.46" height="7.05" fill="#9fc3ef"/><rect x="560.13" y="198.15" width="6.36" height="6.15" fill="#9fc3ef"/><rect x="565.59" y="198.15" width="6.36" height="6.15" fill="#9fc3ef"/><rect x="571.05" y="198.15" width="6.36" height="6.15" fill="#9fc3ef"/><rect x="576.51" y="198.15" width="6.36" height="7.05" fill="#9fc3ef"/><rect x="581.97" y="198.15" width="6.36" height="7.05" fill="#9fc3ef"/><rect x="587.43" y="198.15" width="6.36" height="7.05" fill="#9fc3ef"/><rect x="592.89" y="198.15" width="6.36" height="7.05" fill="#84b9f2"/><rect x="598.35" y="198.15" width="6.36" height="7.05" fill="#84b9f2"/><rect x="603.81" y="198.15" width="6.36" height="7.05" fill="#9fc3ef"/><rect x="609.27" y="198.15" width="6.36" height="7.05" fill="#84b9f2"/><rect x="614.73" y="198.15" width="6.36" height="7.05" fill="#5faef6"/><rect x="620.19" y="198.15" width="6.36" height="7.05" fill="#5faef6"/><rect x="625.65" y="198.15" width="6.36" height="7.05" fill="#5faef6"/><rect x="631.11" y="198.15" width="6.36" height="7.05" fill="#5faef6"/><rect x="636.57" y="198.15" width="6.36" height="7.05" fill="#5faef6"/><rect x="642.03" y="198.15" width="6.36" height="7.05" fill="#5faef6"/><rect x="647.49" y="198.15" width="6.36" height="7.05" fill="#84b9f2"/><rect x="652.95" y="198.15" width="6.36" height="6.15" fill="#84b9f2"/><rect x="652.95" y="198.15" width="5.46" height="7.05" fill="#84b9f2"/><rect x="658.41" y="198.15" width="6.36" height="6.15" fill="#9fc3ef"/><rect x="663.87" y="198.15" width="5.46" height="6.15" fill="#9fc3ef"/><rect x="527.37" y="204.3" width="5.46" height="6.15" fill="#9fc3ef"/><rect x="538.29" y="204.3" width="6.36" height="6.15" fill="#9fc3ef"/><rect x="543.75" y="204.3" width="5.46" height="6.15" fill="#9fc3ef"/><rect x="554.67" y="204.3" width="5.46" height="6.15" fill="#9fc3ef"/><rect x="576.51" y="204.3" width="6.36" height="6.15" fill="#9fc3ef"/><rect x="581.97" y="204.3" width="6.36" height="7.05" fill="#9fc3ef"/><rect x="587.43" y="204.3" width="6.36" height="7.05" fill="#9fc3ef"/><rect x="592.89" y="204.3" width="6.36" height="6.15" fill="#9fc3ef"/><rect x="592.89" y="204.3" width="5.46" height="7.05" fill="#9fc3ef"/><rect x="598.35" y="204.3" width="6.36" height="6.15" fill="#84b9f2"/><rect x="603.81" y="204.3" width="6.36" height="7.05" fill="#84b9f2"/><rect x="609.27" y="204.3" width="6.36" height="6.15" fill="#9fc3ef"/><rect x="609.27" y="204.3" width="5.46" height="7.05" fill="#9fc3ef"/><rect x="614.73" y="204.3" width="6.36" height="6.15" fill="#84b9f2"/><rect x="620.19" y="204.3" width="6.36" height="7.05" fill="#84b9f2"/><rect x="625.65" y="204.3" width="6.36" height="7.05" fill="#84b9f2"/><rect x="631.11" y="204.3" width="6.36" height="7.05" fill="#84b9f2"/><rect x="636.57" y="204.3" width="6.36" height="7.05" fill="#2a94de"/><rect x="642.03" y="204.3" width="6.36" height="7.05" fill="#5faef6"/><rect x="647.49" y="204.3" width="6.36" height="7.05" fill="#84b9f2"/><rect x="652.95" y="204.3" width="5.46" height="7.05" fill="#84b9f2"/><rect x="549.21" y="210.45" width="5.46" height="6.15" fill="#9fc3ef"/><rect x="565.59" y="210.45" width="5.46" height="6.15" fill="#9fc3ef"/><rect x="581.97" y="210.45" width="6.36" height="6.15" fill="#9fc3ef"/><rect x="587.43" y="210.45" width="6.36" height="6.15" fill="#9fc3ef"/><rect x="587.43" y="210.45" width="5.46" height="7.05" fill="#9fc3ef"/><rect x="592.89" y="210.45" width="5.46" height="6.15" fill="#9fc3ef"/><rect x="603.81" y="210.45" width="6.36" height="7.05" fill="#84b9f2"/><rect x="609.27" y="210.45" width="5.46" height="7.05" fill="#84b9f2"/><rect x="620.19" y="210.45" width="6.36" height="6.15" fill="#84b9f2"/><rect x="625.65" y="210.45" width="6.36" height="7.05" fill="#84b9f2"/><rect x="631.11" y="210.45" width="6.36" height="7.05" fill="#84b9f2"/><rect x="636.57" y="210.45" width="6.36" height="7.05" fill="#84b9f2"/><rect x="642.03" y="210.45" width="6.36" height="7.05" fill="#84b9f2"/><rect x="647.49" y="210.45" width="6.36" height="6.15" fill="#84b9f2"/><rect x="647.49" y="210.45" width="5.46" height="7.05" fill="#84b9f2"/><rect x="652.95" y="210.45" width="5.46" height="6.15" fill="#9fc3ef"/><rect x="532.83" y="216.6" width="6.36" height="6.15" fill="#9fc3ef"/><rect x="532.83" y="216.6" width="5.46" height="7.05" fill="#9fc3ef"/><rect x="538.29" y="216.6" width="5.46" height="6.15" fill="#9fc3ef"/><rect x="587.43" y="216.6" width="5.46" height="7.05" fill="#9fc3ef"/><rect x="598.35" y="216.6" width="6.36" height="6.15" fill="#9fc3ef"/><rect x="603.81" y="216.6" width="6.36" height="6.15" fill="#9fc3ef"/><rect x="609.27" y="216.6" width="6.36" height="6.15" fill="#84b9f2"/><rect x="614.73" y="216.6" width="5.46" height="7.05" fill="#84b9f2"/><rect x="625.65" y="216.6" width="6.36" height="7.05" fill="#84b9f2"/><rect x="631.11" y="216.6" width="6.36" height="6.15" fill="#84b9f2"/><rect x="631.11" y="216.6" width="5.46" height="7.05" fill="#84b9f2"/><rect x="636.57" y="216.6" width="6.36" height="6.15" fill="#84b9f2"/><rect x="642.03" y="216.6" width="6.36" height="7.05" fill="#84b9f2"/><rect x="647.49" y="216.6" width="5.46" height="7.05" fill="#84b9f2"/><rect x="658.41" y="216.6" width="5.46" height="6.15" fill="#9fc3ef"/><rect x="532.83" y="222.75" width="5.46" height="6.15" fill="#9fc3ef"/><rect x="549.21" y="222.75" width="5.46" height="6.15" fill="#9fc3ef"/><rect x="560.13" y="222.75" width="5.46" height="6.15" fill="#9fc3ef"/><rect x="576.51" y="222.75" width="5.46" height="7.05" fill="#9fc3ef"/><rect x="587.43" y="222.75" width="6.36" height="6.15" fill="#9fc3ef"/><rect x="592.89" y="222.75" width="5.46" height="6.15" fill="#9fc3ef"/><rect x="614.73" y="222.75" width="6.36" height="6.15" fill="#9fc3ef"/><rect x="620.19" y="222.75" width="6.36" height="7.05" fill="#84b9f2"/><rect x="625.65" y="222.75" width="6.36" height="7.05" fill="#84b9f2"/><rect x="631.11" y="222.75" width="5.46" height="7.05" fill="#84b9f2"/><rect x="642.03" y="222.75" width="6.36" height="7.05" fill="#84b9f2"/><rect x="647.49" y="222.75" width="5.46" height="7.05" fill="#84b9f2"/><rect x="554.67" y="228.9" width="5.46" height="6.15" fill="#9fc3ef"/><rect x="571.05" y="228.9" width="6.36" height="6.15" fill="#9fc3ef"/><rect x="576.51" y="228.9" width="5.46" height="6.15" fill="#9fc3ef"/><rect x="609.27" y="228.9" width="5.46" height="7.05" fill="#9fc3ef"/><rect x="620.19" y="228.9" width="6.36" height="7.05" fill="#84b9f2"/><rect x="625.65" y="228.9" width="6.36" height="7.05" fill="#9fc3ef"/><rect x="631.11" y="228.9" width="6.36" height="7.05" fill="#9fc3ef"/><rect x="636.57" y="228.9" width="6.36" height="7.05" fill="#9fc3ef"/><rect x="642.03" y="228.9" width="6.36" height="6.15" fill="#9fc3ef"/><rect x="642.03" y="228.9" width="5.46" height="7.05" fill="#9fc3ef"/><rect x="647.49" y="228.9" width="6.36" height="6.15" fill="#9fc3ef"/><rect x="652.95" y="228.9" width="5.46" height="6.15" fill="#9fc3ef"/><rect x="543.75" y="235.05" width="5.46" height="6.15" fill="#9fc3ef"/><rect x="592.89" y="235.05" width="6.36" height="6.15" fill="#9fc3ef"/><rect x="598.35" y="235.05" width="6.36" height="6.15" fill="#84b9f2"/><rect x="603.81" y="235.05" width="6.36" height="6.15" fill="#84b9f2"/><rect x="609.27" y="235.05" width="6.36" height="6.15" fill="#84b9f2"/><rect x="614.73" y="235.05" width="6.36" height="6.15" fill="#84b9f2"/><rect x="620.19" y="235.05" width="6.36" height="6.15" fill="#84b9f2"/><rect x="625.65" y="235.05" width="6.36" height="6.15" fill="#9fc3ef"/><rect x="631.11" y="235.05" width="6.36" height="6.15" fill="#9fc3ef"/><rect x="636.57" y="235.05" width="6.36" height="6.15" fill="#9fc3ef"/><rect x="642.03" y="235.05" width="5.46" height="6.15" fill="#9fc3ef"/>
<line x1="516.1" y1="243.55" x2="675.1" y2="69.2" stroke="#ff0a0a" stroke-width="1.45" stroke-linecap="butt"/>
<rect x="508.55" y="60.3" width="174.05" height="191.8" fill="none" stroke="#d2d2d2" stroke-width="0.8"/>
<rect x="626.5" y="231.9" width="52.1" height="15.6" rx="1.5" fill="#fff" fill-opacity="0.8" stroke="#dcdcdc" stroke-opacity="0.8" stroke-width="0.6"/>
<line x1="629.95" y1="239" x2="649.3" y2="239" stroke="#ff1a1a" stroke-width="1.45"/>
<text class="k" x="656.3" y="242">x=y</text>
<text class="k" text-anchor="middle" x="515.65" y="260.7">0</text>
<text class="k" text-anchor="end" x="507.45" y="247.91">0</text>
<text class="k" text-anchor="middle" x="547.53" y="260.7">20</text>
<text class="k" text-anchor="end" x="507.45" y="212.85">20</text>
<text class="k" text-anchor="middle" x="579.41" y="260.7">40</text>
<text class="k" text-anchor="end" x="507.45" y="177.79">40</text>
<text class="k" text-anchor="middle" x="611.29" y="260.7">60</text>
<text class="k" text-anchor="end" x="507.45" y="142.73">60</text>
<text class="k" text-anchor="middle" x="643.17" y="260.7">80</text>
<text class="k" text-anchor="end" x="507.45" y="107.67">80</text>
<text class="k" text-anchor="middle" x="675.05" y="260.7">100</text>
<text class="k" text-anchor="end" x="507.45" y="72.61">100</text>
<text class="l" x="595.58" y="269.6" xml:space="preserve">Starting sequence THP1  DE %ile</text>
<text class="l" style="font-size:9.15px" transform="translate(487.55 156.3) rotate(-90)" xml:space="preserve">Designed sequence THP1  DE %ile</text>
<text class="t" x="595.58" y="8.9">Sequences designed for THP1</text>
<text class="t" x="597.28" y="33.7">Using our workflow (n=3564)</text>
<text class="t" x="595.58" y="45.7">37.4% of designs improve</text>
<text class="t" x="595.58" y="57.7">upon starting sequences</text>
<rect x="692.1" y="60.3" width="9.6" height="191.8" fill="url(#gb)"/>
<text class="k" x="703.3" y="255.8">0</text>
<text class="k" x="703.3" y="222.73">5</text>
<text class="k" x="703.3" y="189.66">10</text>
<text class="k" x="703.3" y="156.59">15</text>
<text class="k" x="703.3" y="123.52">20</text>
<text class="k" x="703.3" y="90.46">25</text>
</g>
<g>
<rect x="130.04" y="325.8" width="3.39" height="13.7" fill="#4ed74e"/><rect x="132.53" y="325.8" width="2.49" height="13.7" fill="#4ed74e"/><rect x="137.51" y="325.8" width="3.39" height="13.7" fill="#4ed74e"/><rect x="140" y="325.8" width="3.39" height="14.6" fill="#4ed74e"/><rect x="142.49" y="325.8" width="2.49" height="14.6" fill="#4ed74e"/><rect x="152.45" y="325.8" width="2.49" height="14.6" fill="#4ed74e"/><rect x="159.92" y="325.8" width="2.49" height="13.7" fill="#4ed74e"/><rect x="164.9" y="325.8" width="2.49" height="14.6" fill="#4ed74e"/><rect x="172.37" y="325.8" width="3.39" height="14.6" fill="#0ab60a"/><rect x="174.86" y="325.8" width="3.39" height="14.6" fill="#0ab60a"/><rect x="177.35" y="325.8" width="3.39" height="14.6" fill="#0ab60a"/><rect x="179.84" y="325.8" width="3.39" height="14.6" fill="#316931"/><rect x="182.33" y="325.8" width="3.39" height="14.6" fill="#316931"/><rect x="184.82" y="325.8" width="3.39" height="14.6" fill="#316931"/><rect x="187.31" y="325.8" width="3.39" height="14.6" fill="#316931"/><rect x="189.8" y="325.8" width="3.39" height="14.6" fill="#316931"/><rect x="192.29" y="325.8" width="2.49" height="14.6" fill="#316931"/><rect x="120.08" y="339.5" width="2.49" height="14.6" fill="#4ed74e"/><rect x="140" y="339.5" width="3.39" height="13.7" fill="#4ed74e"/><rect x="142.49" y="339.5" width="2.49" height="14.6" fill="#4ed74e"/><rect x="152.45" y="339.5" width="2.49" height="13.7" fill="#4ed74e"/><rect x="162.41" y="339.5" width="3.39" height="13.7" fill="#38cd38"/><rect x="164.9" y="339.5" width="2.49" height="14.6" fill="#38cd38"/><rect x="172.37" y="339.5" width="3.39" height="13.7" fill="#0ab60a"/><rect x="174.86" y="339.5" width="3.39" height="13.7" fill="#0ab60a"/><rect x="177.35" y="339.5" width="3.39" height="14.6" fill="#0ab60a"/><rect x="179.84" y="339.5" width="3.39" height="14.6" fill="#316931"/><rect x="182.33" y="339.5" width="3.39" height="14.6" fill="#316931"/><rect x="184.82" y="339.5" width="3.39" height="14.6" fill="#316931"/><rect x="187.31" y="339.5" width="3.39" height="14.6" fill="#139613"/><rect x="189.8" y="339.5" width="3.39" height="14.6" fill="#316931"/><rect x="192.29" y="339.5" width="2.49" height="14.6" fill="#01a601"/><rect x="120.08" y="353.2" width="2.49" height="13.7" fill="#4ed74e"/><rect x="130.04" y="353.2" width="3.39" height="13.7" fill="#38cd38"/><rect x="132.53" y="353.2" width="2.49" height="13.7" fill="#4ed74e"/><rect x="142.49" y="353.2" width="2.49" height="13.7" fill="#4ed74e"/><rect x="159.92" y="353.2" width="2.49" height="13.7" fill="#38cd38"/><rect x="164.9" y="353.2" width="2.49" height="14.6" fill="#4ed74e"/><rect x="169.88" y="353.2" width="2.49" height="13.7" fill="#4ed74e"/><rect x="177.35" y="353.2" width="3.39" height="14.6" fill="#21c221"/><rect x="179.84" y="353.2" width="3.39" height="14.6" fill="#01a601"/><rect x="182.33" y="353.2" width="3.39" height="14.6" fill="#01a601"/><rect x="184.82" y="353.2" width="3.39" height="14.6" fill="#01a601"/><rect x="187.31" y="353.2" width="3.39" height="14.6" fill="#01a601"/><rect x="189.8" y="353.2" width="3.39" height="14.6" fill="#01a601"/><rect x="192.29" y="353.2" width="2.49" height="14.6" fill="#01a601"/><rect x="140" y="366.9" width="2.49" height="13.7" fill="#4ed74e"/><rect x="162.41" y="366.9" width="3.39" height="13.7" fill="#38cd38"/><rect x="164.9" y="366.9" width="2.49" height="13.7" fill="#38cd38"/><rect x="174.86" y="366.9" width="3.39" height="13.7" fill="#21c221"/><rect x="177.35" y="366.9" width="3.39" height="14.6" fill="#21c221"/><rect x="179.84" y="366.9" width="3.39" height="14.6" fill="#01a601"/><rect x="182.33" y="366.9" width="3.39" height="14.6" fill="#01a601"/><rect x="184.82" y="366.9" width="3.39" height="14.6" fill="#139613"/><rect x="187.31" y="366.9" width="3.39" height="14.6" fill="#139613"/><rect x="189.8" y="366.9" width="3.39" height="14.6" fill="#01a601"/><rect x="192.29" y="366.9" width="2.49" height="14.6" fill="#01a601"/><rect x="120.08" y="380.6" width="2.49" height="13.7" fill="#4ed74e"/><rect x="149.96" y="380.6" width="2.49" height="13.7" fill="#4ed74e"/><rect x="177.35" y="380.6" width="3.39" height="13.7" fill="#38cd38"/><rect x="179.84" y="380.6" width="3.39" height="14.6" fill="#01a601"/><rect x="182.33" y="380.6" width="3.39" height="14.6" fill="#01a601"/><rect x="184.82" y="380.6" width="3.39" height="14.6" fill="#01a601"/><rect x="187.31" y="380.6" width="3.39" height="14.6" fill="#228522"/><rect x="189.8" y="380.6" width="3.39" height="14.6" fill="#01a601"/><rect x="192.29" y="380.6" width="2.49" height="14.6" fill="#228522"/><rect x="140" y="394.3" width="2.49" height="13.7" fill="#4ed74e"/><rect x="159.92" y="394.3" width="2.49" height="13.7" fill="#4ed74e"/><rect x="179.84" y="394.3" width="3.39" height="14.6" fill="#0ab60a"/><rect x="182.33" y="394.3" width="3.39" height="13.7" fill="#0ab60a"/><rect x="182.33" y="394.3" width="2.49" height="14.6" fill="#0ab60a"/><rect x="184.82" y="394.3" width="3.39" height="13.7" fill="#139613"/><rect x="187.31" y="394.3" width="3.39" height="14.6" fill="#01a601"/><rect x="189.8" y="394.3" width="3.39" height="14.6" fill="#0ab60a"/><rect x="192.29" y="394.3" width="2.49" height="14.6" fill="#0ab60a"/><rect x="137.51" y="408" width="2.49" height="13.7" fill="#4ed74e"/><rect x="169.88" y="408" width="2.49" height="13.7" fill="#4ed74e"/><rect x="174.86" y="408" width="2.49" height="13.7" fill="#4ed74e"/><rect x="179.84" y="408" width="3.39" height="14.6" fill="#21c221"/><rect x="182.33" y="408" width="2.49" height="14.6" fill="#21c221"/><rect x="187.31" y="408" width="3.39" height="14.6" fill="#0ab60a"/><rect x="189.8" y="408" width="3.39" height="14.6" fill="#01a601"/><rect x="192.29" y="408" width="2.49" height="14.6" fill="#21c221"/><rect x="120.08" y="421.7" width="2.49" height="13.7" fill="#4ed74e"/><rect x="132.53" y="421.7" width="2.49" height="13.7" fill="#4ed74e"/><rect x="140" y="421.7" width="2.49" height="14.6" fill="#4ed74e"/><rect x="162.41" y="421.7" width="2.49" height="13.7" fill="#4ed74e"/><rect x="179.84" y="421.7" width="3.39" height="14.6" fill="#21c221"/><rect x="182.33" y="421.7" width="3.39" height="14.6" fill="#21c221"/><rect x="184.82" y="421.7" width="3.39" height="13.7" fill="#21c221"/><rect x="184.82" y="421.7" width="2.49" height="14.6" fill="#21c221"/><rect x="187.31" y="421.7" width="3.39" height="13.7" fill="#0ab60a"/><rect x="189.8" y="421.7" width="3.39" height="13.7" fill="#0ab60a"/><rect x="189.8" y="421.7" width="2.49" height="14.6" fill="#0ab60a"/><rect x="192.29" y="421.7" width="2.49" height="13.7" fill="#21c221"/><rect x="140" y="435.4" width="2.49" height="13.7" fill="#4ed74e"/><rect x="164.9" y="435.4" width="2.49" height="13.7" fill="#4ed74e"/><rect x="179.84" y="435.4" width="3.39" height="14.6" fill="#21c221"/><rect x="182.33" y="435.4" width="3.39" height="14.6" fill="#21c221"/><rect x="184.82" y="435.4" width="2.49" height="14.6" fill="#21c221"/><rect x="189.8" y="435.4" width="2.49" height="13.7" fill="#21c221"/><rect x="179.84" y="449.1" width="3.39" height="13.7" fill="#38cd38"/><rect x="179.84" y="449.1" width="2.49" height="14.6" fill="#38cd38"/><rect x="182.33" y="449.1" width="3.39" height="13.7" fill="#38cd38"/><rect x="184.82" y="449.1" width="3.39" height="14.6" fill="#38cd38"/><rect x="187.31" y="449.1" width="2.49" height="14.6" fill="#38cd38"/><rect x="192.29" y="449.1" width="2.49" height="14.6" fill="#38cd38"/><rect x="159.92" y="462.8" width="2.49" height="13.7" fill="#4ed74e"/><rect x="179.84" y="462.8" width="2.49" height="13.7" fill="#38cd38"/><rect x="184.82" y="462.8" width="3.39" height="13.7" fill="#38cd38"/><rect x="187.31" y="462.8" width="2.49" height="13.7" fill="#38cd38"/><rect x="192.29" y="462.8" width="2.49" height="13.7" fill="#38cd38"/>
<line x1="36" y1="495.65" x2="194.9" y2="320.7" stroke="#ff0a0a" stroke-width="1.45" stroke-linecap="butt"/>
<rect x="28.5" y="312.45" width="174.2" height="191.6" fill="none" stroke="#d2d2d2" stroke-width="0.8"/>
<rect x="146.6" y="483.85" width="52.1" height="15.6" rx="1.5" fill="#fff" fill-opacity="0.8" stroke="#dcdcdc" stroke-opacity="0.8" stroke-width="0.6"/>
<line x1="150.05" y1="490.95" x2="169.4" y2="490.95" stroke="#ff1a1a" stroke-width="1.45"/>
<text class="k" x="176.4" y="493.95">x=y</text>
<text class="k" text-anchor="middle" x="33.1" y="512.65">0</text>
<text class="k" text-anchor="end" x="27.4" y="502.91">0</text>
<text class="k" text-anchor="middle" x="65.66" y="512.65">20</text>
<text class="k" text-anchor="end" x="27.4" y="467.06">20</text>
<text class="k" text-anchor="middle" x="98.22" y="512.65">40</text>
<text class="k" text-anchor="end" x="27.4" y="431.21">40</text>
<text class="k" text-anchor="middle" x="130.78" y="512.65">60</text>
<text class="k" text-anchor="end" x="27.4" y="395.35">60</text>
<text class="k" text-anchor="middle" x="163.34" y="512.65">80</text>
<text class="k" text-anchor="end" x="27.4" y="359.5">80</text>
<text class="k" text-anchor="middle" x="195.9" y="512.65">100</text>
<text class="k" text-anchor="end" x="27.4" y="323.65">100</text>
<text class="l" x="115.6" y="521.55" xml:space="preserve">Starting sequence Jurkat  DE %ile</text>
<text class="l" style="font-size:9.15px" transform="translate(7.5 408.7) rotate(-90)" xml:space="preserve">Designed sequence Jurkat  DE %ile</text>
<text class="t" x="115.6" y="285.85">Using motif tiling (n=417)</text>
<text class="t" x="114.1" y="297.85">14.39% of designs improve</text>
<text class="t" x="115.6" y="309.85">upon starting sequences</text>
<rect x="213.1" y="312.45" width="9.5" height="191.6" fill="url(#gg)"/>
<text class="k" x="224.2" y="507.75">0</text>
<text class="k" x="224.2" y="485.21">2</text>
<text class="k" x="224.2" y="462.67">4</text>
<text class="k" x="224.2" y="440.13">6</text>
<text class="k" x="224.2" y="417.59">8</text>
<text class="k" x="224.2" y="395.04">10</text>
<text class="k" x="224.2" y="372.5">12</text>
<text class="k" x="224.2" y="349.96">14</text>
<text class="k" x="224.2" y="327.42">16</text>
</g>
<g>
<rect x="399.91" y="321" width="1.83" height="10.5" fill="#38cd38"/><rect x="410.89" y="321" width="1.83" height="10.5" fill="#38cd38"/><rect x="414.55" y="321" width="1.83" height="11.4" fill="#38cd38"/><rect x="421.87" y="321" width="2.73" height="11.4" fill="#169316"/><rect x="423.7" y="321" width="2.73" height="11.4" fill="#02a502"/><rect x="425.53" y="321" width="2.73" height="11.4" fill="#02a502"/><rect x="427.36" y="321" width="2.73" height="11.4" fill="#02a502"/><rect x="429.19" y="321" width="2.73" height="11.4" fill="#02a502"/><rect x="431.02" y="321" width="2.73" height="11.4" fill="#02a502"/><rect x="432.85" y="321" width="1.83" height="11.4" fill="#02a502"/><rect x="368.8" y="331.5" width="1.83" height="11.4" fill="#4ed74e"/><rect x="383.44" y="331.5" width="1.83" height="10.5" fill="#4ed74e"/><rect x="414.55" y="331.5" width="1.83" height="11.4" fill="#38cd38"/><rect x="418.21" y="331.5" width="2.73" height="10.5" fill="#21c221"/><rect x="418.21" y="331.5" width="1.83" height="11.4" fill="#21c221"/><rect x="420.04" y="331.5" width="2.73" height="10.5" fill="#21c221"/><rect x="421.87" y="331.5" width="2.73" height="11.4" fill="#02a502"/><rect x="423.7" y="331.5" width="2.73" height="11.4" fill="#267f26"/><rect x="425.53" y="331.5" width="2.73" height="11.4" fill="#306d30"/><rect x="427.36" y="331.5" width="2.73" height="11.4" fill="#169316"/><rect x="429.19" y="331.5" width="2.73" height="11.4" fill="#169316"/><rect x="431.02" y="331.5" width="2.73" height="11.4" fill="#169316"/><rect x="432.85" y="331.5" width="1.83" height="11.4" fill="#267f26"/><rect x="368.8" y="342" width="1.83" height="11.4" fill="#4ed74e"/><rect x="381.61" y="342" width="1.83" height="10.5" fill="#4ed74e"/><rect x="394.42" y="342" width="1.83" height="11.4" fill="#4ed74e"/><rect x="399.91" y="342" width="2.73" height="10.5" fill="#21c221"/><rect x="401.74" y="342" width="2.73" height="10.5" fill="#21c221"/><rect x="401.74" y="342" width="1.83" height="11.4" fill="#21c221"/><rect x="403.57" y="342" width="1.83" height="10.5" fill="#21c221"/><rect x="407.23" y="342" width="1.83" height="11.4" fill="#38cd38"/><rect x="410.89" y="342" width="1.83" height="11.4" fill="#38cd38"/><rect x="414.55" y="342" width="2.73" height="10.5" fill="#21c221"/><rect x="414.55" y="342" width="1.83" height="11.4" fill="#21c221"/><rect x="416.38" y="342" width="2.73" height="10.5" fill="#21c221"/><rect x="418.21" y="342" width="1.83" height="11.4" fill="#21c221"/><rect x="421.87" y="342" width="2.73" height="11.4" fill="#169316"/><rect x="423.7" y="342" width="2.73" height="11.4" fill="#267f26"/><rect x="425.53" y="342" width="2.73" height="11.4" fill="#267f26"/><rect x="427.36" y="342" width="2.73" height="11.4" fill="#08b508"/><rect x="429.19" y="342" width="2.73" height="11.4" fill="#02a502"/><rect x="431.02" y="342" width="2.73" height="11.4" fill="#169316"/><rect x="432.85" y="342" width="1.83" height="11.4" fill="#267f26"/><rect x="368.8" y="352.5" width="1.83" height="10.5" fill="#4ed74e"/><rect x="376.12" y="352.5" width="1.83" height="10.5" fill="#4ed74e"/><rect x="394.42" y="352.5" width="1.83" height="10.5" fill="#4ed74e"/><rect x="401.74" y="352.5" width="1.83" height="10.5" fill="#21c221"/><rect x="407.23" y="352.5" width="1.83" height="10.5" fill="#38cd38"/><rect x="410.89" y="352.5" width="1.83" height="11.4" fill="#38cd38"/><rect x="414.55" y="352.5" width="1.83" height="11.4" fill="#21c221"/><rect x="418.21" y="352.5" width="2.73" height="11.4" fill="#38cd38"/><rect x="420.04" y="352.5" width="2.73" height="11.4" fill="#38cd38"/><rect x="421.87" y="352.5" width="2.73" height="11.4" fill="#02a502"/><rect x="423.7" y="352.5" width="2.73" height="11.4" fill="#306d30"/><rect x="425.53" y="352.5" width="2.73" height="11.4" fill="#169316"/><rect x="427.36" y="352.5" width="2.73" height="11.4" fill="#08b508"/><rect x="429.19" y="352.5" width="2.73" height="11.4" fill="#08b508"/><rect x="431.02" y="352.5" width="2.73" height="11.4" fill="#267f26"/><rect x="432.85" y="352.5" width="1.83" height="11.4" fill="#169316"/><rect x="377.95" y="363" width="1.83" height="10.5" fill="#4ed74e"/><rect x="381.61" y="363" width="1.83" height="10.5" fill="#4ed74e"/><rect x="387.1" y="363" width="1.83" height="11.4" fill="#4ed74e"/><rect x="405.4" y="363" width="1.83" height="10.5" fill="#38cd38"/><rect x="410.89" y="363" width="1.83" height="10.5" fill="#38cd38"/><rect x="414.55" y="363" width="1.83" height="11.4" fill="#21c221"/><rect x="418.21" y="363" width="2.73" height="11.4" fill="#21c221"/><rect x="420.04" y="363" width="2.73" height="11.4" fill="#21c221"/><rect x="421.87" y="363" width="2.73" height="11.4" fill="#02a502"/><rect x="423.7" y="363" width="2.73" height="11.4" fill="#267f26"/><rect x="425.53" y="363" width="2.73" height="11.4" fill="#02a502"/><rect x="427.36" y="363" width="2.73" height="11.4" fill="#02a502"/><rect x="429.19" y="363" width="2.73" height="11.4" fill="#02a502"/><rect x="431.02" y="363" width="2.73" height="11.4" fill="#169316"/><rect x="432.85" y="363" width="1.83" height="11.4" fill="#02a502"/><rect x="368.8" y="373.5" width="1.83" height="11.4" fill="#4ed74e"/><rect x="387.1" y="373.5" width="1.83" height="11.4" fill="#4ed74e"/><rect x="401.74" y="373.5" width="2.73" height="10.5" fill="#21c221"/><rect x="403.57" y="373.5" width="1.83" height="10.5" fill="#21c221"/><rect x="407.23" y="373.5" width="1.83" height="10.5" fill="#38cd38"/><rect x="414.55" y="373.5" width="1.83" height="11.4" fill="#21c221"/><rect x="418.21" y="373.5" width="2.73" height="11.4" fill="#21c221"/><rect x="420.04" y="373.5" width="2.73" height="11.4" fill="#21c221"/><rect x="421.87" y="373.5" width="2.73" height="11.4" fill="#02a502"/><rect x="423.7" y="373.5" width="2.73" height="11.4" fill="#169316"/><rect x="425.53" y="373.5" width="2.73" height="11.4" fill="#02a502"/><rect x="427.36" y="373.5" width="2.73" height="11.4" fill="#02a502"/><rect x="429.19" y="373.5" width="2.73" height="11.4" fill="#169316"/><rect x="431.02" y="373.5" width="2.73" height="11.4" fill="#169316"/><rect x="432.85" y="373.5" width="1.83" height="11.4" fill="#02a502"/><rect x="368.8" y="384" width="1.83" height="10.5" fill="#4ed74e"/><rect x="377.95" y="384" width="2.73" height="10.5" fill="#38cd38"/><rect x="377.95" y="384" width="1.83" height="11.4" fill="#38cd38"/><rect x="379.78" y="384" width="1.83" height="10.5" fill="#38cd38"/><rect x="387.1" y="384" width="1.83" height="10.5" fill="#4ed74e"/><rect x="394.42" y="384" width="1.83" height="10.5" fill="#4ed74e"/><rect x="399.91" y="384" width="1.83" height="11.4" fill="#38cd38"/><rect x="405.4" y="384" width="1.83" height="11.4" fill="#38cd38"/><rect x="414.55" y="384" width="1.83" height="10.5" fill="#38cd38"/><rect x="418.21" y="384" width="2.73" height="11.4" fill="#21c221"/><rect x="420.04" y="384" width="2.73" height="11.4" fill="#21c221"/><rect x="421.87" y="384" width="2.73" height="11.4" fill="#02a502"/><rect x="423.7" y="384" width="2.73" height="11.4" fill="#267f26"/><rect x="425.53" y="384" width="2.73" height="11.4" fill="#169316"/><rect x="427.36" y="384" width="2.73" height="11.4" fill="#306d30"/><rect x="429.19" y="384" width="2.73" height="11.4" fill="#169316"/><rect x="431.02" y="384" width="2.73" height="11.4" fill="#169316"/><rect x="432.85" y="384" width="1.83" height="11.4" fill="#02a502"/><rect x="377.95" y="394.5" width="1.83" height="10.5" fill="#4ed74e"/><rect x="399.91" y="394.5" width="2.73" height="10.5" fill="#38cd38"/><rect x="401.74" y="394.5" width="2.73" height="11.4" fill="#38cd38"/><rect x="403.57" y="394.5" width="2.73" height="10.5" fill="#38cd38"/><rect x="403.57" y="394.5" width="1.83" height="11.4" fill="#38cd38"/><rect x="405.4" y="394.5" width="1.83" height="10.5" fill="#38cd38"/><rect x="418.21" y="394.5" width="2.73" height="10.5" fill="#21c221"/><rect x="420.04" y="394.5" width="2.73" height="11.4" fill="#21c221"/><rect x="421.87" y="394.5" width="2.73" height="11.4" fill="#08b508"/><rect x="423.7" y="394.5" width="2.73" height="11.4" fill="#02a502"/><rect x="425.53" y="394.5" width="2.73" height="11.4" fill="#02a502"/><rect x="427.36" y="394.5" width="2.73" height="11.4" fill="#267f26"/><rect x="429.19" y="394.5" width="2.73" height="11.4" fill="#02a502"/><rect x="431.02" y="394.5" width="2.73" height="11.4" fill="#08b508"/><rect x="432.85" y="394.5" width="1.83" height="11.4" fill="#08b508"/><rect x="401.74" y="405" width="2.73" height="10.5" fill="#38cd38"/><rect x="403.57" y="405" width="1.83" height="11.4" fill="#38cd38"/><rect x="409.06" y="405" width="2.73" height="10.5" fill="#38cd38"/><rect x="409.06" y="405" width="1.83" height="11.4" fill="#38cd38"/><rect x="410.89" y="405" width="1.83" height="10.5" fill="#38cd38"/><rect x="414.55" y="405" width="1.83" height="11.4" fill="#08b508"/><rect x="420.04" y="405" width="2.73" height="10.5" fill="#21c221"/><rect x="421.87" y="405" width="2.73" height="11.4" fill="#02a502"/><rect x="423.7" y="405" width="2.73" height="11.4" fill="#02a502"/><rect x="425.53" y="405" width="2.73" height="10.5" fill="#08b508"/><rect x="425.53" y="405" width="1.83" height="11.4" fill="#08b508"/><rect x="427.36" y="405" width="2.73" height="10.5" fill="#08b508"/><rect x="429.19" y="405" width="2.73" height="11.4" fill="#08b508"/><rect x="431.02" y="405" width="2.73" height="11.4" fill="#08b508"/><rect x="432.85" y="405" width="1.83" height="11.4" fill="#08b508"/><rect x="381.61" y="415.5" width="1.83" height="11.4" fill="#4ed74e"/><rect x="403.57" y="415.5" width="1.83" height="10.5" fill="#38cd38"/><rect x="407.23" y="415.5" width="2.73" height="10.5" fill="#38cd38"/><rect x="409.06" y="415.5" width="1.83" height="10.5" fill="#38cd38"/><rect x="414.55" y="415.5" width="1.83" height="11.4" fill="#38cd38"/><rect x="418.21" y="415.5" width="1.83" height="10.5" fill="#38cd38"/><rect x="421.87" y="415.5" width="2.73" height="11.4" fill="#21c221"/><rect x="423.7" y="415.5" width="2.73" height="11.4" fill="#21c221"/><rect x="425.53" y="415.5" width="1.83" height="11.4" fill="#21c221"/><rect x="429.19" y="415.5" width="2.73" height="10.5" fill="#21c221"/><rect x="431.02" y="415.5" width="2.73" height="10.5" fill="#21c221"/><rect x="432.85" y="415.5" width="1.83" height="10.5" fill="#21c221"/><rect x="368.8" y="426" width="1.83" height="10.5" fill="#4ed74e"/><rect x="381.61" y="426" width="2.73" height="10.5" fill="#4ed74e"/><rect x="381.61" y="426" width="1.83" height="11.4" fill="#4ed74e"/><rect x="383.44" y="426" width="1.83" height="10.5" fill="#38cd38"/><rect x="387.1" y="426" width="1.83" height="11.4" fill="#4ed74e"/><rect x="414.55" y="426" width="1.83" height="10.5" fill="#38cd38"/><rect x="421.87" y="426" width="2.73" height="10.5" fill="#21c221"/><rect x="423.7" y="426" width="2.73" height="10.5" fill="#21c221"/><rect x="425.53" y="426" width="2.73" height="11.4" fill="#21c221"/><rect x="427.36" y="426" width="1.83" height="11.4" fill="#21c221"/><rect x="376.12" y="436.5" width="1.83" height="10.5" fill="#4ed74e"/><rect x="381.61" y="436.5" width="1.83" height="10.5" fill="#4ed74e"/><rect x="387.1" y="436.5" width="1.83" height="10.5" fill="#4ed74e"/><rect x="405.4" y="436.5" width="1.83" height="10.5" fill="#4ed74e"/><rect x="410.89" y="436.5" width="1.83" height="10.5" fill="#4ed74e"/><rect x="425.53" y="436.5" width="2.73" height="10.5" fill="#21c221"/><rect x="427.36" y="436.5" width="2.73" height="11.4" fill="#21c221"/><rect x="429.19" y="436.5" width="1.83" height="11.4" fill="#21c221"/><rect x="368.8" y="447" width="1.83" height="10.5" fill="#4ed74e"/><rect x="394.42" y="447" width="1.83" height="10.5" fill="#4ed74e"/><rect x="421.87" y="447" width="2.73" height="10.5" fill="#21c221"/><rect x="423.7" y="447" width="1.83" height="10.5" fill="#21c221"/><rect x="427.36" y="447" width="2.73" height="11.4" fill="#38cd38"/><rect x="429.19" y="447" width="1.83" height="11.4" fill="#38cd38"/><rect x="432.85" y="447" width="1.83" height="10.5" fill="#38cd38"/><rect x="418.21" y="457.5" width="1.83" height="10.5" fill="#38cd38"/><rect x="427.36" y="457.5" width="2.73" height="10.5" fill="#21c221"/><rect x="427.36" y="457.5" width="1.83" height="11.4" fill="#21c221"/><rect x="429.19" y="457.5" width="1.83" height="10.5" fill="#21c221"/><rect x="381.61" y="468" width="1.83" height="10.5" fill="#4ed74e"/><rect x="427.36" y="468" width="1.83" height="10.5" fill="#38cd38"/><rect x="432.85" y="468" width="1.83" height="11.4" fill="#38cd38"/><rect x="387.1" y="478.5" width="1.83" height="10.5" fill="#4ed74e"/><rect x="394.42" y="478.5" width="1.83" height="10.5" fill="#4ed74e"/><rect x="407.23" y="478.5" width="1.83" height="10.5" fill="#4ed74e"/><rect x="421.87" y="478.5" width="2.73" height="10.5" fill="#38cd38"/><rect x="423.7" y="478.5" width="2.73" height="10.5" fill="#38cd38"/><rect x="425.53" y="478.5" width="1.83" height="10.5" fill="#38cd38"/><rect x="431.02" y="478.5" width="2.73" height="10.5" fill="#38cd38"/><rect x="432.85" y="478.5" width="1.83" height="10.5" fill="#38cd38"/>
<line x1="276" y1="495.65" x2="434.1" y2="321.05" stroke="#ff0a0a" stroke-width="1.45" stroke-linecap="butt"/>
<rect x="268.45" y="312.45" width="174.25" height="191.6" fill="none" stroke="#d2d2d2" stroke-width="0.8"/>
<rect x="386.6" y="483.85" width="52.1" height="15.6" rx="1.5" fill="#fff" fill-opacity="0.8" stroke="#dcdcdc" stroke-opacity="0.8" stroke-width="0.6"/>
<line x1="390.05" y1="490.95" x2="409.4" y2="490.95" stroke="#ff1a1a" stroke-width="1.45"/>
<text class="k" x="416.4" y="493.95">x=y</text>
<text class="k" text-anchor="middle" x="274.5" y="512.65">0</text>
<text class="k" text-anchor="end" x="267.35" y="501.15">0</text>
<text class="k" text-anchor="middle" x="306.75" y="512.65">20</text>
<text class="k" text-anchor="end" x="267.35" y="465.81">20</text>
<text class="k" text-anchor="middle" x="339" y="512.65">40</text>
<text class="k" text-anchor="end" x="267.35" y="430.47">40</text>
<text class="k" text-anchor="middle" x="371.25" y="512.65">60</text>
<text class="k" text-anchor="end" x="267.35" y="395.13">60</text>
<text class="k" text-anchor="middle" x="403.5" y="512.65">80</text>
<text class="k" text-anchor="end" x="267.35" y="359.79">80</text>
<text class="k" text-anchor="middle" x="435.75" y="512.65">100</text>
<text class="k" text-anchor="end" x="267.35" y="324.45">100</text>
<text class="l" x="355.57" y="521.55" xml:space="preserve">Starting sequence K562  DE %ile</text>
<text class="l" style="font-size:9.15px" transform="translate(247.45 408.35) rotate(-90)" xml:space="preserve">Designed sequence K562  DE %ile</text>
<text class="t" x="355.57" y="285.85">Using motif tiling (n=593)</text>
<text class="t" x="354.07" y="297.85">9.27% of designs improve</text>
<text class="t" x="355.57" y="309.85">upon starting sequences</text>
<rect x="453.1" y="312.45" width="9.5" height="191.6" fill="url(#gg)"/>
<text class="k" x="464.2" y="507.75">0</text>
<text class="k" x="464.2" y="480.38">2</text>
<text class="k" x="464.2" y="453.01">4</text>
<text class="k" x="464.2" y="425.64">6</text>
<text class="k" x="464.2" y="398.26">8</text>
<text class="k" x="464.2" y="370.89">10</text>
<text class="k" x="464.2" y="343.52">12</text>
<text class="k" x="464.2" y="316.15">14</text>
</g>
<g>
<rect x="632" y="320.8" width="1.72" height="16.85" fill="#5fdd5f"/><rect x="652.64" y="320.8" width="1.72" height="16.85" fill="#5fdd5f"/><rect x="661.24" y="320.8" width="1.72" height="16.85" fill="#5fdd5f"/><rect x="666.4" y="320.8" width="1.72" height="16.85" fill="#08b508"/><rect x="669.84" y="320.8" width="2.62" height="16.85" fill="#43d243"/><rect x="671.56" y="320.8" width="2.62" height="16.85" fill="#43d243"/><rect x="673.28" y="320.8" width="1.72" height="16.85" fill="#326632"/><rect x="632" y="336.75" width="1.72" height="15.95" fill="#5fdd5f"/><rect x="652.64" y="336.75" width="1.72" height="16.85" fill="#5fdd5f"/><rect x="661.24" y="336.75" width="1.72" height="15.95" fill="#5fdd5f"/><rect x="666.4" y="336.75" width="1.72" height="16.85" fill="#56da56"/><rect x="669.84" y="336.75" width="2.62" height="16.85" fill="#43d243"/><rect x="671.56" y="336.75" width="2.62" height="16.85" fill="#43d243"/><rect x="673.28" y="336.75" width="1.72" height="16.85" fill="#43d243"/><rect x="652.64" y="352.7" width="1.72" height="16.85" fill="#5fdd5f"/><rect x="666.4" y="352.7" width="1.72" height="16.85" fill="#56da56"/><rect x="669.84" y="352.7" width="2.62" height="15.95" fill="#43d243"/><rect x="671.56" y="352.7" width="2.62" height="16.85" fill="#43d243"/><rect x="673.28" y="352.7" width="1.72" height="16.85" fill="#43d243"/><rect x="632" y="368.65" width="1.72" height="15.95" fill="#5fdd5f"/><rect x="652.64" y="368.65" width="1.72" height="16.85" fill="#5fdd5f"/><rect x="666.4" y="368.65" width="1.72" height="16.85" fill="#56da56"/><rect x="671.56" y="368.65" width="2.62" height="16.85" fill="#43d243"/><rect x="673.28" y="368.65" width="1.72" height="16.85" fill="#43d243"/><rect x="652.64" y="384.6" width="1.72" height="16.85" fill="#5fdd5f"/><rect x="661.24" y="384.6" width="1.72" height="16.85" fill="#5fdd5f"/><rect x="666.4" y="384.6" width="1.72" height="16.85" fill="#56da56"/><rect x="669.84" y="384.6" width="2.62" height="16.85" fill="#43d243"/><rect x="671.56" y="384.6" width="2.62" height="16.85" fill="#43d243"/><rect x="673.28" y="384.6" width="1.72" height="16.85" fill="#43d243"/><rect x="632" y="400.55" width="1.72" height="15.95" fill="#5fdd5f"/><rect x="652.64" y="400.55" width="1.72" height="16.85" fill="#5fdd5f"/><rect x="661.24" y="400.55" width="1.72" height="15.95" fill="#5fdd5f"/><rect x="666.4" y="400.55" width="1.72" height="16.85" fill="#56da56"/><rect x="669.84" y="400.55" width="2.62" height="16.85" fill="#43d243"/><rect x="671.56" y="400.55" width="2.62" height="16.85" fill="#43d243"/><rect x="673.28" y="400.55" width="1.72" height="16.85" fill="#43d243"/><rect x="652.64" y="416.5" width="1.72" height="15.95" fill="#5fdd5f"/><rect x="666.4" y="416.5" width="1.72" height="16.85" fill="#56da56"/><rect x="669.84" y="416.5" width="2.62" height="16.85" fill="#43d243"/><rect x="671.56" y="416.5" width="2.62" height="16.85" fill="#43d243"/><rect x="673.28" y="416.5" width="1.72" height="16.85" fill="#43d243"/><rect x="632" y="432.45" width="1.72" height="15.95" fill="#5fdd5f"/><rect x="661.24" y="432.45" width="1.72" height="16.85" fill="#5fdd5f"/><rect x="666.4" y="432.45" width="1.72" height="16.85" fill="#56da56"/><rect x="669.84" y="432.45" width="2.62" height="16.85" fill="#43d243"/><rect x="671.56" y="432.45" width="2.62" height="16.85" fill="#43d243"/><rect x="673.28" y="432.45" width="1.72" height="16.85" fill="#43d243"/><rect x="652.64" y="448.4" width="1.72" height="16.85" fill="#5fdd5f"/><rect x="661.24" y="448.4" width="1.72" height="15.95" fill="#5fdd5f"/><rect x="666.4" y="448.4" width="1.72" height="15.95" fill="#56da56"/><rect x="669.84" y="448.4" width="2.62" height="15.95" fill="#43d243"/><rect x="671.56" y="448.4" width="2.62" height="16.85" fill="#43d243"/><rect x="673.28" y="448.4" width="1.72" height="16.85" fill="#43d243"/><rect x="632" y="464.35" width="1.72" height="15.95" fill="#5fdd5f"/><rect x="652.64" y="464.35" width="1.72" height="15.95" fill="#5fdd5f"/><rect x="671.56" y="464.35" width="2.62" height="16.85" fill="#43d243"/><rect x="673.28" y="464.35" width="1.72" height="16.85" fill="#43d243"/><rect x="666.4" y="480.3" width="1.72" height="15.95" fill="#56da56"/><rect x="671.56" y="480.3" width="2.62" height="15.95" fill="#43d243"/><rect x="673.28" y="480.3" width="1.72" height="15.95" fill="#43d243"/>
<line x1="516.1" y1="494.5" x2="674.8" y2="320.8" stroke="#ff0a0a" stroke-width="1.45" stroke-linecap="butt"/>
<rect x="508.55" y="312.45" width="174.05" height="191.6" fill="none" stroke="#d2d2d2" stroke-width="0.8"/>
<rect x="626.5" y="483.85" width="52.1" height="15.6" rx="1.5" fill="#fff" fill-opacity="0.8" stroke="#dcdcdc" stroke-opacity="0.8" stroke-width="0.6"/>
<line x1="629.95" y1="490.95" x2="649.3" y2="490.95" stroke="#ff1a1a" stroke-width="1.45"/>
<text class="k" x="656.3" y="493.95">x=y</text>
<text class="k" text-anchor="middle" x="515.65" y="512.65">0</text>
<text class="k" text-anchor="end" x="507.45" y="499.1">0</text>
<text class="k" text-anchor="middle" x="547.53" y="512.65">20</text>
<text class="k" text-anchor="end" x="507.45" y="464.16">20</text>
<text class="k" text-anchor="middle" x="579.41" y="512.65">40</text>
<text class="k" text-anchor="end" x="507.45" y="429.22">40</text>
<text class="k" text-anchor="middle" x="611.29" y="512.65">60</text>
<text class="k" text-anchor="end" x="507.45" y="394.28">60</text>
<text class="k" text-anchor="middle" x="643.17" y="512.65">80</text>
<text class="k" text-anchor="end" x="507.45" y="359.34">80</text>
<text class="k" text-anchor="middle" x="675.05" y="512.65">100</text>
<text class="k" text-anchor="end" x="507.45" y="324.4">100</text>
<text class="l" x="595.58" y="521.55" xml:space="preserve">Starting sequence THP1  DE %ile</text>
<text class="l" style="font-size:9.15px" transform="translate(487.55 408.35) rotate(-90)" xml:space="preserve">Designed sequence THP1  DE %ile</text>
<text class="t" x="595.58" y="285.85">Using motif tiling (n=480)</text>
<text class="t" x="594.08" y="297.85">15.62% of designs improve</text>
<text class="t" x="595.58" y="309.85">upon starting sequences</text>
<rect x="692.1" y="312.45" width="9.6" height="191.6" fill="url(#gg)"/>
<text class="k" x="703.3" y="507.75">0</text>
<text class="k" x="703.3" y="478.27">20</text>
<text class="k" x="703.3" y="448.8">40</text>
<text class="k" x="703.3" y="419.32">60</text>
<text class="k" x="703.3" y="389.84">80</text>
<text class="k" x="703.3" y="360.37">100</text>
<text class="k" x="703.3" y="330.89">120</text>
</g>
</svg></body></html>
